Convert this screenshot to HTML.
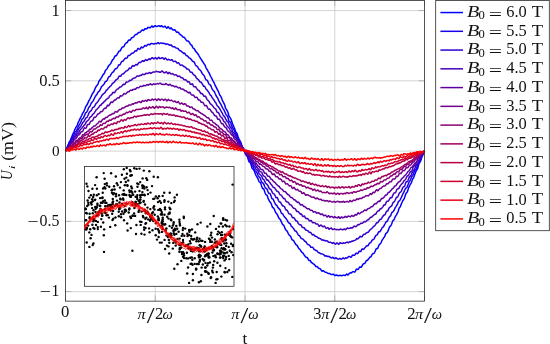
<!DOCTYPE html>
<html><head><meta charset="utf-8"><title>plot</title>
<style>html,body{margin:0;padding:0;background:#fff}svg{display:block}</style></head>
<body>
<svg width="550" height="344" viewBox="0 0 550 344">
<rect width="550" height="344" fill="#fff"/>
<g stroke="#c6c6c6" stroke-width="0.75" fill="none">
<line x1="155.26" y1="0.45" x2="155.26" y2="301.15"/>
<line x1="245.03" y1="0.45" x2="245.03" y2="301.15"/>
<line x1="334.79" y1="0.45" x2="334.79" y2="301.15"/>
<line x1="65.5" y1="10.55" x2="424.55" y2="10.55"/>
<line x1="65.5" y1="80.82" x2="424.55" y2="80.82"/>
<line x1="65.5" y1="151.10" x2="424.55" y2="151.10"/>
<line x1="65.5" y1="221.38" x2="424.55" y2="221.38"/>
<line x1="65.5" y1="291.65" x2="424.55" y2="291.65"/>
</g>
<g stroke="#a0a0a0" stroke-width="0.7" fill="none">
<line x1="65.50" y1="0.45" x2="65.50" y2="6.15"/>
<line x1="65.50" y1="301.15" x2="65.50" y2="295.45"/>
<line x1="155.26" y1="0.45" x2="155.26" y2="6.15"/>
<line x1="155.26" y1="301.15" x2="155.26" y2="295.45"/>
<line x1="245.03" y1="0.45" x2="245.03" y2="6.15"/>
<line x1="245.03" y1="301.15" x2="245.03" y2="295.45"/>
<line x1="334.79" y1="0.45" x2="334.79" y2="6.15"/>
<line x1="334.79" y1="301.15" x2="334.79" y2="295.45"/>
<line x1="424.55" y1="0.45" x2="424.55" y2="6.15"/>
<line x1="424.55" y1="301.15" x2="424.55" y2="295.45"/>
<line x1="65.5" y1="10.55" x2="71.2" y2="10.55"/>
<line x1="424.55" y1="10.55" x2="418.85" y2="10.55"/>
<line x1="65.5" y1="80.82" x2="71.2" y2="80.82"/>
<line x1="424.55" y1="80.82" x2="418.85" y2="80.82"/>
<line x1="65.5" y1="151.10" x2="71.2" y2="151.10"/>
<line x1="424.55" y1="151.10" x2="418.85" y2="151.10"/>
<line x1="65.5" y1="221.38" x2="71.2" y2="221.38"/>
<line x1="424.55" y1="221.38" x2="418.85" y2="221.38"/>
<line x1="65.5" y1="291.65" x2="71.2" y2="291.65"/>
<line x1="424.55" y1="291.65" x2="418.85" y2="291.65"/>
</g>
<g fill="none" stroke-width="1.5" stroke-linejoin="round">
<polyline stroke="#0000ff" points="65.50,150.82 66.00,149.63 66.50,148.46 67.00,147.40 67.49,146.40 67.99,145.48 68.49,144.35 68.99,142.75 69.49,141.56 69.99,140.90 70.49,140.12 70.99,138.89 71.48,137.46 71.98,136.27 72.48,135.08 72.98,133.82 73.48,132.79 73.98,131.74 74.48,130.53 74.97,129.35 75.47,128.22 75.97,127.22 76.47,126.54 76.97,125.82 77.47,124.51 77.97,122.98 78.47,121.90 78.96,121.02 79.46,119.91 79.96,118.85 80.46,118.00 80.96,117.00 81.46,115.95 81.96,114.89 82.46,113.63 82.95,112.79 83.45,112.13 83.95,111.08 84.45,109.95 84.95,108.78 85.45,107.41 85.95,106.23 86.44,105.71 86.94,105.05 87.44,103.88 87.94,102.86 88.44,101.61 88.94,100.50 89.44,99.96 89.94,99.02 90.43,97.81 90.93,96.94 91.43,95.92 91.93,94.68 92.43,93.67 92.93,92.91 93.43,92.40 93.92,91.63 94.42,90.29 94.92,88.97 95.42,87.85 95.92,86.87 96.42,86.06 96.92,85.45 97.42,84.89 97.91,84.11 98.41,82.82 98.91,81.33 99.41,80.60 99.91,80.13 100.41,79.23 100.91,78.41 101.41,77.68 101.90,76.84 102.40,75.87 102.90,74.99 103.40,74.38 103.90,73.92 104.40,73.13 104.90,71.76 105.39,70.62 105.89,70.02 106.39,69.52 106.89,68.86 107.39,68.02 107.89,67.06 108.39,66.16 108.89,65.54 109.38,64.99 109.88,64.49 110.38,63.94 110.88,63.10 111.38,62.10 111.88,61.06 112.38,60.16 112.87,59.60 113.37,59.21 113.87,58.31 114.37,57.26 114.87,56.46 115.37,55.75 115.87,55.64 116.37,55.63 116.86,54.85 117.36,53.96 117.86,53.20 118.36,52.26 118.86,51.42 119.36,51.11 119.86,51.11 120.35,50.60 120.85,49.54 121.35,48.56 121.85,47.66 122.35,47.07 122.85,46.95 123.35,46.88 123.85,46.58 124.34,45.70 124.84,44.51 125.34,43.67 125.84,43.19 126.34,42.86 126.84,42.80 127.34,42.34 127.84,41.34 128.33,40.54 128.83,40.06 129.33,40.05 129.83,40.16 130.33,39.98 130.83,39.10 131.33,38.03 131.82,37.76 132.32,37.67 132.82,37.38 133.32,37.16 133.82,36.66 134.32,35.92 134.82,35.25 135.32,34.65 135.81,34.43 136.31,34.47 136.81,34.26 137.31,33.88 137.81,33.39 138.31,32.76 138.81,32.46 139.30,32.41 139.80,32.33 140.30,32.10 140.80,31.52 141.30,30.79 141.80,30.25 142.30,30.04 142.80,30.10 143.29,30.48 143.79,30.51 144.29,29.52 144.79,28.65 145.29,28.75 145.79,28.96 146.29,28.85 146.78,28.76 147.28,28.23 147.78,27.53 148.28,27.37 148.78,27.43 149.28,27.55 149.78,27.77 150.28,27.72 150.77,27.15 151.27,26.42 151.77,25.94 152.27,26.24 152.77,26.96 153.27,27.11 153.77,26.81 154.27,26.25 154.76,25.66 155.26,25.66 155.76,26.12 156.26,26.44 156.76,26.48 157.26,26.35 157.76,26.09 158.25,25.81 158.75,25.74 159.25,25.84 159.75,26.16 160.25,26.58 160.75,26.38 161.25,25.85 161.75,25.86 162.24,26.34 162.74,26.88 163.24,27.04 163.74,26.86 164.24,26.53 164.74,26.17 165.24,26.47 165.73,27.15 166.23,27.80 166.73,28.23 167.23,27.82 167.73,26.89 168.23,26.76 168.73,27.42 169.23,27.98 169.72,28.54 170.22,28.69 170.72,28.05 171.22,27.84 171.72,28.50 172.22,29.21 172.72,29.75 173.22,30.07 173.71,29.90 174.21,29.73 174.71,29.95 175.21,30.24 175.71,30.87 176.21,31.81 176.71,32.30 177.20,32.25 177.70,32.05 178.20,32.19 178.70,32.72 179.20,33.52 179.70,34.22 180.20,34.52 180.70,34.76 181.19,35.24 181.69,35.67 182.19,36.03 182.69,36.76 183.19,37.31 183.69,37.31 184.19,37.27 184.68,37.79 185.18,38.67 185.68,39.41 186.18,40.01 186.68,40.57 187.18,40.98 187.68,40.90 188.18,40.93 188.67,41.61 189.17,42.16 189.67,42.71 190.17,43.82 190.67,44.71 191.17,44.90 191.67,45.16 192.16,46.16 192.66,47.39 193.16,48.04 193.66,48.34 194.16,48.72 194.66,49.38 195.16,50.34 195.66,51.27 196.15,51.88 196.65,52.37 197.15,52.92 197.65,53.55 198.15,54.28 198.65,55.02 199.15,56.02 199.65,56.88 200.14,57.57 200.64,58.61 201.14,59.33 201.64,59.90 202.14,60.97 202.64,61.71 203.14,62.14 203.63,63.04 204.13,63.93 204.63,64.60 205.13,65.48 205.63,66.68 206.13,67.96 206.63,68.98 207.13,69.56 207.62,70.28 208.12,71.30 208.62,72.19 209.12,73.01 209.62,74.08 210.12,75.38 210.62,76.31 211.11,77.05 211.61,78.02 212.11,79.13 212.61,80.22 213.11,81.08 213.61,81.81 214.11,82.79 214.61,84.02 215.10,85.13 215.60,86.13 216.10,87.08 216.60,88.14 217.10,89.25 217.60,90.05 218.10,90.90 218.59,92.01 219.09,93.21 219.59,94.54 220.09,95.54 220.59,96.13 221.09,96.99 221.59,98.30 222.09,99.59 222.58,100.67 223.08,101.71 223.58,102.70 224.08,103.68 224.58,104.78 225.08,106.41 225.58,108.02 226.08,108.91 226.57,109.64 227.07,110.56 227.57,111.45 228.07,112.66 228.57,114.56 229.07,116.26 229.57,117.06 230.06,117.57 230.56,118.36 231.06,119.50 231.56,120.75 232.06,122.44 232.56,124.11 233.06,125.11 233.56,126.15 234.05,127.23 234.55,128.27 235.05,129.90 235.55,131.55 236.05,132.41 236.55,132.86 237.05,133.56 237.54,134.95 238.04,136.76 238.54,138.19 239.04,139.15 239.54,140.06 240.04,140.98 240.54,141.92 241.04,143.07 241.53,144.60 242.03,146.17 242.53,147.36 243.03,148.24 243.53,148.95 244.03,149.81 244.53,151.31 245.03,153.07 245.52,154.34 246.02,154.95 246.52,155.42 247.02,156.04 247.52,156.74 248.02,158.21 248.52,160.29 249.01,161.72 249.51,162.19 250.01,162.45 250.51,163.20 251.01,164.49 251.51,166.37 252.01,168.12 252.51,168.84 253.00,169.01 253.50,169.44 254.00,170.39 254.50,171.58 255.00,172.97 255.50,174.34 256.00,175.35 256.49,176.24 256.99,177.01 257.49,177.74 257.99,178.84 258.49,180.27 258.99,181.37 259.49,181.96 259.99,182.29 260.48,182.68 260.98,183.86 261.48,185.65 261.98,187.11 262.48,188.15 262.98,188.63 263.48,188.67 263.97,189.45 264.47,191.02 264.97,192.54 265.47,193.79 265.97,194.72 266.47,195.00 266.97,195.16 267.47,196.21 267.96,197.94 268.46,199.19 268.96,200.07 269.46,201.09 269.96,201.82 270.46,202.38 270.96,203.19 271.46,204.32 271.95,205.84 272.45,207.15 272.95,207.66 273.45,207.98 273.95,208.58 274.45,209.52 274.95,210.71 275.44,212.08 275.94,212.97 276.44,213.32 276.94,214.07 277.44,214.97 277.94,215.92 278.44,217.16 278.94,218.21 279.43,218.80 279.93,219.13 280.43,219.74 280.93,220.82 281.43,221.96 281.93,223.09 282.43,224.19 282.92,224.71 283.42,224.91 283.92,225.71 284.42,226.84 284.92,228.11 285.42,229.28 285.92,229.99 286.42,230.43 286.91,230.82 287.41,231.66 287.91,232.75 288.41,233.81 288.91,234.74 289.41,235.26 289.91,235.67 290.40,236.14 290.90,236.92 291.40,238.16 291.90,239.34 292.40,239.95 292.90,240.11 293.40,240.35 293.90,241.08 294.39,242.23 294.89,243.04 295.39,243.65 295.89,244.55 296.39,245.06 296.89,245.16 297.39,245.81 297.89,246.87 298.38,247.88 298.88,248.65 299.38,248.92 299.88,249.30 300.38,250.04 300.88,250.86 301.38,251.73 301.87,252.26 302.37,252.43 302.87,252.98 303.37,253.88 303.87,254.51 304.37,255.20 304.87,256.03 305.37,256.61 305.86,257.15 306.36,257.49 306.86,257.41 307.36,257.70 307.86,258.52 308.36,259.42 308.86,260.29 309.35,260.57 309.85,260.40 310.35,260.69 310.85,261.76 311.35,262.51 311.85,262.67 312.35,263.05 312.85,263.49 313.34,263.83 313.84,264.19 314.34,264.66 314.84,265.14 315.34,265.77 315.84,266.48 316.34,266.63 316.84,266.56 317.33,266.73 317.83,267.23 318.33,267.98 318.83,268.47 319.33,268.59 319.83,268.61 320.33,268.85 320.82,269.51 321.32,270.32 321.82,271.03 322.32,271.20 322.82,270.78 323.32,270.65 323.82,271.07 324.32,271.52 324.81,271.94 325.31,272.16 325.81,272.21 326.31,272.39 326.81,272.65 327.31,273.01 327.81,273.36 328.30,273.46 328.80,273.48 329.30,273.50 329.80,273.60 330.30,273.95 330.80,274.24 331.30,274.44 331.80,274.60 332.29,274.44 332.79,274.34 333.29,274.31 333.79,274.46 334.29,275.14 334.79,275.62 335.29,275.51 335.78,275.21 336.28,274.96 336.78,274.97 337.28,275.32 337.78,275.72 338.28,275.80 338.78,275.56 339.28,275.42 339.77,275.37 340.27,275.37 340.77,275.67 341.27,275.82 341.77,275.59 342.27,275.46 342.77,275.30 343.27,275.16 343.76,275.22 344.26,275.29 344.76,275.42 345.26,275.38 345.76,274.95 346.26,274.30 346.76,274.04 347.25,274.56 347.75,275.07 348.25,274.90 348.75,274.05 349.25,273.29 349.75,273.18 350.25,272.93 350.75,272.77 351.24,272.97 351.74,272.57 352.24,271.86 352.74,271.66 353.24,271.69 353.74,271.65 354.24,271.88 354.73,272.11 355.23,271.51 355.73,270.36 356.23,269.46 356.73,269.07 357.23,269.27 357.73,269.57 358.23,269.29 358.72,268.59 359.22,267.77 359.72,267.04 360.22,266.96 360.72,267.24 361.22,267.17 361.72,266.59 362.21,265.53 362.71,264.58 363.21,264.09 363.71,263.71 364.21,263.61 364.71,263.58 365.21,262.91 365.71,261.73 366.20,260.73 366.70,260.47 367.20,260.48 367.70,260.03 368.20,259.28 368.70,258.71 369.20,258.15 369.70,257.42 370.19,256.98 370.69,256.97 371.19,256.41 371.69,255.15 372.19,254.31 372.69,253.81 373.19,253.51 373.68,253.50 374.18,253.15 374.68,252.26 375.18,251.15 375.68,249.94 376.18,248.89 376.68,248.53 377.18,248.71 377.67,248.39 378.17,247.16 378.67,245.76 379.17,244.80 379.67,244.18 380.17,243.81 380.67,243.42 381.16,242.48 381.66,241.28 382.16,240.17 382.66,239.34 383.16,238.59 383.66,237.77 384.16,237.30 384.66,236.66 385.15,235.20 385.65,233.87 386.15,233.32 386.65,232.95 387.15,232.39 387.65,231.69 388.15,230.67 388.64,229.32 389.14,227.99 389.64,226.86 390.14,226.28 390.64,225.92 391.14,225.12 391.64,223.99 392.14,222.50 392.63,221.15 393.13,220.46 393.63,220.12 394.13,219.52 394.63,218.25 395.13,216.89 395.63,216.02 396.13,215.38 396.62,214.58 397.12,213.57 397.62,212.68 398.12,211.53 398.62,209.74 399.12,208.19 399.62,207.48 400.11,206.91 400.61,205.88 401.11,204.52 401.61,203.31 402.11,202.18 402.61,200.99 403.11,200.20 403.61,199.73 404.10,198.91 404.60,197.60 405.10,196.04 405.60,194.48 406.10,193.30 406.60,192.69 407.10,192.23 407.59,191.10 408.09,189.48 408.59,188.00 409.09,186.87 409.59,185.87 410.09,184.76 410.59,183.84 411.09,183.18 411.58,182.27 412.08,180.65 412.58,179.13 413.08,178.45 413.58,177.78 414.08,176.40 414.58,174.96 415.08,173.71 415.57,172.36 416.07,171.09 416.57,170.26 417.07,169.76 417.57,168.70 418.07,167.01 418.57,165.11 419.06,163.52 419.56,162.71 420.06,162.03 420.56,161.11 421.06,159.84 421.56,158.01 422.06,156.50 422.56,155.55 423.05,154.57 423.55,153.49 424.05,152.31 424.55,151.10"/>
<polyline stroke="#1700e8" points="65.50,150.82 66.00,149.88 66.50,149.09 67.00,148.36 67.49,147.15 67.99,145.61 68.49,144.31 68.99,143.43 69.49,142.85 69.99,142.12 70.49,141.14 70.99,140.15 71.48,139.00 71.98,138.04 72.48,137.24 72.98,136.47 73.48,135.73 73.98,134.72 74.48,133.40 74.97,132.14 75.47,131.58 75.97,131.41 76.47,130.92 76.97,129.96 77.47,128.59 77.97,127.26 78.47,126.27 78.96,125.25 79.46,124.36 79.96,123.71 80.46,122.88 80.96,121.76 81.46,120.48 81.96,119.30 82.46,118.85 82.95,118.65 83.45,117.74 83.95,116.61 84.45,115.63 84.95,114.38 85.45,113.14 85.95,112.59 86.44,112.31 86.94,111.56 87.44,110.61 87.94,109.47 88.44,108.11 88.94,107.14 89.44,106.76 89.94,106.20 90.43,105.00 90.93,103.83 91.43,102.96 91.93,102.25 92.43,101.80 92.93,101.16 93.43,100.27 93.92,99.46 94.42,98.30 94.92,97.12 95.42,96.35 95.92,95.52 96.42,94.87 96.92,94.36 97.42,93.41 97.91,92.44 98.41,91.75 98.91,91.34 99.41,91.04 99.91,90.21 100.41,89.06 100.91,88.01 101.41,86.90 101.90,86.15 102.40,85.89 102.90,85.39 103.40,84.80 103.90,84.31 104.40,83.37 104.90,82.32 105.39,81.71 105.89,81.42 106.39,81.21 106.89,80.76 107.39,79.75 107.89,78.54 108.39,77.45 108.89,76.71 109.38,76.58 109.88,76.45 110.38,75.68 110.88,74.68 111.38,73.96 111.88,73.10 112.38,72.30 112.87,72.06 113.37,71.95 113.87,71.27 114.37,70.17 114.87,69.28 115.37,68.86 115.87,68.77 116.37,68.54 116.86,68.15 117.36,67.71 117.86,66.75 118.36,65.45 118.86,64.85 119.36,64.96 119.86,64.85 120.35,64.02 120.85,63.01 121.35,62.16 121.85,61.48 122.35,61.32 122.85,61.23 123.35,60.66 123.85,59.96 124.34,59.35 124.84,58.79 125.34,58.30 125.84,58.07 126.34,58.28 126.84,58.21 127.34,57.37 127.84,56.21 128.33,55.58 128.83,55.60 129.33,55.52 129.83,55.14 130.33,54.82 130.83,54.35 131.33,53.68 131.82,53.25 132.32,53.21 132.82,53.26 133.32,52.85 133.82,52.38 134.32,52.00 134.82,51.21 135.32,50.68 135.81,50.84 136.31,51.09 136.81,50.75 137.31,49.58 137.81,48.56 138.31,48.44 138.81,48.76 139.30,49.13 139.80,49.21 140.30,48.67 140.80,47.73 141.30,47.03 141.80,47.27 142.30,47.81 142.80,47.74 143.29,47.25 143.79,46.78 144.29,46.19 144.79,45.51 145.29,45.51 145.79,46.01 146.29,46.08 146.78,45.60 147.28,44.99 147.78,44.48 148.28,44.33 148.78,44.41 149.28,44.53 149.78,44.73 150.28,44.46 150.77,43.69 151.27,43.42 151.77,43.56 152.27,43.70 152.77,43.85 153.27,43.82 153.77,43.89 154.27,43.94 154.76,43.62 155.26,43.40 155.76,43.61 156.26,43.71 156.76,43.59 157.26,43.20 157.76,42.70 158.25,42.84 158.75,43.35 159.25,43.72 159.75,43.57 160.25,43.10 160.75,42.96 161.25,42.99 161.75,43.15 162.24,43.45 162.74,43.36 163.24,43.21 163.74,43.46 164.24,43.50 164.74,43.42 165.24,43.80 165.73,44.25 166.23,44.21 166.73,43.99 167.23,44.06 167.73,44.10 168.23,44.20 168.73,44.73 169.23,44.95 169.72,45.07 170.22,45.33 170.72,45.07 171.22,44.87 171.72,45.47 172.22,46.39 172.72,46.78 173.22,46.66 173.71,46.66 174.21,46.71 174.71,46.82 175.21,47.34 175.71,47.82 176.21,47.99 176.71,48.11 177.20,48.26 177.70,48.42 178.20,48.72 178.70,49.42 179.20,50.18 179.70,50.52 180.20,50.70 180.70,50.90 181.19,51.30 181.69,51.81 182.19,52.10 182.69,52.47 183.19,52.89 183.69,53.38 184.19,53.40 184.68,53.13 185.18,53.77 185.68,54.89 186.18,55.54 186.68,55.69 187.18,55.76 187.68,56.17 188.18,56.78 188.67,57.48 189.17,57.90 189.67,58.01 190.17,58.35 190.67,58.82 191.17,59.45 191.67,60.06 192.16,60.69 192.66,61.36 193.16,61.60 193.66,61.67 194.16,62.12 194.66,63.11 195.16,64.30 195.66,65.14 196.15,65.66 196.65,66.05 197.15,66.31 197.65,66.81 198.15,67.82 198.65,68.77 199.15,69.31 199.65,69.73 200.14,70.18 200.64,70.60 201.14,71.35 201.64,72.47 202.14,73.43 202.64,74.08 203.14,74.53 203.63,75.08 204.13,75.74 204.63,76.73 205.13,78.06 205.63,79.09 206.13,79.83 206.63,80.11 207.13,80.19 207.62,80.92 208.12,82.14 208.62,83.27 209.12,84.12 209.62,84.51 210.12,84.79 210.62,85.36 211.11,86.31 211.61,87.72 212.11,88.90 212.61,89.69 213.11,90.43 213.61,90.92 214.11,91.31 214.61,92.22 215.10,93.48 215.60,94.55 216.10,95.72 216.60,96.64 217.10,97.12 217.60,97.90 218.10,99.06 218.59,100.41 219.09,101.48 219.59,102.19 220.09,103.01 220.59,103.88 221.09,104.74 221.59,105.75 222.09,106.91 222.58,107.93 223.08,108.61 223.58,109.23 224.08,110.24 224.58,111.39 225.08,112.34 225.58,113.61 226.08,114.69 226.57,115.04 227.07,115.55 227.57,116.57 228.07,117.96 228.57,119.82 229.07,121.41 229.57,121.79 230.06,121.72 230.56,122.41 231.06,123.96 231.56,125.61 232.06,126.68 232.56,127.57 233.06,128.51 233.56,129.17 234.05,129.81 234.55,130.86 235.05,132.25 235.55,133.39 236.05,134.21 236.55,135.08 237.05,135.96 237.54,137.39 238.04,139.23 238.54,140.36 239.04,140.97 239.54,141.77 240.04,142.39 240.54,142.84 241.04,143.98 241.53,145.46 242.03,146.80 242.53,147.66 243.03,147.76 243.53,148.30 244.03,149.66 244.53,151.20 245.03,152.70 245.52,153.74 246.02,154.37 246.52,154.68 247.02,155.03 247.52,156.21 248.02,157.80 248.52,159.16 249.01,159.96 249.51,160.18 250.01,160.73 250.51,161.87 251.01,163.07 251.51,164.46 252.01,166.05 252.51,166.60 253.00,166.35 253.50,167.12 254.00,168.61 254.50,169.72 255.00,170.60 255.50,171.27 256.00,171.64 256.49,172.02 256.99,172.81 257.49,174.05 257.99,175.25 258.49,176.13 258.99,176.76 259.49,177.21 259.99,177.69 260.48,178.74 260.98,180.23 261.48,181.48 261.98,182.35 262.48,182.82 262.98,183.08 263.48,183.57 263.97,184.62 264.47,185.88 264.97,187.01 265.47,187.96 265.97,188.28 266.47,188.40 266.97,189.09 267.47,190.28 267.96,191.59 268.46,192.70 268.96,193.42 269.46,193.42 269.96,193.57 270.46,194.49 270.96,195.77 271.46,197.34 271.95,198.61 272.45,198.91 272.95,198.89 273.45,199.72 273.95,201.18 274.45,202.27 274.95,203.17 275.44,204.21 275.94,204.94 276.44,205.16 276.94,205.55 277.44,206.55 277.94,207.60 278.44,208.17 278.94,208.61 279.43,209.09 279.93,209.63 280.43,210.58 280.93,212.04 281.43,213.20 281.93,213.53 282.43,213.78 282.92,214.33 283.42,215.16 283.92,216.11 284.42,216.83 284.92,217.36 285.42,217.79 285.92,218.41 286.42,219.22 286.91,219.88 287.41,220.60 287.91,221.62 288.41,222.56 288.91,223.05 289.41,223.27 289.91,223.56 290.40,224.11 290.90,225.32 291.40,226.43 291.90,226.68 292.40,227.11 292.90,227.76 293.40,228.22 293.90,228.96 294.39,229.96 294.89,230.76 295.39,231.01 295.89,231.12 296.39,231.64 296.89,232.36 297.39,233.25 297.89,234.30 298.38,235.09 298.88,235.39 299.38,235.57 299.88,236.22 300.38,237.12 300.88,237.96 301.38,238.52 301.87,238.65 302.37,238.86 302.87,239.14 303.37,239.44 303.87,240.18 304.37,240.93 304.87,241.29 305.37,241.42 305.86,241.78 306.36,242.50 306.86,243.37 307.36,244.07 307.86,244.47 308.36,244.67 308.86,244.86 309.35,245.19 309.85,245.64 310.35,246.47 310.85,247.29 311.35,247.37 311.85,247.20 312.35,247.24 312.85,247.40 313.34,248.08 313.84,249.15 314.34,249.59 314.84,249.71 315.34,250.22 315.84,250.50 316.34,250.38 316.84,250.62 317.33,251.33 317.83,252.04 318.33,252.50 318.83,252.71 319.33,252.82 319.83,253.10 320.33,253.56 320.82,253.73 321.32,253.68 321.82,253.90 322.32,254.04 322.82,254.14 323.32,254.53 323.82,254.85 324.32,255.32 324.81,255.92 325.31,255.92 325.81,255.72 326.31,255.95 326.81,256.36 327.31,256.41 327.81,256.26 328.30,256.43 328.80,256.46 329.30,256.40 329.80,256.88 330.30,257.49 330.80,257.60 331.30,257.83 331.80,258.08 332.29,257.55 332.79,257.19 333.29,257.70 333.79,258.23 334.29,258.52 334.79,258.61 335.29,258.18 335.78,257.78 336.28,258.04 336.78,258.46 337.28,258.74 337.78,258.95 338.28,259.13 338.78,258.96 339.28,258.46 339.77,258.45 340.27,258.71 340.77,258.97 341.27,259.18 341.77,259.00 342.27,258.55 342.77,258.06 343.27,257.92 343.76,258.31 344.26,258.75 344.76,258.78 345.26,258.35 345.76,257.83 346.26,257.79 346.76,258.06 347.25,257.92 347.75,257.43 348.25,256.87 348.75,256.58 349.25,256.53 349.75,256.54 350.25,256.93 350.75,257.32 351.24,257.21 351.74,256.45 352.24,255.45 352.74,255.01 353.24,255.15 353.74,255.36 354.24,255.27 354.73,255.04 355.23,254.35 355.73,253.38 356.23,253.10 356.73,253.32 357.23,253.66 357.73,253.60 358.23,252.91 358.72,251.92 359.22,251.23 359.72,251.28 360.22,251.48 360.72,251.50 361.22,250.77 361.72,249.48 362.21,248.88 362.71,249.02 363.21,249.27 363.71,249.22 364.21,248.66 364.71,247.92 365.21,247.48 365.71,246.93 366.20,246.24 366.70,245.85 367.20,245.75 367.70,245.90 368.20,245.50 368.70,244.36 369.20,243.53 369.70,243.06 370.19,242.89 370.69,242.72 371.19,241.84 371.69,240.83 372.19,240.19 372.69,239.81 373.19,239.63 373.68,239.34 374.18,238.56 374.68,237.57 375.18,236.66 375.68,235.73 376.18,235.11 376.68,235.00 377.18,234.76 377.67,233.92 378.17,232.80 378.67,231.93 379.17,231.60 379.67,231.71 380.17,231.50 380.67,230.52 381.16,229.60 381.66,228.79 382.16,227.69 382.66,227.16 383.16,227.08 383.66,226.43 384.16,225.33 384.66,224.33 385.15,223.51 385.65,222.60 386.15,221.74 386.65,221.49 387.15,221.40 387.65,220.56 388.15,219.27 388.64,218.28 389.14,217.35 389.64,216.52 390.14,216.27 390.64,215.82 391.14,214.45 391.64,212.99 392.14,212.29 392.63,212.13 393.13,211.56 393.63,210.82 394.13,210.20 394.63,208.97 395.13,207.84 395.63,207.16 396.13,206.42 396.62,205.56 397.12,204.69 397.62,203.78 398.12,202.25 398.62,201.15 399.12,201.06 399.62,200.72 400.11,199.85 400.61,198.79 401.11,197.89 401.61,196.94 402.11,195.70 402.61,194.45 403.11,193.52 403.61,192.69 404.10,191.42 404.60,190.28 405.10,189.41 405.60,188.48 406.10,187.84 406.60,187.52 407.10,187.08 407.59,185.90 408.09,184.41 408.59,183.16 409.09,182.01 409.59,181.33 410.09,180.68 410.59,179.48 411.09,178.14 411.58,176.92 412.08,176.21 412.58,175.62 413.08,174.65 413.58,173.64 414.08,172.38 414.58,170.93 415.08,169.97 415.57,169.67 416.07,169.18 416.57,167.96 417.07,166.70 417.57,165.59 418.07,164.37 418.57,163.29 419.06,162.38 419.56,161.59 420.06,160.70 420.56,159.45 421.06,157.96 421.56,156.57 422.06,155.64 422.56,154.90 423.05,154.12 423.55,153.18 424.05,152.15 424.55,151.10"/>
<polyline stroke="#2e00d1" points="65.50,150.82 66.00,149.90 66.50,149.12 67.00,148.55 67.49,147.90 67.99,147.19 68.49,146.24 68.99,144.93 69.49,143.96 69.99,142.81 70.49,142.20 70.99,142.56 71.48,141.87 71.98,140.23 72.48,139.01 72.98,138.15 73.48,137.35 73.98,136.65 74.48,136.19 74.97,135.63 75.47,134.72 75.97,133.71 76.47,133.00 76.97,132.48 77.47,131.67 77.97,130.61 78.47,129.34 78.96,128.44 79.46,127.87 79.96,127.12 80.46,126.62 80.96,126.00 81.46,125.01 81.96,124.03 82.46,123.02 82.95,122.30 83.45,121.97 83.95,121.46 84.45,120.52 84.95,119.58 85.45,118.74 85.95,117.95 86.44,117.60 86.94,117.37 87.44,116.54 87.94,115.44 88.44,114.31 88.94,113.13 89.44,112.16 89.94,111.58 90.43,111.22 90.93,110.87 91.43,110.25 91.93,109.20 92.43,108.06 92.93,107.43 93.43,107.31 93.92,107.07 94.42,106.53 94.92,105.72 95.42,104.64 95.92,103.58 96.42,103.20 96.92,102.87 97.42,102.03 97.91,101.55 98.41,100.95 98.91,99.86 99.41,99.11 99.91,98.53 100.41,97.89 100.91,97.29 101.41,96.45 101.90,95.49 102.40,94.74 102.90,94.27 103.40,94.02 103.90,93.55 104.40,93.03 104.90,92.75 105.39,92.04 105.89,90.99 106.39,90.22 106.89,89.91 107.39,89.71 107.89,88.93 108.39,87.92 108.89,87.67 109.38,87.28 109.88,86.39 110.38,86.15 110.88,85.89 111.38,85.22 111.88,84.40 112.38,83.40 112.87,83.07 113.37,83.08 113.87,82.57 114.37,81.94 114.87,81.25 115.37,80.62 115.87,80.09 116.37,79.61 116.86,79.32 117.36,79.00 117.86,78.57 118.36,77.56 118.86,76.45 119.36,76.14 119.86,76.05 120.35,76.18 120.85,76.09 121.35,75.09 121.85,74.31 122.35,74.08 122.85,73.89 123.35,73.83 123.85,73.46 124.34,72.73 124.84,72.24 125.34,71.85 125.84,71.30 126.34,70.88 126.84,70.76 127.34,70.52 127.84,70.19 128.33,69.76 128.83,68.81 129.33,68.05 129.83,68.19 130.33,68.57 130.83,68.37 131.33,67.53 131.82,66.67 132.32,66.03 132.82,65.61 133.32,65.84 133.82,66.24 134.32,65.95 134.82,65.44 135.32,64.99 135.81,64.52 136.31,64.58 136.81,65.00 137.31,64.73 137.81,64.00 138.31,63.40 138.81,62.75 139.30,62.36 139.80,62.58 140.30,62.60 140.80,62.20 141.30,61.83 141.80,61.33 142.30,60.75 142.80,60.64 143.29,61.12 143.79,61.47 144.29,61.10 144.79,60.42 145.29,59.89 145.79,59.60 146.29,60.01 146.78,60.56 147.28,60.31 147.78,59.88 148.28,59.48 148.78,58.91 149.28,58.85 149.78,59.43 150.28,59.59 150.77,58.97 151.27,58.38 151.77,57.93 152.27,57.69 152.77,57.97 153.27,58.56 153.77,58.88 154.27,58.60 154.76,58.19 155.26,57.81 155.76,57.68 156.26,58.32 156.76,59.04 157.26,58.87 157.76,58.20 158.25,57.62 158.75,57.38 159.25,57.85 159.75,58.43 160.25,58.55 160.75,58.59 161.25,58.36 161.75,57.82 162.24,57.63 162.74,57.87 163.24,58.36 163.74,59.02 164.24,59.19 164.74,58.49 165.24,57.93 165.73,58.16 166.23,58.89 166.73,59.58 167.23,59.92 167.73,59.82 168.23,59.42 168.73,59.33 169.23,59.65 169.72,59.98 170.22,60.14 170.72,60.23 171.22,60.09 171.72,59.64 172.22,59.72 172.72,60.61 173.22,61.29 173.71,61.48 174.21,61.45 174.71,61.31 175.21,61.24 175.71,61.37 176.21,62.06 176.71,62.93 177.20,63.19 177.70,62.91 178.20,62.64 178.70,62.83 179.20,63.68 179.70,64.49 180.20,64.91 180.70,65.27 181.19,65.16 181.69,64.94 182.19,65.20 182.69,65.48 183.19,65.90 183.69,66.46 184.19,66.77 184.68,66.83 185.18,67.06 185.68,67.47 186.18,68.08 186.68,68.82 187.18,69.07 187.68,69.09 188.18,69.23 188.67,69.44 189.17,70.03 189.67,70.96 190.17,71.83 190.67,72.31 191.17,72.28 191.67,72.19 192.16,72.60 192.66,73.53 193.16,74.28 193.66,74.72 194.16,75.19 194.66,75.32 195.16,75.60 195.66,76.60 196.15,77.64 196.65,78.34 197.15,78.73 197.65,78.97 198.15,79.43 198.65,79.98 199.15,80.67 199.65,81.57 200.14,82.09 200.64,82.20 201.14,82.34 201.64,82.95 202.14,83.75 202.64,84.51 203.14,85.51 203.63,86.24 204.13,86.30 204.63,86.36 205.13,87.25 205.63,88.34 206.13,89.13 206.63,89.67 207.13,90.10 207.62,90.77 208.12,91.49 208.62,92.13 209.12,92.91 209.62,94.00 210.12,94.92 210.62,95.37 211.11,95.60 211.61,96.43 212.11,97.63 212.61,98.26 213.11,98.89 213.61,99.58 214.11,100.22 214.61,101.24 215.10,102.09 215.60,102.44 216.10,103.27 216.60,104.64 217.10,105.54 217.60,106.02 218.10,106.47 218.59,107.00 219.09,107.81 219.59,108.60 220.09,109.49 220.59,110.42 221.09,111.20 221.59,112.16 222.09,112.89 222.58,113.70 223.08,115.01 223.58,115.96 224.08,116.15 224.58,116.44 225.08,117.58 225.58,118.84 226.08,119.59 226.57,120.41 227.07,121.34 227.57,121.79 228.07,122.23 228.57,123.20 229.07,124.45 229.57,125.68 230.06,126.69 230.56,127.46 231.06,127.85 231.56,128.35 232.06,129.69 232.56,131.13 233.06,132.14 233.56,132.76 234.05,133.00 234.55,133.63 235.05,134.74 235.55,135.54 236.05,136.56 236.55,137.84 237.05,138.47 237.54,138.81 238.04,139.39 238.54,140.35 239.04,141.68 239.54,143.01 240.04,143.72 240.54,144.07 241.04,144.82 241.53,145.60 242.03,146.74 242.53,148.22 243.03,149.01 243.53,149.58 244.03,150.33 244.53,150.86 245.03,151.75 245.52,153.17 246.02,154.30 246.52,154.94 247.02,155.33 247.52,155.75 248.02,156.47 248.52,157.34 249.01,158.64 249.51,159.97 250.01,160.43 250.51,160.81 251.01,161.53 251.51,162.04 252.01,162.86 252.51,163.97 253.00,164.77 253.50,165.51 254.00,165.91 254.50,166.08 255.00,166.91 255.50,168.23 256.00,169.18 256.49,169.73 256.99,169.98 257.49,170.09 257.99,170.86 258.49,172.13 258.99,173.38 259.49,174.22 259.99,174.59 260.48,174.99 260.98,175.40 261.48,175.98 261.98,176.93 262.48,178.15 262.98,179.06 263.48,179.36 263.97,179.81 264.47,180.72 264.97,181.89 265.47,182.97 265.97,183.48 266.47,183.85 266.97,184.38 267.47,184.88 267.96,185.60 268.46,186.70 268.96,187.95 269.46,188.78 269.96,189.05 270.46,189.18 270.96,189.57 271.46,190.43 271.95,191.67 272.45,192.71 272.95,193.31 273.45,193.67 273.95,193.86 274.45,194.39 274.95,195.29 275.44,196.55 275.94,197.65 276.44,197.68 276.94,197.42 277.44,197.81 277.94,199.02 278.44,200.51 278.94,201.51 279.43,201.90 279.93,201.95 280.43,202.23 280.93,203.04 281.43,203.97 281.93,204.80 282.43,205.70 282.92,206.09 283.42,206.02 283.92,206.29 284.42,206.73 284.92,207.58 285.42,209.06 285.92,209.99 286.42,209.95 286.91,210.06 287.41,210.78 287.91,211.67 288.41,212.79 288.91,213.68 289.41,213.97 289.91,214.09 290.40,214.15 290.90,214.53 291.40,215.42 291.90,216.57 292.40,217.48 292.90,217.69 293.40,217.59 293.90,217.80 294.39,218.39 294.89,219.14 295.39,220.05 295.89,220.71 296.39,220.88 296.89,220.93 297.39,221.49 297.89,222.65 298.38,223.61 298.88,224.04 299.38,224.45 299.88,224.77 300.38,224.67 300.88,224.85 301.38,225.67 301.87,226.68 302.37,227.35 302.87,227.61 303.37,227.63 303.87,227.56 304.37,227.93 304.87,228.83 305.37,229.76 305.86,230.02 306.36,230.05 306.86,230.38 307.36,230.58 307.86,230.79 308.36,231.32 308.86,231.91 309.35,232.34 309.85,232.45 310.35,232.42 310.85,232.72 311.35,233.35 311.85,234.10 312.35,234.86 312.85,234.94 313.34,234.47 313.84,234.61 314.34,235.30 314.84,235.93 315.34,236.32 315.84,236.48 316.34,236.57 316.84,236.80 317.33,237.06 317.83,237.49 318.33,238.07 318.83,238.23 319.33,238.21 319.83,238.46 320.33,238.63 320.82,238.92 321.32,239.65 321.82,240.04 322.32,239.82 322.82,239.88 323.32,240.36 323.82,240.45 324.32,240.25 324.81,240.43 325.31,240.87 325.81,240.94 326.31,240.81 326.81,240.85 327.31,240.90 327.81,241.38 328.30,242.08 328.80,242.24 329.30,242.26 329.80,242.38 330.30,242.35 330.80,242.36 331.30,242.57 331.80,243.01 332.29,243.45 332.79,243.17 333.29,242.63 333.79,242.78 334.29,243.28 334.79,243.77 335.29,244.18 335.78,243.97 336.28,243.33 336.78,242.94 337.28,242.96 337.78,243.41 338.28,244.09 338.78,244.41 339.28,243.69 339.77,242.81 340.27,242.85 340.77,243.14 341.27,243.19 341.77,243.33 342.27,243.48 342.77,243.35 343.27,242.96 343.76,242.85 344.26,243.12 344.76,243.20 345.26,242.98 345.76,242.62 346.26,242.46 346.76,242.32 347.25,242.10 347.75,242.42 348.25,242.76 348.75,242.54 349.25,242.05 349.75,241.67 350.25,241.79 350.75,241.93 351.24,241.61 351.74,241.13 352.24,241.02 352.74,241.16 353.24,240.96 353.74,240.64 354.24,240.53 354.73,240.33 355.23,240.09 355.73,239.79 356.23,239.14 356.73,238.61 357.23,238.86 357.73,239.00 358.23,238.43 358.72,237.99 359.22,237.66 359.72,236.84 360.22,236.34 360.72,236.72 361.22,236.89 361.72,236.81 362.21,236.61 362.71,235.68 363.21,234.76 363.71,234.44 364.21,234.29 364.71,234.31 365.21,234.17 365.71,233.45 366.20,232.86 366.70,232.72 367.20,232.58 367.70,232.43 368.20,232.20 368.70,231.76 369.20,231.01 369.70,230.24 370.19,229.73 370.69,229.27 371.19,228.92 371.69,228.55 372.19,228.05 372.69,227.58 373.19,226.92 373.68,226.28 374.18,226.07 374.68,225.86 375.18,225.17 375.68,224.29 376.18,223.39 376.68,222.70 377.18,222.65 377.67,222.67 378.17,222.17 378.67,221.24 379.17,220.49 379.67,219.91 380.17,219.36 380.67,219.36 381.16,219.21 381.66,218.30 382.16,217.34 382.66,216.75 383.16,216.03 383.66,215.18 384.16,215.03 384.66,215.04 385.15,214.50 385.65,213.44 386.15,212.10 386.65,211.16 387.15,210.96 387.65,211.02 388.15,210.13 388.64,208.79 389.14,207.92 389.64,207.39 390.14,207.03 390.64,206.56 391.14,206.18 391.64,205.79 392.14,204.80 392.63,203.47 393.13,202.60 393.63,202.08 394.13,201.66 394.63,201.22 395.13,200.26 395.63,199.06 396.13,198.00 396.62,197.21 397.12,197.14 397.62,196.98 398.12,196.02 398.62,194.74 399.12,193.60 399.62,192.82 400.11,192.33 400.61,192.05 401.11,191.58 401.61,190.57 402.11,189.16 402.61,187.86 403.11,187.23 403.61,186.83 404.10,186.50 404.60,186.16 405.10,184.82 405.60,183.01 406.10,181.93 406.60,181.46 407.10,181.63 407.59,181.50 408.09,180.28 408.59,178.86 409.09,177.63 409.59,176.73 410.09,176.34 410.59,175.88 411.09,175.19 411.58,174.28 412.08,172.86 412.58,171.71 413.08,171.12 413.58,170.43 414.08,169.61 414.58,168.80 415.08,167.81 415.57,166.76 416.07,165.67 416.57,164.72 417.07,164.40 417.57,164.10 418.07,163.22 418.57,162.08 419.06,160.92 419.56,159.86 420.06,159.17 420.56,158.82 421.06,157.99 421.56,156.62 422.06,155.48 422.56,154.41 423.05,153.47 423.55,152.71 424.05,151.95 424.55,151.10"/>
<polyline stroke="#4600b9" points="65.50,150.70 66.00,150.01 66.50,149.25 67.00,148.42 67.49,147.61 67.99,147.10 68.49,146.62 68.99,145.82 69.49,144.84 69.99,143.88 70.49,143.01 70.99,142.50 71.48,142.33 71.98,141.94 72.48,141.36 72.98,140.56 73.48,139.37 73.98,138.29 74.48,137.67 74.97,137.25 75.47,136.82 75.97,136.12 76.47,135.03 76.97,134.13 77.47,133.73 77.97,133.74 78.47,133.48 78.96,132.38 79.46,131.08 79.96,130.18 80.46,129.63 80.96,129.07 81.46,128.55 81.96,127.93 82.46,127.18 82.95,126.76 83.45,126.16 83.95,125.31 84.45,125.02 84.95,124.60 85.45,123.62 85.95,122.66 86.44,121.70 86.94,121.18 87.44,120.92 87.94,120.36 88.44,119.99 88.94,119.33 89.44,118.19 89.94,117.44 90.43,117.04 90.93,116.71 91.43,116.43 91.93,115.65 92.43,114.59 92.93,114.21 93.43,113.89 93.92,113.28 94.42,112.62 94.92,111.87 95.42,111.15 95.92,110.27 96.42,109.55 96.92,109.14 97.42,108.68 97.91,108.18 98.41,107.61 98.91,107.10 99.41,106.39 99.91,105.50 100.41,105.25 100.91,105.24 101.41,104.57 101.90,103.75 102.40,103.27 102.90,103.04 103.40,102.67 103.90,101.92 104.40,101.30 104.90,101.06 105.39,100.60 105.89,99.81 106.39,99.40 106.89,99.04 107.39,98.54 107.89,98.30 108.39,98.06 108.89,97.30 109.38,96.31 109.88,95.75 110.38,95.25 110.88,94.89 111.38,94.74 111.88,94.19 112.38,93.23 112.87,92.40 113.37,92.27 113.87,92.69 114.37,92.74 114.87,92.25 115.37,91.48 115.87,90.53 116.37,89.89 116.86,89.51 117.36,89.07 117.86,88.87 118.36,88.70 118.86,88.06 119.36,87.37 119.86,87.06 120.35,86.97 120.85,86.94 121.35,86.60 121.85,86.03 122.35,85.45 122.85,84.81 123.35,84.33 123.85,84.31 124.34,84.48 124.84,84.39 125.34,83.69 125.84,82.64 126.34,82.12 126.84,82.09 127.34,82.08 127.84,81.88 128.33,81.62 128.83,81.31 129.33,80.62 129.83,80.17 130.33,80.43 130.83,80.44 131.33,80.07 131.82,79.64 132.32,79.12 132.82,78.74 133.32,78.35 133.82,78.11 134.32,78.10 134.82,77.97 135.32,77.70 135.81,77.26 136.31,76.80 136.81,76.21 137.31,75.94 137.81,76.20 138.31,76.15 138.81,76.02 139.30,75.90 139.80,75.50 140.30,75.32 140.80,75.42 141.30,75.34 141.80,74.90 142.30,74.31 142.80,74.09 143.29,74.31 143.79,74.54 144.29,74.61 144.79,74.35 145.29,73.84 145.79,73.42 146.29,73.33 146.78,73.49 147.28,73.53 147.78,73.33 148.28,73.25 148.78,73.10 149.28,72.54 149.78,72.43 150.28,73.00 150.77,73.31 151.27,73.06 151.77,72.77 152.27,72.59 152.77,72.20 153.27,72.03 153.77,72.07 154.27,71.97 154.76,71.95 155.26,71.95 155.76,71.66 156.26,71.30 156.76,71.25 157.26,71.61 157.76,71.88 158.25,71.81 158.75,71.81 159.25,72.02 159.75,72.29 160.25,72.29 160.75,72.11 161.25,71.67 161.75,71.08 162.24,71.08 162.74,71.48 163.24,72.03 163.74,72.59 164.24,72.86 164.74,72.77 165.24,72.56 165.73,72.19 166.23,71.84 166.73,72.05 167.23,72.80 167.73,73.60 168.23,73.63 168.73,72.89 169.23,72.38 169.72,72.70 170.22,73.39 170.72,73.91 171.22,74.09 171.72,73.86 172.22,73.56 172.72,73.70 173.22,74.12 173.71,74.62 174.21,75.00 174.71,75.08 175.21,74.91 175.71,74.69 176.21,74.86 176.71,75.29 177.20,75.90 177.70,76.41 178.20,76.31 178.70,76.18 179.20,76.08 179.70,76.13 180.20,76.85 180.70,77.59 181.19,77.70 181.69,77.61 182.19,77.72 182.69,78.00 183.19,78.58 183.69,79.33 184.19,79.77 184.68,79.74 185.18,79.65 185.68,79.80 186.18,80.12 186.68,80.65 187.18,81.33 187.68,81.91 188.18,81.97 188.67,81.67 189.17,81.81 189.67,82.90 190.17,84.01 190.67,84.32 191.17,84.38 191.67,84.05 192.16,83.70 192.66,84.28 193.16,85.42 193.66,86.46 194.16,86.81 194.66,86.69 195.16,86.76 195.66,87.02 196.15,87.56 196.65,88.34 197.15,89.03 197.65,89.67 198.15,90.23 198.65,90.53 199.15,90.72 199.65,91.37 200.14,92.44 200.64,93.28 201.14,93.65 201.64,93.54 202.14,93.46 202.64,94.00 203.14,94.94 203.63,95.85 204.13,96.33 204.63,96.19 205.13,96.09 205.63,96.50 206.13,97.36 206.63,98.64 207.13,99.50 207.62,99.87 208.12,100.45 208.62,100.93 209.12,101.53 209.62,102.71 210.12,103.55 210.62,103.87 211.11,104.36 211.61,104.73 212.11,105.12 212.61,105.78 213.11,106.44 213.61,107.18 214.11,107.78 214.61,108.19 215.10,108.51 215.60,108.88 216.10,109.86 216.60,111.18 217.10,112.11 217.60,112.41 218.10,112.42 218.59,112.86 219.09,113.79 219.59,114.82 220.09,115.87 220.59,116.77 221.09,117.19 221.59,117.47 222.09,118.09 222.58,118.93 223.08,119.91 223.58,120.97 224.08,121.62 224.58,121.91 225.08,122.36 225.58,123.18 226.08,124.26 226.57,125.23 227.07,125.99 227.57,126.55 228.07,127.01 228.57,127.59 229.07,127.99 229.57,128.76 230.06,130.12 230.56,130.85 231.06,131.07 231.56,131.55 232.06,132.49 232.56,133.80 233.06,134.55 233.56,135.04 234.05,135.85 234.55,136.64 235.05,137.26 235.55,137.46 236.05,138.07 236.55,139.39 237.05,140.37 237.54,140.70 238.04,141.08 238.54,142.20 239.04,143.19 239.54,143.84 240.04,144.86 240.54,145.86 241.04,146.61 241.53,146.93 242.03,147.37 242.53,148.41 243.03,149.26 243.53,149.92 244.03,150.55 244.53,150.72 245.03,151.23 245.52,152.40 246.02,153.17 246.52,153.86 247.02,154.55 247.52,154.74 248.02,155.07 248.52,155.83 249.01,156.77 249.51,157.94 250.01,158.90 250.51,159.37 251.01,159.81 251.51,160.16 252.01,160.55 252.51,161.37 253.00,162.39 253.50,163.38 254.00,163.90 254.50,163.92 255.00,164.17 255.50,164.94 256.00,165.96 256.49,166.96 256.99,167.49 257.49,167.81 257.99,168.42 258.49,168.93 258.99,169.60 259.49,170.60 259.99,171.25 260.48,171.63 260.98,171.93 261.48,172.16 261.98,172.78 262.48,173.94 262.98,175.26 263.48,175.92 263.97,176.11 264.47,176.41 264.97,176.71 265.47,177.41 265.97,178.44 266.47,179.46 266.97,180.18 267.47,180.05 267.96,180.03 268.46,180.76 268.96,181.52 269.46,182.02 269.96,182.64 270.46,183.63 270.96,184.24 271.46,184.56 271.95,185.33 272.45,186.25 272.95,186.98 273.45,187.44 273.95,187.49 274.45,187.72 274.95,188.42 275.44,189.02 275.94,189.73 276.44,190.68 276.94,191.14 277.44,191.23 277.94,191.55 278.44,191.90 278.94,192.49 279.43,193.76 279.93,194.78 280.43,194.84 280.93,195.00 281.43,195.56 281.93,196.08 282.43,196.73 282.92,197.66 283.42,198.45 283.92,198.63 284.42,198.40 284.92,198.76 285.42,200.01 285.92,201.17 286.42,201.66 286.91,201.79 287.41,201.91 287.91,202.17 288.41,202.61 288.91,203.28 289.41,204.25 289.91,204.80 290.40,204.85 290.90,205.01 291.40,205.31 291.90,205.96 292.40,206.84 292.90,207.48 293.40,208.01 293.90,208.25 294.39,208.38 294.89,208.66 295.39,209.01 295.89,209.81 296.39,210.82 296.89,211.42 297.39,211.57 297.89,211.35 298.38,211.57 298.88,212.47 299.38,213.04 299.88,213.60 300.38,214.19 300.88,214.09 301.38,214.12 301.87,214.95 302.37,215.92 302.87,216.49 303.37,216.49 303.87,215.94 304.37,215.88 304.87,216.85 305.37,217.83 305.86,218.40 306.36,218.69 306.86,218.58 307.36,218.47 307.86,218.84 308.36,219.38 308.86,220.03 309.35,220.74 309.85,221.07 310.35,220.94 310.85,220.57 311.35,220.55 311.85,221.52 312.35,222.54 312.85,222.66 313.34,222.62 313.84,222.70 314.34,222.73 314.84,222.75 315.34,223.11 315.84,223.80 316.34,224.00 316.84,223.95 317.33,223.99 317.83,224.13 318.33,225.00 318.83,226.04 319.33,226.27 319.83,225.91 320.33,225.37 320.82,225.03 321.32,225.20 321.82,225.73 322.32,226.31 322.82,226.72 323.32,226.71 323.82,226.29 324.32,226.04 324.81,226.49 325.31,227.41 325.81,228.10 326.31,228.42 326.81,228.19 327.31,227.76 327.81,227.61 328.30,228.04 328.80,229.02 329.30,229.35 329.80,228.78 330.30,228.32 330.80,228.13 331.30,228.04 331.80,228.61 332.29,229.41 332.79,229.52 333.29,229.31 333.79,229.07 334.29,228.82 334.79,229.02 335.29,229.34 335.78,229.60 336.28,229.68 336.78,229.56 337.28,229.51 337.78,229.54 338.28,229.74 338.78,229.86 339.28,229.82 339.77,229.43 340.27,229.05 340.77,229.21 341.27,229.33 341.77,229.48 342.27,229.81 342.77,229.73 343.27,229.47 343.76,229.32 344.26,228.97 344.76,228.93 345.26,229.53 345.76,229.66 346.26,229.09 346.76,228.42 347.25,227.92 347.75,228.03 348.25,228.52 348.75,228.59 349.25,228.34 349.75,228.33 350.25,228.26 350.75,227.76 351.24,227.65 351.74,228.07 352.24,228.08 352.74,227.63 353.24,226.94 353.74,226.29 354.24,226.11 354.73,226.32 355.23,226.58 355.73,226.69 356.23,226.45 356.73,225.94 357.23,225.36 357.73,224.77 358.23,224.55 358.72,224.73 359.22,224.65 359.72,224.28 360.22,223.79 360.72,223.26 361.22,223.15 361.72,223.40 362.21,223.37 362.71,223.01 363.21,222.59 363.71,221.95 364.21,221.49 364.71,221.73 365.21,221.91 365.71,221.53 366.20,221.22 366.70,220.90 367.20,220.19 367.70,219.73 368.20,219.80 368.70,219.51 369.20,218.87 369.70,218.35 370.19,217.85 370.69,217.33 371.19,217.17 371.69,217.13 372.19,216.57 372.69,215.99 373.19,215.68 373.68,215.28 374.18,214.71 374.68,214.33 375.18,214.34 375.68,214.23 376.18,213.48 376.68,212.37 377.18,211.70 377.67,211.27 378.17,210.86 378.67,210.87 379.17,210.70 379.67,209.76 380.17,208.94 380.67,208.73 381.16,208.67 381.66,208.31 382.16,207.63 382.66,207.06 383.16,206.35 383.66,205.33 384.16,204.83 384.66,205.04 385.15,204.85 385.65,203.65 386.15,202.34 386.65,201.59 387.15,201.22 387.65,201.18 388.15,201.17 388.64,200.69 389.14,199.91 389.64,198.98 390.14,198.03 390.64,197.45 391.14,197.51 391.64,197.76 392.14,197.06 392.63,195.63 393.13,194.46 393.63,193.59 394.13,193.00 394.63,192.85 395.13,192.84 395.63,192.42 396.13,191.29 396.62,189.97 397.12,189.08 397.62,188.82 398.12,188.86 398.62,188.69 399.12,187.96 399.62,186.83 400.11,185.93 400.61,185.31 401.11,184.66 401.61,184.01 402.11,183.59 402.61,183.22 403.11,182.34 403.61,181.32 404.10,180.71 404.60,180.29 405.10,179.78 405.60,179.13 406.10,178.28 406.60,177.15 407.10,176.19 407.59,175.86 408.09,175.79 408.59,175.19 409.09,174.24 409.59,173.32 410.09,172.23 410.59,171.58 411.09,171.58 411.58,171.21 412.08,170.28 412.58,169.00 413.08,167.56 413.58,166.40 414.08,166.04 414.58,166.05 415.08,165.60 415.57,164.76 416.07,163.48 416.57,162.23 417.07,161.72 417.57,161.63 418.07,161.62 418.57,161.14 419.06,159.95 419.56,158.50 420.06,157.36 420.56,156.87 421.06,156.56 421.56,156.03 422.06,155.18 422.56,154.13 423.05,153.19 423.55,152.45 424.05,151.80 424.55,151.10"/>
<polyline stroke="#5d00a2" points="65.50,150.60 66.00,150.05 66.50,149.53 67.00,148.56 67.49,147.72 67.99,147.16 68.49,146.89 68.99,146.83 69.49,146.20 69.99,145.74 70.49,145.12 70.99,143.97 71.48,143.20 71.98,142.88 72.48,142.66 72.98,142.15 73.48,141.08 73.98,140.16 74.48,139.55 74.97,138.97 75.47,138.84 75.97,138.59 76.47,137.90 76.97,137.18 77.47,136.10 77.97,135.17 78.47,135.02 78.96,134.92 79.46,134.53 79.96,133.77 80.46,132.81 80.96,132.07 81.46,131.67 81.96,131.65 82.46,131.54 82.95,130.89 83.45,129.71 83.95,128.47 84.45,127.85 84.95,127.98 85.45,128.33 85.95,128.26 86.44,127.34 86.94,125.93 87.44,124.86 87.94,124.42 88.44,124.46 88.94,124.61 89.44,124.01 89.94,122.69 90.43,121.73 90.93,121.34 91.43,120.98 91.93,120.88 92.43,120.79 92.93,120.01 93.43,118.87 93.92,117.73 94.42,117.14 94.92,117.25 95.42,117.16 95.92,116.76 96.42,116.21 96.92,115.45 97.42,114.65 97.91,114.04 98.41,113.83 98.91,113.78 99.41,113.39 99.91,112.79 100.41,112.04 100.91,111.58 101.41,111.66 101.90,111.58 102.40,111.21 102.90,110.48 103.40,109.58 103.90,109.01 104.40,108.48 104.90,108.18 105.39,108.39 105.89,108.28 106.39,107.54 106.89,106.42 107.39,105.33 107.89,105.26 108.39,105.80 108.89,105.52 109.38,104.72 109.88,104.06 110.38,103.14 110.88,102.21 111.38,101.93 111.88,102.29 112.38,102.57 112.87,102.11 113.37,101.30 113.87,100.77 114.37,100.31 114.87,99.95 115.37,99.99 115.87,99.71 116.37,98.99 116.86,98.40 117.36,98.05 117.86,97.80 118.36,97.67 118.86,97.95 119.36,97.85 119.86,96.68 120.35,95.77 120.85,95.84 121.35,96.09 121.85,95.96 122.35,95.63 122.85,95.21 123.35,94.35 123.85,93.62 124.34,93.57 124.84,93.87 125.34,94.09 125.84,93.79 126.34,93.18 126.84,92.64 127.34,92.28 127.84,92.05 128.33,91.67 128.83,91.55 129.33,91.44 129.83,90.78 130.33,90.32 130.83,90.23 131.33,90.20 131.82,90.42 132.32,90.22 132.82,89.50 133.32,89.47 133.82,89.56 134.32,89.12 134.82,89.02 135.32,89.31 135.81,89.05 136.31,88.19 136.81,87.66 137.31,87.61 137.81,87.72 138.31,87.86 138.81,87.74 139.30,87.30 139.80,86.76 140.30,86.31 140.80,86.20 141.30,86.40 141.80,86.42 142.30,86.36 142.80,86.32 143.29,85.72 143.79,85.30 144.29,85.52 144.79,85.66 145.29,85.70 145.79,85.56 146.29,85.20 146.78,84.81 147.28,84.60 147.78,84.98 148.28,85.16 148.78,84.66 149.28,84.49 149.78,84.33 150.28,83.78 150.77,83.95 151.27,84.60 151.77,84.83 152.27,84.84 152.77,84.44 153.27,83.92 153.77,83.87 154.27,84.14 154.76,84.40 155.26,84.35 155.76,84.07 156.26,83.89 156.76,83.89 157.26,83.72 157.76,83.51 158.25,83.72 158.75,83.91 159.25,83.64 159.75,83.27 160.25,83.14 160.75,83.45 161.25,84.04 161.75,84.35 162.24,84.39 162.74,84.29 163.24,84.21 163.74,84.48 164.24,84.56 164.74,84.42 165.24,84.05 165.73,83.62 166.23,83.77 166.73,84.24 167.23,84.46 167.73,84.65 168.23,85.12 168.73,85.21 169.23,84.67 169.72,84.16 170.22,84.35 170.72,84.97 171.22,85.52 171.72,85.67 172.22,85.58 172.72,85.70 173.22,85.75 173.71,85.91 174.21,86.43 174.71,86.85 175.21,86.69 175.71,86.20 176.21,86.17 176.71,86.71 177.20,87.13 177.70,87.39 178.20,87.71 178.70,87.90 179.20,87.79 179.70,87.53 180.20,87.88 180.70,88.74 181.19,89.13 181.69,89.04 182.19,88.90 182.69,88.95 183.19,89.31 183.69,89.69 184.19,90.12 184.68,90.63 185.18,90.78 185.68,90.78 186.18,90.99 186.68,91.40 187.18,91.90 187.68,92.18 188.18,92.62 188.67,92.97 189.17,92.58 189.67,92.19 190.17,92.57 190.67,93.54 191.17,94.40 191.67,94.92 192.16,95.17 192.66,95.10 193.16,94.99 193.66,95.31 194.16,96.10 194.66,97.01 195.16,97.42 195.66,97.29 196.15,97.13 196.65,97.14 197.15,97.54 197.65,98.57 198.15,99.62 198.65,100.09 199.15,100.07 199.65,100.00 200.14,100.53 200.64,101.54 201.14,102.20 201.64,102.37 202.14,102.41 202.64,102.36 203.14,102.53 203.63,103.48 204.13,104.55 204.63,105.36 205.13,105.86 205.63,105.65 206.13,105.45 206.63,105.83 207.13,106.71 207.62,107.85 208.12,108.76 208.62,109.20 209.12,109.14 209.62,109.10 210.12,109.43 210.62,110.21 211.11,111.23 211.61,111.94 212.11,112.28 212.61,112.50 213.11,113.04 213.61,113.86 214.11,114.75 214.61,115.45 215.10,115.81 215.60,116.01 216.10,116.09 216.60,116.47 217.10,117.76 217.60,119.09 218.10,119.38 218.59,119.23 219.09,119.11 219.59,119.50 220.09,120.64 220.59,121.75 221.09,122.78 221.59,123.75 222.09,123.85 222.58,123.53 223.08,124.04 223.58,125.05 224.08,126.02 224.58,126.77 225.08,127.24 225.58,127.58 226.08,127.80 226.57,128.42 227.07,129.58 227.57,130.57 228.07,131.08 228.57,131.45 229.07,131.81 229.57,132.07 230.06,132.56 230.56,133.45 231.06,134.30 231.56,134.85 232.06,135.28 232.56,135.46 233.06,135.81 233.56,137.05 234.05,138.40 234.55,139.00 235.05,139.34 235.55,139.72 236.05,139.86 236.55,140.30 237.05,141.40 237.54,142.71 238.04,143.69 238.54,144.03 239.04,143.95 239.54,144.11 240.04,144.90 240.54,145.98 241.04,146.74 241.53,147.14 242.03,147.70 242.53,148.28 243.03,148.87 243.53,149.66 244.03,150.27 244.53,150.74 245.03,151.42 245.52,152.14 246.02,152.57 246.52,153.14 247.02,154.07 247.52,154.92 248.02,155.55 248.52,155.69 249.01,155.78 249.51,156.30 250.01,156.86 250.51,157.44 251.01,158.17 251.51,158.85 252.01,159.21 252.51,159.47 253.00,160.21 253.50,161.19 254.00,161.72 254.50,162.21 255.00,162.95 255.50,163.34 256.00,163.31 256.49,163.53 256.99,164.49 257.49,165.51 257.99,166.12 258.49,166.32 258.99,166.36 259.49,166.87 259.99,167.76 260.48,168.65 260.98,169.27 261.48,169.51 261.98,169.42 262.48,169.46 262.98,170.10 263.48,170.96 263.97,171.88 264.47,172.83 264.97,173.28 265.47,173.18 265.97,173.32 266.47,173.99 266.97,174.96 267.47,175.88 267.96,176.28 268.46,176.34 268.96,176.31 269.46,176.52 269.96,177.31 270.46,178.26 270.96,179.06 271.46,179.38 271.95,179.44 272.45,180.04 272.95,180.86 273.45,181.26 273.95,181.72 274.45,182.25 274.95,182.51 275.44,182.88 275.94,183.73 276.44,184.39 276.94,184.66 277.44,185.23 277.94,185.76 278.44,185.93 278.94,186.18 279.43,186.82 279.93,187.66 280.43,188.20 280.93,188.58 281.43,188.89 281.93,189.09 282.43,189.54 282.92,190.27 283.42,190.93 283.92,191.43 284.42,191.63 284.92,191.57 285.42,191.68 285.92,192.24 286.42,193.07 286.91,193.67 287.41,194.13 287.91,194.63 288.41,194.70 288.91,194.86 289.41,195.73 289.91,196.45 290.40,197.00 290.90,197.50 291.40,197.44 291.90,197.59 292.40,198.12 292.90,198.43 293.40,199.10 293.90,199.74 294.39,199.74 294.89,199.83 295.39,200.41 295.89,200.99 296.39,201.26 296.89,201.83 297.39,202.41 297.89,202.29 298.38,202.11 298.88,202.50 299.38,203.20 299.88,204.03 300.38,204.79 300.88,205.00 301.38,204.80 301.87,204.56 302.37,204.65 302.87,205.38 303.37,206.20 303.87,206.59 304.37,206.59 304.87,206.60 305.37,207.16 305.86,207.71 306.36,207.99 306.86,208.43 307.36,208.80 307.86,208.89 308.36,208.70 308.86,208.66 309.35,209.14 309.85,209.76 310.35,210.21 310.85,210.38 311.35,210.20 311.85,210.19 312.35,210.65 312.85,211.33 313.34,211.95 313.84,212.14 314.34,211.89 314.84,211.68 315.34,211.72 315.84,212.14 316.34,212.93 316.84,213.30 317.33,213.11 317.83,212.85 318.33,212.79 318.83,212.97 319.33,213.21 319.83,213.65 320.33,214.34 320.82,214.59 321.32,214.14 321.82,213.90 322.32,214.06 322.82,214.48 323.32,215.34 323.82,215.79 324.32,215.58 324.81,215.25 325.31,215.10 325.81,215.42 326.31,216.08 326.81,216.78 327.31,216.99 327.81,216.43 328.30,215.83 328.80,215.74 329.30,216.39 329.80,217.14 330.30,217.05 330.80,216.65 331.30,216.40 331.80,216.50 332.29,216.79 332.79,216.94 333.29,217.54 333.79,217.72 334.29,217.02 334.79,216.64 335.29,217.02 335.78,217.51 336.28,217.52 336.78,217.62 337.28,217.98 337.78,217.71 338.28,216.82 338.78,216.70 339.28,217.58 339.77,218.19 340.27,218.21 340.77,217.69 341.27,216.99 341.77,216.94 342.27,217.58 342.77,217.83 343.27,217.42 343.76,217.43 344.26,217.45 344.76,216.72 345.26,216.33 345.76,216.82 346.26,217.32 346.76,217.34 347.25,216.93 347.75,216.37 348.25,216.09 348.75,216.18 349.25,216.39 349.75,216.64 350.25,216.76 350.75,216.52 351.24,215.90 351.74,215.52 352.24,215.74 352.74,216.14 353.24,216.29 353.74,216.07 354.24,215.69 354.73,215.11 355.23,214.59 355.73,214.68 356.23,215.08 356.73,214.97 357.23,214.17 357.73,213.18 358.23,212.82 358.72,213.29 359.22,213.81 359.72,213.68 360.22,213.19 360.72,212.75 361.22,212.21 361.72,211.98 362.21,211.98 362.71,211.85 363.21,211.48 363.71,210.87 364.21,210.27 364.71,209.97 365.21,210.15 365.71,210.46 366.20,210.55 366.70,210.15 367.20,209.43 367.70,208.85 368.20,208.51 368.70,208.51 369.20,208.42 369.70,208.08 370.19,207.75 370.69,207.22 371.19,206.72 371.69,206.72 372.19,206.72 372.69,206.29 373.19,205.58 373.68,204.86 374.18,204.44 374.68,203.91 375.18,203.51 375.68,203.81 376.18,203.84 376.68,203.21 377.18,202.46 377.67,201.92 378.17,201.54 378.67,201.15 379.17,201.28 379.67,201.44 380.17,200.78 380.67,199.92 381.16,199.11 381.66,198.56 382.16,198.55 382.66,198.42 383.16,197.90 383.66,197.52 384.16,197.16 384.66,196.37 385.15,195.49 385.65,195.06 386.15,194.99 386.65,194.95 387.15,194.46 387.65,193.56 388.15,192.69 388.64,192.30 389.14,192.31 389.64,191.95 390.14,191.22 390.64,190.65 391.14,190.18 391.64,189.57 392.14,188.85 392.63,188.37 393.13,188.20 393.63,187.74 394.13,186.91 394.63,186.21 395.13,185.92 395.63,185.85 396.13,185.47 396.62,184.67 397.12,183.70 397.62,183.00 398.12,182.57 398.62,182.05 399.12,181.66 399.62,181.52 400.11,181.13 400.61,180.39 401.11,179.70 401.61,179.02 402.11,178.39 402.61,177.85 403.11,177.54 403.61,177.13 404.10,176.33 404.60,175.67 405.10,175.26 405.60,174.78 406.10,174.24 406.60,173.63 407.10,172.88 407.59,172.10 408.09,171.52 408.59,171.03 409.09,170.51 409.59,169.88 410.09,169.16 410.59,168.26 411.09,167.26 411.58,167.20 412.08,167.41 412.58,166.60 413.08,165.53 413.58,164.91 414.08,164.27 414.58,163.56 415.08,163.17 415.57,162.80 416.07,162.52 416.57,162.08 417.07,160.72 417.57,159.41 418.07,158.95 418.57,158.88 419.06,158.69 419.56,158.05 420.06,156.82 420.56,155.63 421.06,155.07 421.56,154.73 422.06,154.26 422.56,153.66 423.05,152.96 423.55,152.26 424.05,151.63 424.55,151.10"/>
<polyline stroke="#74008b" points="65.50,150.75 66.00,150.19 66.50,149.59 67.00,149.25 67.49,148.97 67.99,148.38 68.49,147.68 68.99,146.96 69.49,146.55 69.99,146.44 70.49,146.21 70.99,145.94 71.48,145.68 71.98,145.37 72.48,144.71 72.98,143.81 73.48,143.05 73.98,142.94 74.48,143.06 74.97,142.47 75.47,141.63 75.97,140.89 76.47,140.39 76.97,140.39 77.47,140.35 77.97,139.88 78.47,139.18 78.96,138.45 79.46,137.90 79.96,137.83 80.46,137.88 80.96,137.59 81.46,137.03 81.96,135.97 82.46,134.94 82.95,134.76 83.45,134.71 83.95,134.47 84.45,134.01 84.95,133.27 85.45,132.79 85.95,132.63 86.44,132.33 86.94,131.74 87.44,131.53 87.94,131.39 88.44,130.86 88.94,130.37 89.44,129.63 89.94,129.12 90.43,129.37 90.93,129.15 91.43,128.41 91.93,127.89 92.43,127.40 92.93,126.98 93.43,126.43 93.92,126.04 94.42,126.12 94.92,126.06 95.42,125.70 95.92,125.11 96.42,124.43 96.92,123.94 97.42,123.63 97.91,123.22 98.41,122.62 98.91,121.83 99.41,121.26 99.91,121.39 100.41,121.84 100.91,121.99 101.41,121.30 101.90,120.34 102.40,119.69 102.90,119.15 103.40,118.83 103.90,118.90 104.40,119.13 104.90,118.61 105.39,117.65 105.89,117.35 106.39,117.44 106.89,117.39 107.39,117.06 107.89,116.44 108.39,115.87 108.89,115.59 109.38,115.31 109.88,114.88 110.38,114.85 110.88,114.92 111.38,114.50 111.88,114.04 112.38,113.65 112.87,113.57 113.37,113.71 113.87,113.56 114.37,113.02 114.87,112.15 115.37,111.58 115.87,111.62 116.37,111.85 116.86,112.08 117.36,111.98 117.86,111.27 118.36,110.54 118.86,110.06 119.36,109.66 119.86,109.44 120.35,109.52 120.85,109.49 121.35,108.99 121.85,108.30 122.35,107.88 122.85,107.87 123.35,108.01 123.85,107.97 124.34,107.52 124.84,107.14 125.34,106.84 125.84,106.36 126.34,106.31 126.84,106.25 127.34,106.07 127.84,106.10 128.33,105.66 128.83,105.02 129.33,104.92 129.83,104.95 130.33,105.04 130.83,105.05 131.33,104.87 131.82,104.44 132.32,103.80 132.82,103.94 133.32,104.17 133.82,103.69 134.32,103.42 134.82,103.29 135.32,102.87 135.81,102.84 136.31,103.12 136.81,103.08 137.31,102.59 137.81,102.09 138.31,101.84 138.81,101.63 139.30,101.76 139.80,102.01 140.30,102.25 140.80,102.58 141.30,102.27 141.80,101.35 142.30,100.69 142.80,100.79 143.29,101.23 143.79,101.34 144.29,101.11 144.79,100.79 145.29,100.46 145.79,100.30 146.29,100.64 146.78,101.20 147.28,100.86 147.78,99.92 148.28,99.56 148.78,99.71 149.28,99.99 149.78,100.25 150.28,100.38 150.77,100.33 151.27,99.96 151.77,99.34 152.27,99.02 152.77,99.43 153.27,100.03 153.77,100.00 154.27,99.61 154.76,99.32 155.26,99.02 155.76,99.18 156.26,99.83 156.76,100.42 157.26,100.34 157.76,99.62 158.25,98.90 158.75,98.83 159.25,99.50 159.75,100.16 160.25,100.37 160.75,99.79 161.25,99.16 161.75,99.22 162.24,99.31 162.74,99.56 163.24,100.12 163.74,100.42 164.24,99.98 164.74,99.35 165.24,99.29 165.73,99.44 166.23,100.04 166.73,100.89 167.23,100.86 167.73,99.98 168.23,99.35 168.73,99.63 169.23,100.25 169.72,100.57 170.22,100.61 170.72,100.44 171.22,100.20 171.72,100.30 172.22,100.77 172.72,101.18 173.22,101.44 173.71,101.69 174.21,101.55 174.71,101.07 175.21,101.21 175.71,101.87 176.21,102.33 176.71,102.55 177.20,102.44 177.70,101.96 178.20,101.59 178.70,102.01 179.20,103.03 179.70,103.83 180.20,103.99 180.70,103.66 181.19,103.15 181.69,102.89 182.19,103.28 182.69,103.89 183.19,104.36 183.69,104.57 184.19,104.13 184.68,103.65 185.18,103.73 185.68,104.12 186.18,104.96 186.68,105.83 187.18,105.95 187.68,105.87 188.18,106.07 188.67,106.23 189.17,106.57 189.67,107.23 190.17,107.50 190.67,107.38 191.17,107.13 191.67,106.90 192.16,107.28 192.66,108.16 193.16,108.79 193.66,108.91 194.16,108.97 194.66,109.28 195.16,109.65 195.66,110.10 196.15,110.54 196.65,110.67 197.15,110.73 197.65,110.81 198.15,110.81 198.65,111.30 199.15,112.12 199.65,112.43 200.14,112.57 200.64,113.08 201.14,113.40 201.64,113.50 202.14,113.85 202.64,114.21 203.14,114.51 203.63,114.81 204.13,115.23 204.63,115.53 205.13,115.73 205.63,116.30 206.13,116.72 206.63,117.18 207.13,117.71 207.62,117.86 208.12,117.76 208.62,117.97 209.12,118.68 209.62,119.60 210.12,120.32 210.62,120.33 211.11,120.12 211.61,120.27 212.11,120.73 212.61,121.54 213.11,122.36 213.61,122.75 214.11,122.83 214.61,122.88 215.10,123.42 215.60,124.22 216.10,124.47 216.60,124.76 217.10,125.25 217.60,125.40 218.10,125.84 218.59,126.57 219.09,127.20 219.59,127.83 220.09,128.31 220.59,128.81 221.09,129.03 221.59,129.03 222.09,129.45 222.58,130.16 223.08,130.99 223.58,131.35 224.08,131.33 224.58,131.60 225.08,131.93 225.58,132.39 226.08,133.37 226.57,134.40 227.07,134.66 227.57,134.57 228.07,134.95 228.57,135.51 229.07,135.99 229.57,137.02 230.06,137.86 230.56,137.77 231.06,137.88 231.56,138.39 232.06,138.95 232.56,139.84 233.06,140.64 233.56,140.89 234.05,140.94 234.55,141.18 235.05,141.81 235.55,142.77 236.05,143.71 236.55,144.06 237.05,143.72 237.54,143.64 238.04,144.51 238.54,145.39 239.04,145.71 239.54,146.02 240.04,146.66 240.54,147.13 241.04,147.19 241.53,147.69 242.03,148.81 242.53,149.76 243.03,150.11 243.53,150.10 244.03,150.32 244.53,150.98 245.03,151.59 245.52,151.95 246.02,152.30 246.52,152.81 247.02,153.12 247.52,153.26 248.02,153.81 248.52,154.59 249.01,155.38 249.51,156.02 250.01,156.08 250.51,155.82 251.01,156.24 251.51,157.03 252.01,157.43 252.51,158.13 253.00,158.85 253.50,158.74 254.00,158.39 254.50,158.68 255.00,159.76 255.50,160.96 256.00,161.61 256.49,161.71 256.99,161.52 257.49,161.34 257.99,161.69 258.49,162.52 258.99,163.50 259.49,164.27 259.99,164.27 260.48,164.02 260.98,164.25 261.48,164.63 261.98,165.26 262.48,165.98 262.98,166.29 263.48,166.47 263.97,166.60 264.47,166.90 264.97,167.65 265.47,168.44 265.97,168.86 266.47,168.90 266.97,168.87 267.47,168.93 267.96,169.44 268.46,170.43 268.96,171.15 269.46,171.21 269.96,171.18 270.46,171.45 270.96,171.95 271.46,172.71 271.95,173.74 272.45,174.50 272.95,174.56 273.45,174.14 273.95,173.82 274.45,174.14 274.95,175.11 275.44,176.17 275.94,176.75 276.44,176.75 276.94,176.64 277.44,176.82 277.94,177.35 278.44,178.16 278.94,178.83 279.43,178.92 279.93,178.82 280.43,178.99 280.93,179.30 281.43,179.79 281.93,180.82 282.43,181.66 282.92,181.49 283.42,181.19 283.92,181.17 284.42,181.44 284.92,182.51 285.42,183.71 285.92,184.09 286.42,183.91 286.91,183.67 287.41,183.75 287.91,184.30 288.41,184.90 288.91,185.42 289.41,185.83 289.91,185.89 290.40,185.80 290.90,185.77 291.40,186.20 291.90,187.50 292.40,188.49 292.90,188.26 293.40,187.57 293.90,187.40 294.39,187.85 294.89,188.58 295.39,189.33 295.89,189.71 296.39,189.89 296.89,189.63 297.39,189.31 297.89,189.86 298.38,190.50 298.88,190.83 299.38,191.10 299.88,191.29 300.38,191.26 300.88,191.39 301.38,192.37 301.87,193.34 302.37,193.47 302.87,193.23 303.37,192.82 303.87,192.73 304.37,193.35 304.87,194.14 305.37,194.92 305.86,195.35 306.36,195.01 306.86,194.75 307.36,194.80 307.86,194.75 308.36,195.11 308.86,195.65 309.35,195.87 309.85,195.88 310.35,196.00 310.85,196.57 311.35,197.16 311.85,197.32 312.35,197.31 312.85,197.36 313.34,197.17 313.84,196.98 314.34,197.46 314.84,198.12 315.34,198.57 315.84,198.86 316.34,198.58 316.84,198.09 317.33,198.10 317.83,198.53 318.33,199.01 318.83,199.29 319.33,199.44 319.83,199.44 320.33,199.34 320.82,199.23 321.32,199.56 321.82,200.27 322.32,200.49 322.82,200.40 323.32,200.25 323.82,200.36 324.32,200.76 324.81,201.04 325.31,201.03 325.81,200.77 326.31,200.69 326.81,200.61 327.31,200.63 327.81,201.02 328.30,201.58 328.80,201.65 329.30,201.12 329.80,200.88 330.30,201.08 330.80,201.42 331.30,201.68 331.80,201.84 332.29,201.88 332.79,201.89 333.29,201.75 333.79,201.53 334.29,201.53 334.79,201.73 335.29,202.15 335.78,202.22 336.28,201.92 336.78,201.64 337.28,201.21 337.78,201.20 338.28,201.65 338.78,201.99 339.28,202.00 339.77,201.79 340.27,201.77 340.77,201.95 341.27,201.92 341.77,201.76 342.27,201.96 342.77,201.94 343.27,201.31 343.76,201.45 344.26,202.13 344.76,202.16 345.26,201.88 345.76,201.81 346.26,201.81 346.76,201.53 347.25,201.32 347.75,201.60 348.25,201.92 348.75,202.00 349.25,201.64 349.75,200.81 350.25,200.42 350.75,200.97 351.24,201.57 351.74,201.48 352.24,201.28 352.74,200.92 353.24,200.28 353.74,200.09 354.24,200.21 354.73,200.35 355.23,200.51 355.73,200.20 356.23,199.41 356.73,198.82 357.23,198.88 357.73,199.30 358.23,199.50 358.72,199.21 359.22,198.58 359.72,198.27 360.22,198.33 360.72,198.41 361.22,198.61 361.72,198.54 362.21,197.82 362.71,197.19 363.21,197.11 363.71,197.22 364.21,197.13 364.71,196.70 365.21,196.19 365.71,195.75 366.20,195.62 366.70,195.80 367.20,195.86 367.70,195.87 368.20,195.91 368.70,195.59 369.20,194.88 369.70,194.33 370.19,193.87 370.69,193.63 371.19,194.11 371.69,194.36 372.19,193.65 372.69,192.77 373.19,192.23 373.68,192.29 374.18,192.67 374.68,192.50 375.18,191.61 375.68,190.67 376.18,190.16 376.68,189.78 377.18,189.98 377.67,190.73 378.17,190.61 378.67,189.80 379.17,189.32 379.67,188.77 380.17,188.40 380.67,188.44 381.16,188.22 381.66,187.75 382.16,187.09 382.66,186.57 383.16,186.28 383.66,185.95 384.16,185.91 384.66,186.07 385.15,185.81 385.65,185.15 386.15,184.42 386.65,183.77 387.15,183.58 387.65,183.86 388.15,183.76 388.64,183.07 389.14,182.54 389.64,182.09 390.14,181.58 390.64,181.70 391.14,181.86 391.64,181.12 392.14,180.02 392.63,179.25 393.13,179.06 393.63,179.10 394.13,179.09 394.63,179.06 395.13,178.71 395.63,177.61 396.13,176.43 396.62,176.15 397.12,176.43 397.62,176.51 398.12,176.00 398.62,175.05 399.12,173.98 399.62,173.26 400.11,173.25 400.61,173.50 401.11,173.42 401.61,172.75 402.11,171.78 402.61,170.85 403.11,170.48 403.61,170.67 404.10,170.74 404.60,170.39 405.10,169.58 405.60,168.55 406.10,167.67 406.60,167.41 407.10,167.66 407.59,167.79 408.09,167.35 408.59,166.51 409.09,165.72 409.59,165.12 410.09,164.96 410.59,164.95 411.09,164.57 411.58,163.88 412.08,163.01 412.58,162.18 413.08,161.90 413.58,162.03 414.08,161.85 414.58,161.08 415.08,160.12 415.57,159.38 416.07,158.94 416.57,158.73 417.07,158.49 417.57,158.30 418.07,157.87 418.57,156.90 419.06,156.19 419.56,156.06 420.06,155.92 420.56,155.57 421.06,154.95 421.56,154.14 422.06,153.43 422.56,152.84 423.05,152.39 423.55,152.04 424.05,151.63 424.55,151.10"/>
<polyline stroke="#8b0074" points="65.50,150.35 66.00,150.01 66.50,149.35 67.00,148.62 67.49,148.17 67.99,148.24 68.49,148.59 68.99,148.21 69.49,147.27 69.99,146.39 70.49,145.66 70.99,145.33 71.48,145.43 71.98,145.70 72.48,145.40 72.98,144.48 73.48,144.01 73.98,143.81 74.48,143.53 74.97,143.39 75.47,143.07 75.97,142.52 76.47,141.83 76.97,141.27 77.47,141.27 77.97,141.42 78.47,141.21 78.96,140.63 79.46,139.81 79.96,138.92 80.46,138.38 80.96,138.50 81.46,138.58 81.96,138.48 82.46,138.11 82.95,136.95 83.45,136.10 83.95,135.86 84.45,135.67 84.95,135.60 85.45,135.30 85.95,134.76 86.44,134.30 86.94,134.08 87.44,134.16 87.94,134.28 88.44,134.17 88.94,133.49 89.44,132.64 89.94,132.03 90.43,131.49 90.93,131.51 91.43,131.92 91.93,131.71 92.43,130.99 92.93,130.35 93.43,129.65 93.92,129.11 94.42,129.06 94.92,129.06 95.42,128.80 95.92,128.37 96.42,128.00 96.92,127.50 97.42,127.11 97.91,127.05 98.41,126.87 98.91,126.62 99.41,126.21 99.91,125.42 100.41,124.82 100.91,125.02 101.41,125.37 101.90,125.27 102.40,124.64 102.90,123.79 103.40,123.37 103.90,123.28 104.40,123.38 104.90,123.48 105.39,123.09 105.89,122.37 106.39,121.72 106.89,121.18 107.39,121.15 107.89,121.51 108.39,121.26 108.89,120.51 109.38,120.06 109.88,120.09 110.38,120.30 110.88,120.34 111.38,119.91 111.88,119.24 112.38,118.93 112.87,118.74 113.37,118.47 113.87,118.31 114.37,118.42 114.87,118.67 115.37,118.33 115.87,117.37 116.37,116.90 116.86,116.98 117.36,116.93 117.86,117.12 118.36,117.00 118.86,116.19 119.36,115.61 119.86,115.36 120.35,115.35 120.85,115.63 121.35,115.80 121.85,115.37 122.35,114.79 122.85,114.39 123.35,113.96 123.85,114.05 124.34,114.34 124.84,113.90 125.34,113.39 125.84,112.99 126.34,112.33 126.84,112.19 127.34,112.63 127.84,112.65 128.33,112.37 128.83,112.01 129.33,111.47 129.83,111.25 130.33,111.75 130.83,112.31 131.33,112.20 131.82,111.54 132.32,110.81 132.82,110.39 133.32,110.36 133.82,110.63 134.32,110.78 134.82,110.67 135.32,110.32 135.81,109.68 136.31,109.36 136.81,109.48 137.31,109.44 137.81,109.48 138.31,109.53 138.81,109.29 139.30,109.16 139.80,109.16 140.30,109.15 140.80,109.23 141.30,109.34 141.80,108.99 142.30,108.33 142.80,108.05 143.29,107.91 143.79,108.03 144.29,108.43 144.79,108.57 145.29,108.50 145.79,107.94 146.29,107.25 146.78,107.68 147.28,108.53 147.78,108.75 148.28,108.49 148.78,107.70 149.28,106.87 149.78,106.88 150.28,107.57 150.77,107.94 151.27,107.74 151.77,107.48 152.27,107.02 152.77,106.50 153.27,106.86 153.77,107.85 154.27,108.23 154.76,107.99 155.26,107.58 155.76,106.83 156.26,106.19 156.76,106.41 157.26,107.21 157.76,107.81 158.25,107.91 158.75,107.35 159.25,106.54 159.75,106.46 160.25,107.12 160.75,107.51 161.25,107.25 161.75,106.91 162.24,106.97 162.74,106.95 163.24,106.87 163.74,107.34 164.24,107.92 164.74,107.98 165.24,107.69 165.73,107.36 166.23,107.01 166.73,107.09 167.23,107.36 167.73,107.38 168.23,107.59 168.73,107.71 169.23,107.36 169.72,107.31 170.22,107.68 170.72,107.97 171.22,108.32 171.72,108.45 172.22,108.02 172.72,107.79 173.22,108.45 173.71,109.17 174.21,109.31 174.71,109.04 175.21,108.26 175.71,107.89 176.21,108.44 176.71,109.12 177.20,109.59 177.70,109.76 178.20,109.70 178.70,109.71 179.20,109.65 179.70,109.44 180.20,109.84 180.70,110.80 181.19,111.12 181.69,110.73 182.19,110.54 182.69,110.73 183.19,110.98 183.69,111.22 184.19,111.31 184.68,111.29 185.18,111.16 185.68,111.12 186.18,111.37 186.68,112.05 187.18,112.81 187.68,112.81 188.18,112.55 188.67,112.30 189.17,112.20 189.67,112.86 190.17,113.65 190.67,114.25 191.17,114.56 191.67,114.19 192.16,113.67 192.66,113.48 193.16,113.87 193.66,114.76 194.16,115.35 194.66,115.48 195.16,115.15 195.66,114.64 196.15,114.84 196.65,115.86 197.15,116.93 197.65,117.14 198.15,116.76 198.65,116.68 199.15,117.01 199.65,117.54 200.14,118.00 200.64,118.47 201.14,119.00 201.64,119.06 202.14,119.00 202.64,119.30 203.14,119.71 203.63,120.36 204.13,120.95 204.63,120.94 205.13,120.66 205.63,120.66 206.13,121.17 206.63,122.13 207.13,122.84 207.62,123.15 208.12,123.05 208.62,122.59 209.12,122.96 209.62,123.90 210.12,124.23 210.62,124.58 211.11,125.20 211.61,125.10 212.11,124.90 212.61,125.35 213.11,125.81 213.61,126.34 214.11,126.94 214.61,127.02 215.10,126.92 215.60,127.14 216.10,127.73 216.60,128.60 217.10,129.38 217.60,129.69 218.10,129.45 218.59,129.19 219.09,129.56 219.59,130.63 220.09,131.76 220.59,132.12 221.09,132.08 221.59,132.08 222.09,132.20 222.58,132.77 223.08,133.50 223.58,134.22 224.08,134.61 224.58,134.59 225.08,134.57 225.58,134.74 226.08,135.51 226.57,136.92 227.07,137.90 227.57,137.70 228.07,137.18 228.57,137.28 229.07,137.73 229.57,138.09 230.06,138.77 230.56,139.42 231.06,139.74 231.56,140.26 232.06,140.56 232.56,140.65 233.06,141.06 233.56,141.48 234.05,141.96 234.55,142.56 235.05,142.95 235.55,143.27 236.05,143.72 236.55,144.29 237.05,144.71 237.54,144.85 238.04,145.30 238.54,146.01 239.04,146.39 239.54,146.62 240.04,147.26 240.54,148.13 241.04,148.25 241.53,147.83 242.03,148.07 242.53,148.98 243.03,149.68 243.53,150.04 244.03,150.35 244.53,150.75 245.03,151.20 245.52,151.37 246.02,151.58 246.52,152.24 247.02,152.94 247.52,153.03 248.02,152.84 248.52,152.98 249.01,153.28 249.51,153.79 250.01,154.29 250.51,154.64 251.01,154.88 251.51,155.16 252.01,155.78 252.51,156.42 253.00,156.73 253.50,157.12 254.00,157.37 254.50,157.03 255.00,157.17 255.50,158.15 256.00,159.05 256.49,159.57 256.99,159.61 257.49,159.46 257.99,159.68 258.49,160.06 258.99,160.35 259.49,160.77 259.99,161.18 260.48,161.66 260.98,162.15 261.48,162.17 261.98,162.06 262.48,162.52 262.98,163.40 263.48,163.97 263.97,163.98 264.47,163.80 264.97,163.68 265.47,164.25 265.97,165.42 266.47,166.10 266.97,166.07 267.47,166.16 267.96,166.42 268.46,166.52 268.96,167.00 269.46,167.87 269.96,168.55 270.46,168.90 270.96,168.75 271.46,168.48 271.95,168.77 272.45,169.32 272.95,169.75 273.45,170.32 273.95,170.59 274.45,170.45 274.95,170.77 275.44,171.31 275.94,171.91 276.44,172.62 276.94,173.03 277.44,172.97 277.94,172.63 278.44,172.71 278.94,173.55 279.43,174.64 279.93,174.96 280.43,174.61 280.93,174.36 281.43,174.41 281.93,174.92 282.43,175.97 282.92,176.67 283.42,176.64 283.92,176.71 284.42,176.61 284.92,176.45 285.42,176.92 285.92,177.70 286.42,178.47 286.91,178.62 287.41,178.32 287.91,178.37 288.41,178.76 288.91,179.51 289.41,180.28 289.91,180.70 290.40,180.69 290.90,180.39 291.40,180.09 291.90,180.35 292.40,181.30 292.90,182.28 293.40,182.38 293.90,181.65 294.39,181.52 294.89,181.86 295.39,182.14 295.89,183.11 296.39,184.18 296.89,184.07 297.39,183.48 297.89,183.57 298.38,184.00 298.88,184.49 299.38,185.02 299.88,185.14 300.38,184.79 300.88,184.60 301.38,184.83 301.87,185.46 302.37,186.24 302.87,186.27 303.37,185.91 303.87,185.96 304.37,186.10 304.87,186.29 305.37,186.69 305.86,187.39 306.36,187.96 306.86,187.83 307.36,187.47 307.86,187.15 308.36,187.41 308.86,188.09 309.35,188.28 309.85,188.55 310.35,188.72 310.85,188.50 311.35,188.56 311.85,188.89 312.35,189.65 312.85,190.37 313.34,190.14 313.84,189.47 314.34,189.06 314.84,189.34 315.34,190.21 315.84,190.87 316.34,190.92 316.84,190.69 317.33,190.32 317.83,189.96 318.33,190.30 318.83,190.98 319.33,191.43 319.83,191.58 320.33,191.21 320.82,191.08 321.32,191.54 321.82,192.06 322.32,192.45 322.82,192.66 323.32,192.62 323.82,192.40 324.32,192.39 324.81,192.56 325.31,192.62 325.81,192.86 326.31,192.59 326.81,191.79 327.31,191.71 327.81,192.24 328.30,192.67 328.80,193.12 329.30,193.72 329.80,193.72 330.30,193.26 330.80,193.24 331.30,193.40 331.80,193.33 332.29,193.55 332.79,193.93 333.29,193.65 333.79,193.14 334.29,192.96 334.79,193.19 335.29,193.82 335.78,194.29 336.28,194.31 336.78,193.79 337.28,193.17 337.78,193.19 338.28,193.57 338.78,194.11 339.28,194.55 339.77,194.05 340.27,193.49 340.77,193.54 341.27,193.57 341.77,193.59 342.27,193.80 342.77,194.02 343.27,193.94 343.76,193.52 344.26,193.17 344.76,193.36 345.26,193.78 345.76,193.55 346.26,192.84 346.76,192.60 347.25,192.63 347.75,192.71 348.25,193.09 348.75,193.49 349.25,193.48 349.75,193.09 350.25,192.89 350.75,192.77 351.24,192.51 351.74,192.76 352.24,193.16 352.74,192.69 353.24,191.99 353.74,191.83 354.24,191.76 354.73,191.91 355.23,192.29 355.73,192.26 356.23,191.98 356.73,191.74 357.23,191.41 357.73,191.18 358.23,191.26 358.72,191.31 359.22,191.11 359.72,190.78 360.22,190.37 360.72,189.89 361.22,189.94 361.72,190.40 362.21,190.41 362.71,190.11 363.21,189.75 363.71,189.38 364.21,189.18 364.71,189.09 365.21,189.17 365.71,189.24 366.20,188.98 366.70,188.43 367.20,187.68 367.70,187.62 368.20,188.09 368.70,188.04 369.20,187.76 369.70,187.40 370.19,186.86 370.69,186.37 371.19,186.10 371.69,186.27 372.19,186.52 372.69,186.54 373.19,186.09 373.68,185.55 374.18,185.41 374.68,185.00 375.18,184.42 375.68,184.50 376.18,184.78 376.68,184.26 377.18,183.51 377.67,183.21 378.17,183.42 378.67,183.76 379.17,183.68 379.67,183.22 380.17,182.19 380.67,181.47 381.16,181.72 381.66,181.86 382.16,181.87 382.66,181.71 383.16,181.07 383.66,180.52 384.16,180.06 384.66,179.89 385.15,179.98 385.65,179.87 386.15,179.62 386.65,179.03 387.15,178.38 387.65,178.23 388.15,178.22 388.64,178.12 389.14,177.82 389.64,177.17 390.14,176.41 390.64,175.89 391.14,175.92 391.64,176.02 392.14,175.68 392.63,175.13 393.13,174.58 393.63,174.09 394.13,173.78 394.63,174.02 395.13,174.27 395.63,173.63 396.13,172.62 396.62,172.15 397.12,171.90 397.62,171.73 398.12,171.91 398.62,171.86 399.12,171.24 399.62,170.29 400.11,169.48 400.61,169.17 401.11,169.31 401.61,169.50 402.11,169.24 402.61,168.50 403.11,167.73 403.61,166.99 404.10,166.45 404.60,166.48 405.10,166.63 405.60,166.37 406.10,165.68 406.60,164.80 407.10,164.34 407.59,164.49 408.09,164.45 408.59,164.04 409.09,163.51 409.59,162.91 410.09,162.43 410.59,161.94 411.09,161.79 411.58,161.93 412.08,161.64 412.58,161.10 413.08,160.46 413.58,159.78 414.08,159.63 414.58,159.62 415.08,159.43 415.57,159.20 416.07,158.47 416.57,157.37 417.07,156.72 417.57,156.81 418.07,156.89 418.57,156.75 419.06,156.42 419.56,155.36 420.06,154.30 420.56,154.10 421.06,154.39 421.56,154.47 422.06,153.91 422.56,153.16 423.05,152.32 423.55,151.69 424.05,151.41 424.55,151.10"/>
<polyline stroke="#a2005d" points="65.50,150.82 66.00,150.54 66.50,150.21 67.00,149.94 67.49,149.59 67.99,148.93 68.49,148.49 68.99,148.31 69.49,148.16 69.99,148.26 70.49,147.97 70.99,147.14 71.48,146.30 71.98,145.96 72.48,146.12 72.98,146.28 73.48,146.03 73.98,145.60 74.48,145.27 74.97,144.68 75.47,144.08 75.97,144.18 76.47,144.39 76.97,143.95 77.47,143.44 77.97,142.83 78.47,142.10 78.96,141.97 79.46,142.03 79.96,141.63 80.46,140.99 80.96,140.54 81.46,140.22 81.96,139.95 82.46,139.92 82.95,139.79 83.45,139.52 83.95,138.96 84.45,137.92 84.95,137.63 85.45,137.87 85.95,137.92 86.44,138.12 86.94,137.75 87.44,136.73 87.94,135.98 88.44,135.77 88.94,136.05 89.44,136.26 89.94,136.12 90.43,135.66 90.93,134.95 91.43,134.50 91.93,134.19 92.43,134.05 92.93,134.21 93.43,133.81 93.92,132.99 94.42,132.58 94.92,132.35 95.42,132.25 95.92,132.30 96.42,132.28 96.92,131.82 97.42,131.00 97.91,130.23 98.41,130.07 98.91,130.54 99.41,130.38 99.91,129.73 100.41,129.23 100.91,128.83 101.41,128.62 101.90,128.65 102.40,128.87 102.90,129.09 103.40,129.04 103.90,128.45 104.40,127.64 104.90,127.13 105.39,127.19 105.89,127.41 106.39,127.45 106.89,126.81 107.39,125.63 107.89,125.02 108.39,125.03 108.89,125.31 109.38,125.55 109.88,125.22 110.38,124.59 110.88,124.28 111.38,124.08 111.88,123.95 112.38,124.25 112.87,124.43 113.37,123.92 113.87,123.26 114.37,123.03 114.87,123.11 115.37,123.24 115.87,123.48 116.37,123.67 116.86,123.05 117.36,121.91 117.86,121.53 118.36,121.73 118.86,121.86 119.36,121.96 119.86,121.60 120.35,120.81 120.85,120.13 121.35,119.83 121.85,119.97 122.35,120.50 122.85,121.16 123.35,120.97 123.85,120.10 124.34,119.53 124.84,119.63 125.34,120.02 125.84,120.16 126.34,119.70 126.84,118.89 127.34,118.33 127.84,117.96 128.33,117.87 128.83,118.26 129.33,118.75 129.83,118.46 130.33,117.79 130.83,117.76 131.33,117.78 131.82,117.57 132.32,117.61 132.82,117.73 133.32,117.44 133.82,116.66 134.32,116.24 134.82,116.30 135.32,116.44 135.81,116.92 136.31,117.10 136.81,116.62 137.31,116.18 137.81,116.07 138.31,116.22 138.81,116.26 139.30,116.06 139.80,115.81 140.30,115.62 140.80,115.68 141.30,115.80 141.80,115.68 142.30,115.48 142.80,115.32 143.29,115.27 143.79,115.18 144.29,114.92 144.79,114.77 145.29,115.00 145.79,115.33 146.29,115.16 146.78,114.67 147.28,114.55 147.78,114.69 148.28,114.87 148.78,115.25 149.28,115.24 149.78,114.76 150.28,114.36 150.77,113.97 151.27,113.85 151.77,114.07 152.27,114.32 152.77,114.43 153.27,114.26 153.77,114.08 154.27,113.69 154.76,113.40 155.26,113.74 155.76,113.97 156.26,113.90 156.76,113.72 157.26,113.78 157.76,113.88 158.25,113.78 158.75,114.06 159.25,114.02 159.75,113.67 160.25,113.73 160.75,113.73 161.25,113.67 161.75,114.28 162.24,114.90 162.74,114.32 163.24,113.48 163.74,113.40 164.24,113.65 164.74,113.98 165.24,114.21 165.73,114.32 166.23,114.33 166.73,113.97 167.23,113.63 167.73,113.84 168.23,114.43 168.73,114.96 169.23,114.96 169.72,114.62 170.22,114.46 170.72,114.75 171.22,115.12 171.72,115.17 172.22,115.35 172.72,115.30 173.22,114.91 173.71,114.86 174.21,115.03 174.71,115.32 175.21,115.86 175.71,116.22 176.21,116.05 176.71,115.64 177.20,115.80 177.70,116.17 178.20,116.16 178.70,116.44 179.20,116.71 179.70,116.53 180.20,116.38 180.70,116.49 181.19,116.96 181.69,117.37 182.19,117.38 182.69,117.24 183.19,117.03 183.69,116.91 184.19,117.05 184.68,117.48 185.18,118.27 185.68,118.85 186.18,118.81 186.68,118.31 187.18,118.09 187.68,118.48 188.18,118.81 188.67,119.27 189.17,119.49 189.67,119.11 190.17,119.05 190.67,119.28 191.17,119.50 191.67,119.93 192.16,120.30 192.66,120.37 193.16,120.47 193.66,120.39 194.16,120.26 194.66,120.74 195.16,121.25 195.66,121.24 196.15,121.17 196.65,121.29 197.15,121.34 197.65,121.59 198.15,122.39 198.65,122.96 199.15,122.76 199.65,122.75 200.14,123.27 200.64,123.47 201.14,123.41 201.64,123.93 202.14,124.45 202.64,124.33 203.14,124.19 203.63,124.45 204.13,124.78 204.63,124.92 205.13,125.28 205.63,125.94 206.13,126.28 206.63,125.99 207.13,126.01 207.62,126.98 208.12,127.87 208.62,128.09 209.12,128.06 209.62,128.13 210.12,128.29 210.62,128.62 211.11,129.25 211.61,129.78 212.11,129.85 212.61,129.72 213.11,129.71 213.61,129.90 214.11,130.59 214.61,131.58 215.10,132.21 215.60,132.08 216.10,131.64 216.60,131.66 217.10,131.98 217.60,132.53 218.10,133.48 218.59,134.29 219.09,134.23 219.59,133.62 220.09,133.56 220.59,134.26 221.09,135.33 221.59,136.06 222.09,135.79 222.58,135.40 223.08,135.63 223.58,136.15 224.08,136.98 224.58,138.10 225.08,138.72 225.58,138.37 226.08,137.75 226.57,137.70 227.07,138.55 227.57,139.59 228.07,140.33 228.57,140.76 229.07,140.78 229.57,140.71 230.06,140.64 230.56,140.88 231.06,141.56 231.56,142.02 232.06,142.29 232.56,142.66 233.06,143.09 233.56,143.55 234.05,143.95 234.55,144.40 235.05,144.89 235.55,145.23 236.05,145.08 236.55,145.03 237.05,145.73 237.54,146.39 238.04,146.83 238.54,147.37 239.04,147.39 239.54,147.11 240.04,147.54 240.54,148.67 241.04,149.70 241.53,149.96 242.03,149.50 242.53,149.33 243.03,149.51 243.53,149.67 244.03,150.16 244.53,151.10 245.03,152.09 245.52,152.25 246.02,151.88 246.52,151.83 247.02,152.20 247.52,152.99 248.02,153.66 248.52,153.90 249.01,153.91 249.51,153.65 250.01,153.90 250.51,154.81 251.01,155.51 251.51,155.83 252.01,155.55 252.51,155.23 253.00,155.50 253.50,156.08 254.00,156.79 254.50,157.04 255.00,157.20 255.50,157.64 256.00,157.80 256.49,157.78 256.99,158.21 257.49,158.93 257.99,159.23 258.49,159.30 258.99,159.32 259.49,159.52 259.99,160.00 260.48,160.52 260.98,161.24 261.48,161.48 261.98,161.06 262.48,160.94 262.98,161.28 263.48,161.85 263.97,162.38 264.47,162.78 264.97,163.36 265.47,163.55 265.97,163.20 266.47,163.22 266.97,163.85 267.47,164.58 267.96,165.10 268.46,165.29 268.96,165.25 269.46,165.37 269.96,165.59 270.46,165.65 270.96,166.21 271.46,166.76 271.95,166.78 272.45,166.84 272.95,166.97 273.45,167.36 273.95,167.88 274.45,168.38 274.95,168.72 275.44,168.71 275.94,168.94 276.44,169.51 276.94,169.68 277.44,169.94 277.94,170.58 278.44,170.91 278.94,171.05 279.43,171.03 279.93,171.05 280.43,171.71 280.93,172.27 281.43,172.28 281.93,171.87 282.43,171.46 282.92,172.10 283.42,172.91 283.92,173.01 284.42,173.35 284.92,173.84 285.42,174.11 285.92,174.05 286.42,173.88 286.91,174.46 287.41,175.05 287.91,175.07 288.41,175.37 288.91,175.87 289.41,175.99 289.91,175.74 290.40,175.70 290.90,176.35 291.40,176.83 291.90,176.74 292.40,177.07 292.90,177.63 293.40,177.57 293.90,177.62 294.39,178.05 294.89,178.13 295.39,178.03 295.89,178.22 296.39,178.65 296.89,178.92 297.39,179.07 297.89,179.42 298.38,179.54 298.88,179.51 299.38,179.83 299.88,180.08 300.38,180.26 300.88,180.89 301.38,181.44 301.87,181.25 302.37,180.90 302.87,180.95 303.37,181.04 303.87,181.36 304.37,181.93 304.87,182.08 305.37,181.90 305.86,181.86 306.36,182.07 306.86,182.50 307.36,183.05 307.86,183.26 308.36,183.06 308.86,182.72 309.35,182.44 309.85,183.00 310.35,184.12 310.85,184.56 311.35,184.19 311.85,183.60 312.35,183.38 312.85,183.86 313.34,184.33 313.84,184.54 314.34,184.89 314.84,184.94 315.34,184.51 315.84,184.31 316.34,184.59 316.84,185.15 317.33,185.79 317.83,185.68 318.33,185.26 318.83,185.43 319.33,185.56 319.83,185.87 320.33,186.42 320.82,186.39 321.32,186.28 321.82,185.91 322.32,185.45 322.82,185.90 323.32,186.52 323.82,186.70 324.32,186.68 324.81,186.43 325.31,185.95 325.81,185.84 326.31,186.24 326.81,186.94 327.31,187.45 327.81,187.06 328.30,186.53 328.80,186.45 329.30,186.77 329.80,187.44 330.30,187.87 330.80,187.74 331.30,187.36 331.80,187.11 332.29,187.15 332.79,187.33 333.29,187.37 333.79,187.72 334.29,188.30 334.79,188.01 335.29,187.34 335.78,187.15 336.28,187.29 336.78,187.66 337.28,187.97 337.78,187.77 338.28,187.12 338.78,186.71 339.28,187.10 339.77,187.77 340.27,188.10 340.77,187.87 341.27,187.26 341.77,186.96 342.27,186.89 342.77,186.87 343.27,187.35 343.76,187.91 344.26,187.83 344.76,187.37 345.26,187.00 345.76,187.01 346.26,187.16 346.76,187.38 347.25,187.62 347.75,187.47 348.25,186.99 348.75,186.54 349.25,186.72 349.75,187.47 350.25,187.94 350.75,187.80 351.24,187.25 351.74,186.66 352.24,186.52 352.74,186.79 353.24,187.07 353.74,187.09 354.24,187.02 354.73,186.70 355.23,185.95 355.73,185.61 356.23,185.93 356.73,186.35 357.23,186.25 357.73,185.41 358.23,184.75 358.72,184.65 359.22,184.82 359.72,185.37 360.22,185.85 360.72,185.89 361.22,185.41 361.72,184.56 362.21,183.99 362.71,184.02 363.21,184.43 363.71,184.44 364.21,183.89 364.71,183.54 365.21,183.43 365.71,183.45 366.20,183.62 366.70,183.71 367.20,183.43 367.70,182.73 368.20,182.12 368.70,182.28 369.20,182.76 369.70,182.88 370.19,182.67 370.69,182.32 371.19,181.89 371.69,181.36 372.19,181.24 372.69,181.31 373.19,181.38 373.68,181.48 374.18,181.03 374.68,180.40 375.18,180.05 375.68,179.90 376.18,180.03 376.68,180.14 377.18,179.82 377.67,179.20 378.17,178.46 378.67,178.02 379.17,178.18 379.67,178.49 380.17,178.67 380.67,178.26 381.16,177.38 381.66,176.75 382.16,176.40 382.66,176.54 383.16,176.63 383.66,176.12 384.16,175.74 384.66,175.67 385.15,175.50 385.65,175.30 386.15,175.52 386.65,175.77 387.15,175.15 387.65,174.47 388.15,174.33 388.64,174.01 389.14,173.83 389.64,173.96 390.14,173.77 390.64,173.26 391.14,172.52 391.64,171.98 392.14,172.03 392.63,171.93 393.13,171.54 393.63,171.35 394.13,171.09 394.63,170.49 395.13,170.16 395.63,170.18 396.13,169.92 396.62,169.57 397.12,169.49 397.62,169.24 398.12,168.86 398.62,168.62 399.12,168.40 399.62,168.37 400.11,168.12 400.61,167.52 401.11,167.21 401.61,166.92 402.11,166.64 402.61,166.60 403.11,166.16 403.61,165.51 404.10,165.13 404.60,164.66 405.10,164.22 405.60,164.18 406.10,164.25 406.60,163.84 407.10,163.13 407.59,162.71 408.09,162.25 408.59,161.73 409.09,161.55 409.59,161.45 410.09,161.18 410.59,160.91 411.09,160.69 411.58,160.47 412.08,160.22 412.58,160.03 413.08,159.87 413.58,159.31 414.08,158.47 414.58,157.93 415.08,157.60 415.57,157.30 416.07,157.07 416.57,156.77 417.07,156.19 417.57,155.58 418.07,155.32 418.57,155.18 419.06,155.10 419.56,155.06 420.06,154.64 420.56,153.85 421.06,153.03 421.56,152.28 422.06,152.03 422.56,152.30 423.05,152.28 423.55,151.80 424.05,151.44 424.55,151.10"/>
<polyline stroke="#b90046" points="65.50,150.00 66.00,149.83 66.50,149.73 67.00,149.73 67.49,149.45 67.99,148.90 68.49,148.43 68.99,147.86 69.49,147.40 69.99,147.72 70.49,148.18 70.99,147.77 71.48,147.05 71.98,146.58 72.48,146.33 72.98,146.23 73.48,146.08 73.98,145.77 74.48,145.39 74.97,145.16 75.47,145.24 75.97,145.42 76.47,145.46 76.97,145.37 77.47,144.92 77.97,144.10 78.47,143.43 78.96,142.99 79.46,142.74 79.96,143.15 80.46,143.60 80.96,143.36 81.46,142.77 81.96,141.95 82.46,141.39 82.95,141.45 83.45,141.78 83.95,142.13 84.45,141.84 84.95,140.87 85.45,140.27 85.95,140.17 86.44,140.07 86.94,140.02 87.44,140.06 87.94,139.85 88.44,139.22 88.94,138.67 89.44,138.48 89.94,138.60 90.43,138.77 90.93,138.43 91.43,137.89 91.93,137.47 92.43,137.14 92.93,136.97 93.43,137.23 93.92,137.67 94.42,137.36 94.92,136.89 95.42,136.68 95.92,136.37 96.42,136.31 96.92,136.45 97.42,136.37 97.91,135.87 98.41,135.19 98.91,134.83 99.41,135.01 99.91,135.05 100.41,134.63 100.91,134.36 101.41,134.01 101.90,133.37 102.40,133.17 102.90,133.54 103.40,133.70 103.90,133.53 104.40,132.98 104.90,132.29 105.39,131.93 105.89,131.85 106.39,132.17 106.89,132.55 107.39,132.46 107.89,131.97 108.39,131.69 108.89,131.78 109.38,131.59 109.88,131.33 110.38,131.28 110.88,131.03 111.38,130.52 111.88,130.02 112.38,130.15 112.87,130.74 113.37,130.82 113.87,130.44 114.37,129.93 114.87,129.57 115.37,129.55 115.87,129.70 116.37,129.56 116.86,129.19 117.36,129.29 117.86,129.38 118.36,128.95 118.86,128.30 119.36,128.19 119.86,128.68 120.35,128.53 120.85,127.84 121.35,127.56 121.85,127.71 122.35,127.93 122.85,127.97 123.35,128.16 123.85,128.18 124.34,127.34 124.84,126.46 125.34,126.38 125.84,126.96 126.34,127.49 126.84,127.52 127.34,127.05 127.84,126.36 128.33,125.71 128.83,125.58 129.33,126.33 129.83,126.82 130.33,126.53 130.83,126.04 131.33,125.71 131.82,125.60 132.32,125.61 132.82,125.74 133.32,125.70 133.82,125.31 134.32,124.93 134.82,124.63 135.32,124.56 135.81,124.99 136.31,125.55 136.81,125.63 137.31,125.24 137.81,124.68 138.31,124.22 138.81,124.25 139.30,124.50 139.80,124.74 140.30,124.80 140.80,124.33 141.30,123.89 141.80,123.88 142.30,124.16 142.80,124.37 143.29,124.46 143.79,124.47 144.29,123.96 144.79,123.42 145.29,123.50 145.79,124.05 146.29,124.45 146.78,124.15 147.28,123.44 147.78,123.04 148.28,123.20 148.78,123.65 149.28,123.90 149.78,124.08 150.28,124.07 150.77,123.48 151.27,122.93 151.77,122.70 152.27,122.94 152.77,123.67 153.27,123.91 153.77,123.35 154.27,122.76 154.76,122.79 155.26,123.07 155.76,123.09 156.26,123.30 156.76,123.38 157.26,122.67 157.76,122.09 158.25,122.24 158.75,122.66 159.25,123.12 159.75,123.46 160.25,123.45 160.75,122.99 161.25,122.54 161.75,122.67 162.24,123.31 162.74,123.89 163.24,124.02 163.74,123.29 164.24,122.26 164.74,122.21 165.24,122.85 165.73,123.23 166.23,123.54 166.73,123.89 167.23,123.60 167.73,123.05 168.23,123.02 168.73,123.23 169.23,123.62 169.72,123.96 170.22,123.67 170.72,123.14 171.22,123.07 171.72,123.27 172.22,123.73 172.72,124.23 173.22,124.39 173.71,124.49 174.21,124.15 174.71,123.69 175.21,124.06 175.71,124.64 176.21,124.62 176.71,124.39 177.20,124.57 177.70,124.56 178.20,124.27 178.70,124.59 179.20,125.05 179.70,125.11 180.20,124.97 180.70,124.90 181.19,125.08 181.69,125.12 182.19,125.36 182.69,125.76 183.19,125.72 183.69,125.66 184.19,125.72 184.68,125.82 185.18,126.09 185.68,126.41 186.18,126.61 186.68,126.66 187.18,126.69 187.68,126.61 188.18,126.51 188.67,126.87 189.17,127.25 189.67,127.20 190.17,127.06 190.67,126.86 191.17,126.55 191.67,126.83 192.16,127.43 192.66,127.81 193.16,128.14 193.66,128.07 194.16,127.89 194.66,128.05 195.16,128.35 195.66,128.62 196.15,128.81 196.65,129.02 197.15,129.22 197.65,129.37 198.15,129.52 198.65,129.66 199.15,129.65 199.65,129.70 200.14,130.05 200.64,130.14 201.14,130.09 201.64,130.59 202.14,131.13 202.64,131.37 203.14,131.48 203.63,131.13 204.13,130.69 204.63,130.93 205.13,131.59 205.63,132.10 206.13,132.22 206.63,132.13 207.13,132.09 207.62,132.29 208.12,132.81 208.62,133.47 209.12,133.88 209.62,133.92 210.12,133.82 210.62,133.74 211.11,134.02 211.61,134.29 212.11,134.31 212.61,134.79 213.11,135.35 213.61,135.26 214.11,135.01 214.61,135.39 215.10,136.01 215.60,136.11 216.10,136.09 216.60,136.18 217.10,136.28 217.60,136.51 218.10,137.05 218.59,137.84 219.09,138.12 219.59,137.92 220.09,137.74 220.59,137.73 221.09,138.32 221.59,139.03 222.09,139.47 222.58,139.70 223.08,139.60 223.58,139.77 224.08,139.95 224.58,139.97 225.08,140.72 225.58,141.22 226.08,140.84 226.57,140.59 227.07,140.84 227.57,141.30 228.07,141.70 228.57,142.35 229.07,142.99 229.57,143.09 230.06,142.86 230.56,142.84 231.06,143.15 231.56,143.75 232.06,144.51 232.56,144.65 233.06,144.47 233.56,144.55 234.05,144.42 234.55,144.52 235.05,145.24 235.55,145.77 236.05,146.11 236.55,146.21 237.05,146.01 237.54,146.18 238.04,146.97 238.54,147.88 239.04,148.03 239.54,147.61 240.04,147.32 240.54,147.41 241.04,147.97 241.53,148.84 242.03,149.61 242.53,149.83 243.03,149.65 243.53,149.41 244.03,149.42 244.53,150.00 245.03,150.88 245.52,151.33 246.02,151.01 246.52,150.48 247.02,150.49 247.52,150.74 248.02,151.08 248.52,152.02 249.01,152.73 249.51,152.49 250.01,152.30 250.51,152.76 251.01,153.19 251.51,153.65 252.01,154.44 252.51,154.55 253.00,154.23 253.50,154.15 254.00,153.92 254.50,154.10 255.00,154.83 255.50,155.33 256.00,155.31 256.49,155.30 256.99,155.42 257.49,155.55 257.99,156.19 258.49,156.93 258.99,157.10 259.49,156.97 259.99,156.66 260.48,156.58 260.98,157.04 261.48,157.71 261.98,158.16 262.48,158.12 262.98,157.96 263.48,157.92 263.97,157.93 264.47,158.24 264.97,158.91 265.47,159.44 265.97,159.57 266.47,159.40 266.97,159.21 267.47,159.42 267.96,159.98 268.46,160.18 268.96,160.23 269.46,160.35 269.96,160.14 270.46,160.13 270.96,160.82 271.46,161.66 271.95,162.09 272.45,162.19 272.95,161.87 273.45,161.41 273.95,161.68 274.45,162.65 274.95,163.52 275.44,164.03 275.94,164.06 276.44,163.58 276.94,163.32 277.44,163.61 277.94,164.17 278.44,164.54 278.94,164.84 279.43,164.82 279.93,164.32 280.43,164.48 280.93,165.19 281.43,165.61 281.93,165.79 282.43,165.81 282.92,165.56 283.42,165.40 283.92,165.76 284.42,166.30 284.92,166.88 285.42,167.17 285.92,166.99 286.42,166.82 286.91,166.88 287.41,167.31 287.91,167.89 288.41,168.16 288.91,168.01 289.41,167.75 289.91,167.74 290.40,168.16 290.90,168.87 291.40,169.32 291.90,169.35 292.40,169.08 292.90,168.52 293.40,168.30 293.90,168.81 294.39,169.36 294.89,169.57 295.39,169.83 295.89,170.06 296.39,169.78 296.89,169.94 297.39,170.83 297.89,171.18 298.38,171.25 298.88,171.29 299.38,171.19 299.88,171.12 300.38,170.86 300.88,171.07 301.38,171.69 301.87,172.11 302.37,172.13 302.87,171.65 303.37,171.60 303.87,172.20 304.37,172.82 304.87,173.20 305.37,173.39 305.86,173.31 306.36,172.87 306.86,172.87 307.36,173.26 307.86,173.45 308.36,173.52 308.86,173.45 309.35,173.19 309.85,173.05 310.35,173.17 310.85,173.56 311.35,173.98 311.85,174.28 312.35,174.75 312.85,174.86 313.34,174.53 313.84,174.36 314.34,174.67 314.84,175.16 315.34,175.19 315.84,174.86 316.34,174.69 316.84,174.82 317.33,174.98 317.83,175.09 318.33,175.05 318.83,175.14 319.33,175.23 319.83,175.08 320.33,175.26 320.82,175.76 321.32,176.12 321.82,175.96 322.32,175.47 322.82,175.54 323.32,175.62 323.82,175.41 324.32,175.80 324.81,176.29 325.31,176.09 325.81,175.90 326.31,175.97 326.81,176.07 327.31,176.28 327.81,176.49 328.30,176.78 328.80,176.85 329.30,176.25 329.80,175.82 330.30,176.28 330.80,176.68 331.30,176.89 331.80,176.92 332.29,176.64 332.79,176.58 333.29,176.67 333.79,176.95 334.29,177.01 334.79,176.84 335.29,176.89 335.78,176.83 336.28,176.77 336.78,176.79 337.28,176.87 337.78,177.27 338.28,177.39 338.78,176.86 339.28,176.27 339.77,176.27 340.27,176.85 340.77,177.21 341.27,176.99 341.77,176.86 342.27,176.72 342.77,176.28 343.27,176.24 343.76,176.39 344.26,176.61 344.76,176.96 345.26,177.02 345.76,177.04 346.26,176.91 346.76,176.70 347.25,177.05 347.75,177.27 348.25,176.81 348.75,176.45 349.25,176.34 349.75,176.09 350.25,176.15 350.75,176.51 351.24,176.61 351.74,176.43 352.24,176.27 352.74,176.00 353.24,175.60 353.74,175.68 354.24,176.03 354.73,175.93 355.23,175.77 355.73,175.91 356.23,175.89 356.73,175.57 357.23,175.61 357.73,175.74 358.23,175.26 358.72,175.01 359.22,175.13 359.72,174.86 360.22,174.54 360.72,174.88 361.22,175.38 361.72,175.03 362.21,174.36 362.71,174.03 363.21,173.82 363.71,174.07 364.21,174.65 364.71,174.48 365.21,173.69 365.71,173.19 366.20,173.15 366.70,173.45 367.20,173.93 367.70,174.19 368.20,173.92 368.70,173.11 369.20,172.25 369.70,171.94 370.19,172.50 370.69,173.59 371.19,173.81 371.69,172.66 372.19,171.75 372.69,171.72 373.19,171.87 373.68,172.07 374.18,172.13 374.68,171.76 375.18,171.40 375.68,171.31 376.18,171.20 376.68,171.09 377.18,171.29 377.67,171.56 378.17,171.31 378.67,170.45 379.17,169.74 379.67,169.88 380.17,170.26 380.67,170.14 381.16,169.88 381.66,169.65 382.16,169.25 382.66,168.94 383.16,168.83 383.66,168.92 384.16,168.93 384.66,168.51 385.15,167.87 385.65,167.40 386.15,167.47 386.65,167.79 387.15,167.85 387.65,167.74 388.15,167.50 388.64,167.11 389.14,166.56 389.64,166.40 390.14,166.78 390.64,166.85 391.14,166.64 391.64,166.34 392.14,165.89 392.63,165.67 393.13,165.73 393.63,165.76 394.13,165.45 394.63,164.92 395.13,164.48 395.63,164.09 396.13,163.95 396.62,163.97 397.12,163.88 397.62,163.78 398.12,163.68 398.62,163.21 399.12,162.62 399.62,162.72 400.11,162.96 400.61,162.69 401.11,162.16 401.61,161.71 402.11,161.49 402.61,161.22 403.11,160.91 403.61,160.89 404.10,161.14 404.60,160.99 405.10,160.22 405.60,159.72 406.10,159.62 406.60,159.60 407.10,159.81 407.59,159.70 408.09,158.92 408.59,158.32 409.09,158.19 409.59,158.20 410.09,158.30 410.59,158.35 411.09,157.92 411.58,157.13 412.08,156.70 412.58,156.84 413.08,157.19 413.58,157.13 414.08,156.72 414.58,156.41 415.08,155.91 415.57,155.36 416.07,155.32 416.57,155.62 417.07,155.54 417.57,154.90 418.07,154.36 418.57,153.86 419.06,153.62 419.56,153.85 420.06,153.76 420.56,153.26 421.06,152.89 421.56,152.37 422.06,151.96 422.56,151.97 423.05,151.92 423.55,151.71 424.05,151.45 424.55,151.10"/>
<polyline stroke="#d1002e" points="65.50,150.15 66.00,150.01 66.50,149.86 67.00,149.54 67.49,149.22 67.99,149.06 68.49,148.87 68.99,148.79 69.49,148.82 69.99,148.62 70.49,148.14 70.99,147.70 71.48,147.50 71.98,147.57 72.48,147.69 72.98,147.47 73.48,147.08 73.98,146.84 74.48,146.50 74.97,146.06 75.47,146.24 75.97,146.59 76.47,146.47 76.97,145.93 77.47,145.08 77.97,144.50 78.47,144.37 78.96,144.70 79.46,144.96 79.96,144.93 80.46,144.78 80.96,144.18 81.46,143.49 81.96,143.18 82.46,143.29 82.95,143.88 83.45,144.06 83.95,143.33 84.45,142.59 84.95,142.32 85.45,142.52 85.95,142.75 86.44,142.46 86.94,141.88 87.44,141.61 87.94,141.45 88.44,141.24 88.94,141.32 89.44,141.25 89.94,141.03 90.43,140.93 90.93,140.45 91.43,139.84 91.93,139.85 92.43,140.19 92.93,140.35 93.43,140.20 93.92,139.39 94.42,138.51 94.92,138.44 95.42,138.71 95.92,139.05 96.42,139.27 96.92,138.96 97.42,138.53 97.91,138.16 98.41,137.74 98.91,137.62 99.41,138.07 99.91,138.32 100.41,137.68 100.91,136.88 101.41,136.68 101.90,136.96 102.40,137.35 102.90,137.43 103.40,136.96 103.90,136.32 104.40,135.85 104.90,135.49 105.39,135.50 105.89,135.91 106.39,136.22 106.89,136.31 107.39,136.03 107.89,135.53 108.39,135.22 108.89,135.33 109.38,135.66 109.88,135.53 110.38,134.87 110.88,134.06 111.38,133.80 111.88,134.39 112.38,134.98 112.87,135.13 113.37,135.20 113.87,134.51 114.37,133.30 114.87,132.94 115.37,133.27 115.87,133.65 116.37,133.70 116.86,133.43 117.36,133.10 117.86,132.78 118.36,132.69 118.86,132.94 119.36,133.18 119.86,133.07 120.35,132.57 120.85,132.01 121.35,131.68 121.85,131.80 122.35,132.55 122.85,132.93 123.35,132.18 123.85,131.39 124.34,131.22 124.84,130.86 125.34,130.72 125.84,131.44 126.34,131.85 126.84,131.55 127.34,131.11 127.84,130.76 128.33,130.51 128.83,130.44 129.33,130.74 129.83,130.97 130.33,130.54 130.83,129.83 131.33,129.77 131.82,130.06 132.32,129.98 132.82,129.95 133.32,130.06 133.82,129.78 134.32,129.17 134.82,129.01 135.32,129.50 135.81,129.93 136.31,130.05 136.81,129.74 137.31,129.35 137.81,129.19 138.31,129.32 138.81,129.87 139.30,130.16 139.80,129.91 140.30,129.38 140.80,128.89 141.30,128.94 141.80,129.11 142.30,129.13 142.80,129.16 143.29,128.86 143.79,128.48 144.29,128.53 144.79,128.79 145.29,128.94 145.79,128.90 146.29,128.67 146.78,128.61 147.28,128.66 147.78,128.60 148.28,128.59 148.78,128.56 149.28,128.54 149.78,128.35 150.28,127.84 150.77,127.75 151.27,128.09 151.77,128.49 152.27,128.76 152.77,128.54 153.27,128.16 153.77,127.86 154.27,127.74 154.76,127.90 155.26,128.26 155.76,128.45 156.26,128.37 156.76,128.38 157.26,128.25 157.76,128.07 158.25,128.30 158.75,128.53 159.25,128.73 159.75,128.56 160.25,127.73 160.75,127.32 161.25,127.51 161.75,128.00 162.24,128.84 162.74,129.34 163.24,128.97 163.74,128.63 164.24,128.46 164.74,128.32 165.24,128.73 165.73,129.07 166.23,128.78 166.73,128.43 167.23,128.13 167.73,127.86 168.23,128.18 168.73,128.79 169.23,128.86 169.72,128.47 170.22,128.25 170.72,128.30 171.22,128.58 171.72,128.99 172.22,129.17 172.72,128.92 173.22,128.43 173.71,128.32 174.21,128.49 174.71,128.67 175.21,129.07 175.71,129.19 176.21,129.12 176.71,129.08 177.20,128.84 177.70,128.81 178.20,129.22 178.70,129.98 179.20,130.18 179.70,129.47 180.20,129.19 180.70,129.51 181.19,129.84 181.69,129.79 182.19,129.82 182.69,130.13 183.19,129.94 183.69,129.62 184.19,129.58 184.68,129.89 185.18,130.55 185.68,131.06 186.18,130.94 186.68,130.53 187.18,130.47 187.68,130.67 188.18,131.07 188.67,131.50 189.17,131.52 189.67,131.17 190.17,131.00 190.67,131.18 191.17,131.42 191.67,131.91 192.16,132.37 192.66,132.25 193.16,132.00 193.66,132.02 194.16,131.99 194.66,132.25 195.16,132.97 195.66,132.97 196.15,132.49 196.65,132.70 197.15,133.13 197.65,133.11 198.15,133.11 198.65,133.64 199.15,133.85 199.65,133.35 200.14,133.14 200.64,133.67 201.14,134.38 201.64,134.79 202.14,134.91 202.64,134.53 203.14,134.23 203.63,134.51 204.13,134.66 204.63,134.90 205.13,135.63 205.63,135.88 206.13,135.50 206.63,135.32 207.13,135.41 207.62,135.68 208.12,136.15 208.62,136.54 209.12,136.48 209.62,136.17 210.12,136.03 210.62,136.26 211.11,136.99 211.61,137.59 212.11,137.81 212.61,138.10 213.11,138.21 213.61,137.87 214.11,137.90 214.61,138.71 215.10,139.23 215.60,139.07 216.10,138.73 216.60,138.74 217.10,139.16 217.60,139.57 218.10,139.88 218.59,140.10 219.09,140.16 219.59,140.26 220.09,140.22 220.59,140.15 221.09,140.67 221.59,141.25 222.09,141.44 222.58,141.47 223.08,141.13 223.58,140.80 224.08,141.42 224.58,142.55 225.08,143.10 225.58,142.96 226.08,142.48 226.57,142.30 227.07,142.63 227.57,143.07 228.07,143.62 228.57,144.21 229.07,144.19 229.57,143.80 230.06,143.97 230.56,144.36 231.06,144.77 231.56,145.36 232.06,145.66 232.56,145.57 233.06,145.19 233.56,144.88 234.05,145.48 234.55,146.60 235.05,147.12 235.55,147.04 236.05,146.91 236.55,146.73 237.05,146.82 237.54,147.47 238.04,148.10 238.54,148.55 239.04,148.39 239.54,147.78 240.04,147.82 240.54,148.33 241.04,148.98 241.53,149.42 242.03,149.29 242.53,149.12 243.03,149.32 243.53,149.57 244.03,149.76 244.53,150.46 245.03,151.40 245.52,151.38 246.02,150.65 246.52,150.24 247.02,150.62 247.52,151.35 248.02,151.99 248.52,152.42 249.01,152.21 249.51,151.72 250.01,151.53 250.51,151.88 251.01,152.65 251.51,153.23 252.01,153.23 252.51,152.99 253.00,152.98 253.50,153.40 254.00,154.02 254.50,154.24 255.00,154.23 255.50,154.40 256.00,154.39 256.49,154.17 256.99,154.40 257.49,155.02 257.99,155.56 258.49,155.59 258.99,155.22 259.49,155.20 259.99,155.67 260.48,156.27 260.98,156.77 261.48,156.91 261.98,156.60 262.48,156.41 262.98,156.41 263.48,156.47 263.97,156.78 264.47,157.12 264.97,157.39 265.47,157.31 265.97,157.21 266.47,157.46 266.97,157.78 267.47,158.22 267.96,158.58 268.46,158.78 268.96,158.85 269.46,158.66 269.96,158.62 270.46,158.88 270.96,159.37 271.46,159.73 271.95,159.68 272.45,159.57 272.95,159.86 273.45,160.35 273.95,160.58 274.45,160.74 274.95,161.13 275.44,161.55 275.94,161.45 276.44,161.24 276.94,161.36 277.44,161.55 277.94,161.84 278.44,162.00 278.94,161.79 279.43,161.54 279.93,161.79 280.43,162.46 280.93,162.67 281.43,162.53 281.93,162.83 282.43,163.02 282.92,162.87 283.42,162.95 283.92,163.33 284.42,163.74 284.92,163.62 285.42,163.38 285.92,163.80 286.42,164.30 286.91,164.21 287.41,164.30 287.91,164.81 288.41,165.09 288.91,164.94 289.41,164.41 289.91,164.37 290.40,165.06 290.90,165.69 291.40,165.96 291.90,165.76 292.40,165.23 292.90,165.24 293.40,165.86 293.90,166.48 294.39,166.67 294.89,166.39 295.39,166.24 295.89,166.53 296.39,167.10 296.89,167.52 297.39,167.63 297.89,167.56 298.38,167.14 298.88,166.81 299.38,166.87 299.88,167.09 300.38,167.43 300.88,167.81 301.38,167.98 301.87,167.93 302.37,167.91 302.87,167.94 303.37,168.35 303.87,168.94 304.37,169.04 304.87,168.82 305.37,168.58 305.86,168.54 306.36,168.67 306.86,169.01 307.36,169.68 307.86,170.05 308.36,169.68 308.86,168.94 309.35,168.62 309.85,169.08 310.35,169.81 310.85,170.19 311.35,170.01 311.85,169.85 312.35,169.81 312.85,169.80 313.34,170.27 313.84,170.57 314.34,170.41 314.84,170.28 315.34,169.96 315.84,169.56 316.34,169.54 316.84,170.14 317.33,170.86 317.83,171.00 318.33,170.66 318.83,170.25 319.33,170.25 319.83,170.51 320.33,170.66 320.82,170.96 321.32,171.27 321.82,170.99 322.32,170.58 322.82,170.84 323.32,171.63 323.82,172.08 324.32,171.88 324.81,171.82 325.31,171.73 325.81,171.47 326.31,171.35 326.81,171.51 327.31,172.11 327.81,171.97 328.30,171.33 328.80,171.41 329.30,171.78 329.80,172.21 330.30,172.54 330.80,172.38 331.30,171.90 331.80,171.50 332.29,171.42 332.79,171.62 333.29,171.99 333.79,172.49 334.29,172.69 334.79,172.51 335.29,172.44 335.78,172.14 336.28,171.76 336.78,171.92 337.28,172.11 337.78,172.09 338.28,171.85 338.78,171.32 339.28,171.26 339.77,171.96 340.27,172.60 340.77,172.57 341.27,172.25 341.77,171.99 342.27,171.77 342.77,171.97 343.27,172.34 343.76,172.44 344.26,172.31 344.76,171.99 345.26,171.77 345.76,171.61 346.26,171.77 346.76,172.29 347.25,172.44 347.75,172.30 348.25,171.70 348.75,170.96 349.25,170.95 349.75,171.56 350.25,172.03 350.75,172.05 351.24,171.62 351.74,170.95 352.24,170.82 352.74,171.00 353.24,171.28 353.74,171.64 354.24,171.20 354.73,170.44 355.23,170.30 355.73,170.66 356.23,171.15 356.73,171.59 357.23,171.95 357.73,171.77 358.23,171.16 358.72,170.72 359.22,170.54 359.72,170.76 360.22,171.27 360.72,171.29 361.22,170.63 361.72,169.77 362.21,169.49 362.71,170.04 363.21,170.43 363.71,170.33 364.21,170.25 364.71,169.91 365.21,169.47 365.71,169.55 366.20,169.71 366.70,169.66 367.20,169.74 367.70,169.67 368.20,169.37 368.70,168.87 369.20,168.51 369.70,168.97 370.19,169.60 370.69,169.66 371.19,169.03 371.69,168.08 372.19,167.70 372.69,168.03 373.19,168.43 373.68,168.48 374.18,168.43 374.68,168.08 375.18,167.29 375.68,166.81 376.18,167.26 376.68,167.71 377.18,167.40 377.67,166.99 378.17,166.77 378.67,166.70 379.17,166.77 379.67,166.87 380.17,166.84 380.67,166.59 381.16,166.21 381.66,165.87 382.16,165.78 382.66,165.81 383.16,165.85 383.66,165.99 384.16,165.78 384.66,165.31 385.15,164.99 385.65,165.12 386.15,165.30 386.65,165.08 387.15,164.78 387.65,164.40 388.15,163.81 388.64,163.41 389.14,163.59 389.64,163.83 390.14,163.76 390.64,163.38 391.14,163.01 391.64,163.05 392.14,163.23 392.63,163.25 393.13,162.86 393.63,162.52 394.13,162.21 394.63,161.71 395.13,161.54 395.63,161.57 396.13,161.73 396.62,161.89 397.12,161.88 397.62,161.70 398.12,161.02 398.62,160.53 399.12,160.61 399.62,160.60 400.11,160.42 400.61,160.01 401.11,159.75 401.61,159.75 402.11,159.47 402.61,159.33 403.11,159.40 403.61,159.47 404.10,159.21 404.60,158.40 405.10,158.05 405.60,158.19 406.10,158.12 406.60,158.27 407.10,158.34 407.59,157.77 408.09,157.14 408.59,156.86 409.09,156.86 409.59,157.03 410.09,157.21 410.59,157.15 411.09,156.60 411.58,155.90 412.08,155.78 412.58,155.86 413.08,155.60 413.58,155.40 414.08,155.07 414.58,154.50 415.08,154.36 415.57,154.45 416.07,154.29 416.57,154.17 417.07,154.06 417.57,153.63 418.07,153.29 418.57,153.38 419.06,153.39 419.56,153.26 420.06,153.02 420.56,152.49 421.06,152.16 421.56,152.19 422.06,152.13 422.56,152.08 423.05,151.93 423.55,151.59 424.05,151.31 424.55,151.10"/>
<polyline stroke="#e80017" points="65.50,150.15 66.00,150.04 66.50,149.80 67.00,149.44 67.49,149.33 67.99,149.67 68.49,149.85 68.99,149.61 69.49,149.15 69.99,148.40 70.49,147.75 70.99,147.81 71.48,148.46 71.98,148.71 72.48,148.30 72.98,147.94 73.48,147.60 73.98,147.17 74.48,147.27 74.97,147.71 75.47,147.78 75.97,147.74 76.47,147.13 76.97,146.17 77.47,146.18 77.97,146.72 78.47,146.92 78.96,146.71 79.46,146.12 79.96,145.48 80.46,145.37 80.96,145.56 81.46,145.66 81.96,145.73 82.46,145.65 82.95,145.26 83.45,144.75 83.95,144.54 84.45,144.61 84.95,144.50 85.45,144.47 85.95,144.79 86.44,144.43 86.94,143.54 87.44,143.47 87.94,144.13 88.44,144.60 88.94,144.59 89.44,144.08 89.94,143.35 90.43,143.02 90.93,143.09 91.43,143.40 91.93,143.74 92.43,143.59 92.93,142.93 93.43,142.36 93.92,142.17 94.42,142.25 94.92,142.28 95.42,141.95 95.92,141.81 96.42,141.72 96.92,141.38 97.42,141.21 97.91,141.50 98.41,142.09 98.91,142.02 99.41,141.39 99.91,140.95 100.41,140.90 100.91,141.14 101.41,141.07 101.90,140.78 102.40,140.77 102.90,140.71 103.40,140.24 103.90,140.01 104.40,140.28 104.90,140.55 105.39,140.31 105.89,139.61 106.39,139.26 106.89,139.34 107.39,139.44 107.89,139.87 108.39,140.17 108.89,139.74 109.38,139.14 109.88,138.65 110.38,138.48 110.88,138.59 111.38,138.49 111.88,138.59 112.38,138.87 112.87,138.67 113.37,138.40 113.87,138.31 114.37,138.45 114.87,138.73 115.37,138.50 115.87,138.04 116.37,137.76 116.86,137.51 117.36,137.87 117.86,138.44 118.36,138.40 118.86,138.09 119.36,137.58 119.86,137.22 120.35,137.18 120.85,137.21 121.35,137.13 121.85,137.11 122.35,136.92 122.85,136.39 123.35,136.30 123.85,136.59 124.34,136.63 124.84,136.53 125.34,136.49 125.84,136.40 126.34,136.18 126.84,136.09 127.34,136.41 127.84,136.76 128.33,136.36 128.83,135.83 129.33,135.79 129.83,135.78 130.33,135.60 130.83,135.70 131.33,136.14 131.82,136.16 132.32,135.62 132.82,135.20 133.32,135.27 133.82,135.62 134.32,135.88 134.82,135.67 135.32,135.33 135.81,135.14 136.31,134.95 136.81,134.90 137.31,134.98 137.81,135.22 138.31,135.37 138.81,135.16 139.30,134.74 139.80,134.50 140.30,134.62 140.80,134.89 141.30,135.13 141.80,134.86 142.30,134.36 142.80,134.48 143.29,134.81 143.79,134.91 144.29,135.09 144.79,135.11 145.29,134.66 145.79,134.30 146.29,134.45 146.78,134.69 147.28,134.82 147.78,134.98 148.28,134.95 148.78,134.66 149.28,134.32 149.78,134.17 150.28,134.19 150.77,134.27 151.27,134.54 151.77,134.67 152.27,134.07 152.77,133.49 153.27,133.50 153.77,133.94 154.27,134.78 154.76,135.11 155.26,134.64 155.76,133.94 156.26,133.56 156.76,133.81 157.26,134.20 157.76,134.45 158.25,134.65 158.75,134.57 159.25,134.07 159.75,133.46 160.25,133.49 160.75,134.15 161.25,134.59 161.75,134.78 162.24,134.80 162.74,134.47 163.24,134.28 163.74,134.71 164.24,135.13 164.74,134.99 165.24,134.70 165.73,134.35 166.23,133.96 166.73,133.91 167.23,134.32 167.73,134.73 168.23,134.82 168.73,134.59 169.23,134.32 169.72,134.49 170.22,134.69 170.72,134.85 171.22,135.17 171.72,135.13 172.22,134.84 172.72,134.50 173.22,134.46 173.71,134.87 174.21,135.22 174.71,135.39 175.21,135.14 175.71,134.67 176.21,134.42 176.71,134.62 177.20,135.13 177.70,135.48 178.20,135.60 178.70,135.40 179.20,134.93 179.70,135.09 180.20,135.79 180.70,136.04 181.19,135.90 181.69,135.76 182.19,135.49 182.69,135.23 183.19,135.33 183.69,135.74 184.19,136.19 184.68,136.37 185.18,136.10 185.68,135.51 186.18,135.32 186.68,135.73 187.18,136.11 187.68,136.51 188.18,136.51 188.67,135.99 189.17,135.83 189.67,135.92 190.17,136.31 190.67,137.08 191.17,137.34 191.67,136.91 192.16,136.55 192.66,136.63 193.16,136.93 193.66,137.25 194.16,137.44 194.66,137.37 195.16,137.21 195.66,137.15 196.15,137.25 196.65,137.74 197.15,138.34 197.65,138.39 198.15,138.05 198.65,137.89 199.15,137.73 199.65,137.58 200.14,138.22 200.64,138.98 201.14,139.29 201.64,139.34 202.14,138.93 202.64,138.48 203.14,138.60 203.63,139.21 204.13,139.61 204.63,139.60 205.13,139.28 205.63,139.00 206.13,139.38 206.63,140.14 207.13,140.58 207.62,140.36 208.12,139.98 208.62,140.06 209.12,140.12 209.62,140.09 210.12,140.57 210.62,141.08 211.11,141.15 211.61,140.90 212.11,140.42 212.61,140.38 213.11,140.85 213.61,141.33 214.11,141.88 214.61,141.90 215.10,141.53 215.60,141.49 216.10,141.71 216.60,142.24 217.10,142.70 217.60,142.71 218.10,142.36 218.59,141.96 219.09,142.01 219.59,142.67 220.09,143.61 220.59,143.87 221.09,143.59 221.59,143.53 222.09,143.40 222.58,143.41 223.08,143.97 223.58,144.47 224.08,144.52 224.58,144.44 225.08,144.24 225.58,144.09 226.08,144.43 226.57,144.90 227.07,145.14 227.57,145.32 228.07,145.48 228.57,145.51 229.07,145.38 229.57,145.58 230.06,146.20 230.56,146.61 231.06,146.74 231.56,146.54 232.06,146.16 232.56,146.22 233.06,146.58 233.56,147.20 234.05,147.88 234.55,147.64 235.05,147.05 235.55,147.13 236.05,147.60 236.55,148.17 237.05,148.45 237.54,148.43 238.04,148.40 238.54,148.35 239.04,148.38 239.54,148.63 240.04,149.10 240.54,149.34 241.04,149.20 241.53,149.14 242.03,149.16 242.53,149.39 243.03,149.77 243.53,149.94 244.03,150.04 244.53,150.13 245.03,150.15 245.52,150.18 246.02,150.49 246.52,150.79 247.02,150.92 247.52,151.09 248.02,151.00 248.52,150.92 249.01,151.22 249.51,151.75 250.01,152.32 250.51,152.57 251.01,152.26 251.51,151.83 252.01,151.86 252.51,152.41 253.00,152.96 253.50,153.03 254.00,152.91 254.50,152.90 255.00,152.85 255.50,152.78 256.00,152.69 256.49,152.83 256.99,153.49 257.49,153.96 257.99,153.57 258.49,153.13 258.99,153.29 259.49,153.89 259.99,154.68 260.48,154.73 260.98,154.39 261.48,154.35 261.98,154.36 262.48,154.67 262.98,154.97 263.48,155.17 263.97,155.29 264.47,155.21 264.97,155.29 265.47,155.27 265.97,155.16 266.47,155.65 266.97,156.51 267.47,156.52 267.96,156.06 268.46,156.15 268.96,156.29 269.46,156.48 269.96,156.83 270.46,157.12 270.96,157.19 271.46,156.70 271.95,156.57 272.45,157.36 272.95,157.76 273.45,157.61 273.95,157.52 274.45,157.37 274.95,157.38 275.44,157.66 275.94,157.98 276.44,158.21 276.94,158.46 277.44,158.58 277.94,158.55 278.44,158.53 278.94,158.55 279.43,158.96 279.93,159.28 280.43,159.34 280.93,159.35 281.43,158.96 281.93,158.70 282.43,159.23 282.92,159.83 283.42,160.07 283.92,160.24 284.42,159.97 284.92,159.68 285.42,160.13 285.92,160.74 286.42,160.96 286.91,161.08 287.41,161.15 287.91,160.67 288.41,160.12 288.91,160.33 289.41,160.92 289.91,161.15 290.40,161.15 290.90,161.14 291.40,160.93 291.90,161.05 292.40,161.56 292.90,161.87 293.40,162.06 293.90,161.94 294.39,161.48 294.89,161.38 295.39,161.74 295.89,162.34 296.39,162.79 296.89,162.68 297.39,162.18 297.89,161.71 298.38,161.70 298.88,162.31 299.38,163.19 299.88,163.60 300.38,163.53 300.88,163.35 301.38,163.03 301.87,162.80 302.37,162.84 302.87,163.21 303.37,163.58 303.87,163.37 304.37,162.89 304.87,162.62 305.37,162.98 305.86,163.79 306.36,164.04 306.86,163.99 307.36,163.69 307.86,163.24 308.36,163.54 308.86,164.11 309.35,164.32 309.85,164.37 310.35,164.08 310.85,163.76 311.35,163.88 311.85,164.03 312.35,164.22 312.85,164.74 313.34,165.22 313.84,164.95 314.34,164.10 314.84,163.71 315.34,164.11 315.84,165.00 316.34,165.72 316.84,165.76 317.33,165.03 317.83,164.32 318.33,164.44 318.83,164.92 319.33,165.32 319.83,165.69 320.33,165.50 320.82,164.80 321.32,164.62 321.82,165.29 322.32,165.92 322.82,166.02 323.32,166.12 323.82,165.86 324.32,165.13 324.81,164.78 325.31,165.07 325.81,165.69 326.31,166.04 326.81,165.77 327.31,165.16 327.81,164.67 328.30,164.76 328.80,165.46 329.30,166.14 329.80,166.11 330.30,165.79 330.80,165.65 331.30,165.49 331.80,165.44 332.29,165.90 332.79,166.46 333.29,166.33 333.79,165.78 334.29,165.52 334.79,165.68 335.29,166.00 335.78,166.29 336.28,166.55 336.78,166.28 337.28,165.76 337.78,165.79 338.28,165.86 338.78,166.08 339.28,166.53 339.77,166.24 340.27,165.71 340.77,165.62 341.27,165.79 341.77,166.01 342.27,166.36 342.77,166.69 343.27,166.61 343.76,166.52 344.26,166.37 344.76,165.67 345.26,165.30 345.76,165.69 346.26,165.97 346.76,165.92 347.25,165.55 347.75,165.09 348.25,165.17 348.75,165.67 349.25,165.73 349.75,165.54 350.25,165.65 350.75,165.52 351.24,165.37 351.74,165.47 352.24,165.59 352.74,165.87 353.24,166.04 353.74,165.78 354.24,165.33 354.73,165.07 355.23,165.33 355.73,165.85 356.23,165.79 356.73,165.06 357.23,164.40 357.73,164.23 358.23,164.59 358.72,165.27 359.22,165.41 359.72,165.02 360.22,165.03 360.72,165.29 361.22,164.96 361.72,164.54 362.21,164.60 362.71,164.46 363.21,164.23 363.71,164.52 364.21,164.92 364.71,164.83 365.21,164.54 365.71,164.48 366.20,164.58 366.70,164.28 367.20,163.47 367.70,163.39 368.20,164.09 368.70,164.48 369.20,164.50 369.70,164.31 370.19,163.88 370.69,163.42 371.19,163.50 371.69,163.95 372.19,163.93 372.69,163.66 373.19,163.37 373.68,162.76 374.18,162.43 374.68,162.91 375.18,163.43 375.68,163.27 376.18,162.84 376.68,162.74 377.18,162.49 377.67,161.87 378.17,161.79 378.67,162.50 379.17,162.83 379.67,162.25 380.17,161.38 380.67,161.19 381.16,161.72 381.66,162.08 382.16,162.04 382.66,161.83 383.16,161.47 383.66,160.98 384.16,160.67 384.66,160.76 385.15,161.07 385.65,161.27 386.15,161.28 386.65,160.82 387.15,160.40 387.65,160.39 388.15,160.35 388.64,160.63 389.14,160.94 389.64,160.36 390.14,159.54 390.64,159.61 391.14,160.06 391.64,159.93 392.14,159.44 392.63,159.30 393.13,159.17 393.63,158.94 394.13,158.89 394.63,158.97 395.13,159.33 395.63,159.22 396.13,158.48 396.62,157.95 397.12,157.81 397.62,158.04 398.12,158.38 398.62,158.55 399.12,158.32 399.62,157.32 400.11,156.53 400.61,156.78 401.11,157.25 401.61,157.35 402.11,157.41 402.61,157.62 403.11,157.40 403.61,156.58 404.10,156.05 404.60,156.46 405.10,157.13 405.60,157.08 406.10,156.71 406.60,156.36 407.10,155.79 407.59,155.54 408.09,156.00 408.59,156.37 409.09,156.20 409.59,155.61 410.09,154.82 410.59,154.45 411.09,154.69 411.58,155.09 412.08,155.15 412.58,154.76 413.08,154.07 413.58,153.61 414.08,153.59 414.58,153.91 415.08,154.25 415.57,154.16 416.07,153.45 416.57,152.78 417.07,152.72 417.57,152.80 418.07,152.95 418.57,153.27 419.06,153.18 419.56,152.54 420.06,152.14 420.56,152.29 421.06,152.63 421.56,152.85 422.06,152.41 422.56,151.86 423.05,151.60 423.55,151.40 424.05,151.25 424.55,151.10"/>
<polyline stroke="#ff0000" points="65.50,150.82 66.00,150.88 66.50,150.83 67.00,150.46 67.49,150.23 67.99,150.35 68.49,150.72 68.99,151.04 69.49,151.03 69.99,150.60 70.49,149.78 70.99,149.32 71.48,149.72 71.98,150.07 72.48,150.09 72.98,149.85 73.48,149.28 73.98,149.21 74.48,149.39 74.97,149.51 75.47,149.90 75.97,149.97 76.47,149.30 76.97,148.52 77.47,148.40 77.97,148.74 78.47,149.17 78.96,149.45 79.46,149.34 79.96,148.78 80.46,148.35 80.96,148.31 81.46,148.52 81.96,148.90 82.46,148.95 82.95,148.47 83.45,147.84 83.95,147.68 84.45,147.85 84.95,148.10 85.45,148.44 85.95,148.22 86.44,147.52 86.94,147.24 87.44,147.20 87.94,146.99 88.44,147.14 88.94,147.55 89.44,147.62 89.94,147.33 90.43,146.74 90.93,146.43 91.43,146.73 91.93,147.14 92.43,147.06 92.93,146.60 93.43,146.13 93.92,145.99 94.42,146.23 94.92,146.43 95.42,146.60 95.92,146.38 96.42,146.02 96.92,145.73 97.42,145.49 97.91,145.81 98.41,146.11 98.91,146.50 99.41,146.38 99.91,145.23 100.41,144.86 100.91,145.44 101.41,145.74 101.90,145.82 102.40,145.72 102.90,145.31 103.40,145.13 103.90,145.14 104.40,145.10 104.90,145.48 105.39,146.05 105.89,145.89 106.39,145.07 106.89,144.51 107.39,144.34 107.89,144.52 108.39,144.85 108.89,144.77 109.38,144.19 109.88,143.72 110.38,143.80 110.88,144.32 111.38,144.77 111.88,144.78 112.38,144.68 112.87,144.56 113.37,144.19 113.87,143.89 114.37,144.20 114.87,144.69 115.37,144.52 115.87,143.93 116.37,143.51 116.86,143.47 117.36,143.78 117.86,144.18 118.36,144.30 118.86,144.32 119.36,144.28 119.86,143.77 120.35,143.33 120.85,143.58 121.35,143.80 121.85,143.75 122.35,143.58 122.85,143.22 123.35,142.71 123.85,142.52 124.34,143.06 124.84,143.41 125.34,143.30 125.84,143.46 126.34,143.54 126.84,143.08 127.34,142.97 127.84,143.30 128.33,143.24 128.83,143.03 129.33,142.80 129.83,142.64 130.33,142.75 130.83,142.81 131.33,142.80 131.82,142.93 132.32,142.87 132.82,142.55 133.32,142.27 133.82,142.14 134.32,142.33 134.82,142.60 135.32,142.64 135.81,142.58 136.31,142.25 136.81,141.90 137.31,141.98 137.81,142.30 138.31,142.57 138.81,142.58 139.30,142.23 139.80,142.05 140.30,142.35 140.80,142.56 141.30,142.65 141.80,142.77 142.30,142.53 142.80,142.10 143.29,142.20 143.79,142.64 144.29,142.78 144.79,142.65 145.29,142.47 145.79,142.50 146.29,142.50 146.78,142.24 147.28,142.32 147.78,142.61 148.28,142.75 148.78,142.67 149.28,142.24 149.78,141.80 150.28,141.91 150.77,142.45 151.27,142.53 151.77,142.45 152.27,142.34 152.77,141.84 153.27,141.48 153.77,141.53 154.27,141.84 154.76,142.16 155.26,142.24 155.76,141.90 156.26,141.48 156.76,141.43 157.26,141.64 157.76,142.03 158.25,142.44 158.75,142.36 159.25,141.77 159.75,141.38 160.25,141.44 160.75,141.67 161.25,142.07 161.75,142.20 162.24,141.80 162.74,141.37 163.24,141.52 163.74,142.04 164.24,142.18 164.74,142.32 165.24,142.47 165.73,142.25 166.23,141.78 166.73,141.33 167.23,141.86 167.73,142.84 168.23,142.72 168.73,142.18 169.23,141.98 169.72,141.74 170.22,141.62 170.72,142.04 171.22,142.55 171.72,142.65 172.22,142.26 172.72,141.65 173.22,141.21 173.71,141.45 174.21,142.18 174.71,142.40 175.21,142.49 175.71,142.46 176.21,142.03 176.71,141.96 177.20,142.36 177.70,142.83 178.20,142.87 178.70,142.64 179.20,142.40 179.70,141.92 180.20,141.81 180.70,142.47 181.19,142.96 181.69,142.89 182.19,142.77 182.69,142.73 183.19,142.65 183.69,142.68 184.19,142.91 184.68,142.94 185.18,142.85 185.68,142.70 186.18,142.47 186.68,142.51 187.18,142.85 187.68,143.21 188.18,143.38 188.67,143.28 189.17,142.99 189.67,142.91 190.17,143.29 190.67,143.58 191.17,143.46 191.67,143.39 192.16,143.14 192.66,142.88 193.16,143.17 193.66,143.62 194.16,143.96 194.66,144.26 195.16,144.13 195.66,143.46 196.15,143.17 196.65,143.59 197.15,144.25 197.65,144.76 198.15,144.73 198.65,144.20 199.15,143.50 199.65,143.29 200.14,143.52 200.64,143.94 201.14,144.71 201.64,144.94 202.14,144.35 202.64,144.01 203.14,144.23 203.63,144.73 204.13,145.48 204.63,145.86 205.13,145.43 205.63,144.84 206.13,144.56 206.63,144.74 207.13,145.24 207.62,145.73 208.12,145.63 208.62,144.94 209.12,144.67 209.62,144.85 210.12,145.12 210.62,145.60 211.11,145.95 211.61,146.01 212.11,145.88 212.61,145.70 213.11,145.60 213.61,145.85 214.11,146.43 214.61,146.81 215.10,146.36 215.60,145.58 216.10,145.41 216.60,145.80 217.10,146.61 217.60,147.19 218.10,147.16 218.59,146.85 219.09,146.38 219.59,146.29 220.09,146.91 220.59,147.55 221.09,147.58 221.59,147.15 222.09,146.80 222.58,146.84 223.08,146.94 223.58,147.23 224.08,147.62 224.58,147.68 225.08,147.66 225.58,147.71 226.08,147.83 226.57,148.27 227.07,148.57 227.57,148.49 228.07,148.56 228.57,148.72 229.07,148.40 229.57,147.83 230.06,148.04 230.56,148.78 231.06,148.88 231.56,148.62 232.06,148.45 232.56,148.12 233.06,148.17 233.56,148.94 234.05,149.59 234.55,149.76 235.05,149.57 235.55,149.19 236.05,149.03 236.55,149.12 237.05,149.40 237.54,149.92 238.04,150.22 238.54,150.22 239.04,150.13 239.54,149.80 240.04,149.87 240.54,150.62 241.04,150.79 241.53,150.13 242.03,149.78 242.53,150.16 243.03,150.53 243.53,150.66 244.03,150.83 244.53,150.75 245.03,150.41 245.52,150.35 246.02,150.68 246.52,151.01 247.02,151.02 247.52,151.18 248.02,151.51 248.52,151.29 249.01,151.01 249.51,151.22 250.01,151.57 250.51,151.77 251.01,151.93 251.51,152.00 252.01,151.83 252.51,151.59 253.00,151.76 253.50,152.48 254.00,152.83 254.50,152.45 255.00,152.16 255.50,152.15 256.00,152.41 256.49,152.83 256.99,153.06 257.49,153.13 257.99,152.93 258.49,152.61 258.99,152.41 259.49,152.48 259.99,152.88 260.48,153.22 260.98,153.40 261.48,153.46 261.98,153.36 262.48,153.46 262.98,153.50 263.48,153.43 263.97,153.77 264.47,153.88 264.97,153.50 265.47,153.35 265.97,153.83 266.47,154.46 266.97,154.65 267.47,154.54 267.96,154.46 268.46,154.51 268.96,154.67 269.46,154.76 269.96,154.79 270.46,154.88 270.96,154.86 271.46,154.60 271.95,154.45 272.45,154.58 272.95,154.70 273.45,154.96 273.95,155.22 274.45,155.05 274.95,154.60 275.44,154.48 275.94,155.01 276.44,155.49 276.94,155.71 277.44,155.82 277.94,155.52 278.44,155.38 278.94,155.62 279.43,155.82 279.93,156.33 280.43,156.60 280.93,156.14 281.43,155.67 281.93,155.59 282.43,155.89 282.92,156.08 283.42,156.37 283.92,156.84 284.42,156.61 284.92,156.13 285.42,156.21 285.92,156.75 286.42,157.49 286.91,157.57 287.41,156.96 287.91,156.42 288.41,156.18 288.91,156.39 289.41,156.91 289.91,157.39 290.40,157.32 290.90,156.80 291.40,156.68 291.90,157.04 292.40,157.28 292.90,157.41 293.40,157.63 293.90,157.66 294.39,157.22 294.89,156.82 295.39,156.99 295.89,157.35 296.39,157.53 296.89,157.60 297.39,157.88 297.89,157.66 298.38,157.15 298.88,157.57 299.38,158.06 299.88,158.03 300.38,158.12 300.88,158.24 301.38,157.98 301.87,157.72 302.37,157.78 302.87,158.25 303.37,158.70 303.87,158.63 304.37,158.17 304.87,157.54 305.37,157.37 305.86,158.04 306.36,158.74 306.86,158.66 307.36,158.42 307.86,158.39 308.36,158.44 308.86,158.96 309.35,159.46 309.85,159.59 310.35,159.24 310.85,158.44 311.35,158.00 311.85,158.13 312.35,158.43 312.85,158.76 313.34,159.04 313.84,159.16 314.34,159.06 314.84,158.70 315.34,158.54 315.84,158.99 316.34,159.50 316.84,159.53 317.33,159.05 317.83,158.56 318.33,158.73 318.83,159.23 319.33,159.66 319.83,159.99 320.33,160.11 320.82,159.84 321.32,159.03 321.82,158.49 322.32,158.95 322.82,159.91 323.32,160.38 323.82,160.14 324.32,159.57 324.81,158.94 325.31,158.72 325.81,159.06 326.31,159.50 326.81,159.64 327.31,159.37 327.81,159.09 328.30,158.84 328.80,159.00 329.30,159.89 329.80,160.26 330.30,159.84 330.80,159.56 331.30,159.36 331.80,159.33 332.29,159.80 332.79,160.33 333.29,160.50 333.79,160.08 334.29,159.53 334.79,159.41 335.29,159.66 335.78,159.94 336.28,160.05 336.78,159.92 337.28,159.57 337.78,159.25 338.28,159.29 338.78,159.64 339.28,160.03 339.77,160.25 340.27,160.26 340.77,160.12 341.27,159.68 341.77,159.42 342.27,159.74 342.77,160.08 343.27,160.09 343.76,159.74 344.26,159.15 344.76,158.65 345.26,158.81 345.76,159.76 346.26,160.29 346.76,160.01 347.25,159.62 347.75,159.31 348.25,159.19 348.75,159.37 349.25,159.75 349.75,159.71 350.25,159.30 350.75,159.19 351.24,158.90 351.74,158.78 352.24,159.45 352.74,159.94 353.24,159.92 353.74,159.59 354.24,159.02 354.73,158.73 355.23,158.98 355.73,159.66 356.23,160.36 356.73,160.17 357.23,159.29 357.73,158.86 358.23,159.04 358.72,159.28 359.22,159.27 359.72,159.43 360.22,159.70 360.72,159.21 361.22,158.34 361.72,158.21 362.21,158.77 362.71,159.32 363.21,159.33 363.71,158.75 364.21,158.28 364.71,158.50 365.21,158.88 365.71,158.98 366.20,159.01 366.70,158.95 367.20,158.50 367.70,158.11 368.20,158.12 368.70,158.41 369.20,158.89 369.70,158.85 370.19,158.36 370.69,158.28 371.19,158.13 371.69,157.81 372.19,158.29 372.69,158.67 373.19,158.20 373.68,157.73 374.18,157.50 374.68,157.35 375.18,157.22 375.68,157.45 376.18,157.88 376.68,157.98 377.18,157.80 377.67,157.72 378.17,157.87 378.67,158.04 379.17,157.96 379.67,157.61 380.17,157.71 380.67,158.14 381.16,158.03 381.66,157.71 382.16,157.76 382.66,157.73 383.16,157.55 383.66,157.36 384.16,156.89 384.66,156.91 385.15,157.14 385.65,156.89 386.15,156.72 386.65,156.41 387.15,156.15 387.65,156.18 388.15,156.30 388.64,156.49 389.14,156.53 389.64,156.35 390.14,155.96 390.64,155.61 391.14,155.60 391.64,155.87 392.14,156.09 392.63,156.24 393.13,156.01 393.63,155.73 394.13,155.70 394.63,155.41 395.13,155.31 395.63,155.43 396.13,155.24 396.62,155.18 397.12,154.92 397.62,154.61 398.12,154.89 398.62,155.47 399.12,155.79 399.62,155.60 400.11,155.42 400.61,155.01 401.11,154.41 401.61,154.58 402.11,155.11 402.61,155.08 403.11,154.65 403.61,154.08 404.10,153.65 404.60,153.72 405.10,153.88 405.60,154.02 406.10,154.36 406.60,154.56 407.10,154.16 407.59,153.64 408.09,153.71 408.59,154.21 409.09,154.42 409.59,153.95 410.09,153.22 410.59,152.97 411.09,153.46 411.58,153.87 412.08,153.43 412.58,153.04 413.08,153.05 413.58,152.72 414.08,152.54 414.58,152.81 415.08,152.84 415.57,152.52 416.07,152.26 416.57,152.02 417.07,151.71 417.57,151.62 418.07,151.79 418.57,152.04 419.06,152.08 419.56,151.87 420.06,151.56 420.56,151.52 421.06,151.68 421.56,151.69 422.06,151.89 422.56,151.98 423.05,151.57 423.55,151.23 424.05,151.16 424.55,151.10"/>
</g>
<rect x="65.5" y="0.45" width="359.05" height="300.7" fill="none" stroke="#2a2a2a" stroke-width="0.8"/>
<rect x="84.5" y="166.4" width="149.5" height="119.9" fill="#fff" stroke="#2a2a2a" stroke-width="0.8"/>
<clipPath id="ic"><rect x="84.5" y="166.4" width="149.5" height="119.9"/></clipPath>
<g clip-path="url(#ic)">
<g fill="#000">
<circle cx="171.2" cy="220.3" r="1.2"/>
<circle cx="223.1" cy="219.8" r="1.2"/>
<circle cx="207.3" cy="265.5" r="1.2"/>
<circle cx="221.9" cy="238.1" r="1.2"/>
<circle cx="200.4" cy="251.2" r="1.2"/>
<circle cx="126.1" cy="210.7" r="1.2"/>
<circle cx="215.0" cy="255.6" r="1.2"/>
<circle cx="201.4" cy="275.0" r="1.2"/>
<circle cx="140.4" cy="199.5" r="1.2"/>
<circle cx="170.8" cy="237.1" r="1.2"/>
<circle cx="154.4" cy="198.6" r="1.2"/>
<circle cx="224.8" cy="249.3" r="1.2"/>
<circle cx="167.0" cy="245.6" r="1.2"/>
<circle cx="96.1" cy="216.0" r="1.2"/>
<circle cx="164.3" cy="224.6" r="1.2"/>
<circle cx="87.4" cy="186.4" r="1.2"/>
<circle cx="104.8" cy="200.5" r="1.2"/>
<circle cx="157.6" cy="198.3" r="1.2"/>
<circle cx="153.3" cy="221.1" r="1.2"/>
<circle cx="94.8" cy="200.1" r="1.2"/>
<circle cx="135.2" cy="204.0" r="1.2"/>
<circle cx="127.3" cy="185.1" r="1.2"/>
<circle cx="127.2" cy="223.4" r="1.2"/>
<circle cx="150.5" cy="192.6" r="1.2"/>
<circle cx="89.6" cy="213.7" r="1.2"/>
<circle cx="89.4" cy="246.9" r="1.2"/>
<circle cx="119.5" cy="202.5" r="1.2"/>
<circle cx="191.2" cy="236.0" r="1.2"/>
<circle cx="224.1" cy="255.6" r="1.2"/>
<circle cx="197.0" cy="264.0" r="1.2"/>
<circle cx="95.9" cy="220.9" r="1.2"/>
<circle cx="207.4" cy="226.5" r="1.2"/>
<circle cx="206.6" cy="255.5" r="1.2"/>
<circle cx="210.3" cy="224.0" r="1.2"/>
<circle cx="192.9" cy="274.0" r="1.2"/>
<circle cx="123.4" cy="199.7" r="1.2"/>
<circle cx="158.3" cy="209.9" r="1.2"/>
<circle cx="150.1" cy="216.8" r="1.2"/>
<circle cx="89.7" cy="218.4" r="1.2"/>
<circle cx="165.0" cy="207.5" r="1.2"/>
<circle cx="124.0" cy="220.3" r="1.2"/>
<circle cx="226.4" cy="243.2" r="1.2"/>
<circle cx="183.8" cy="218.1" r="1.2"/>
<circle cx="205.2" cy="271.3" r="1.2"/>
<circle cx="89.3" cy="232.4" r="1.2"/>
<circle cx="190.6" cy="263.9" r="1.2"/>
<circle cx="204.1" cy="260.0" r="1.2"/>
<circle cx="153.3" cy="198.9" r="1.2"/>
<circle cx="122.1" cy="211.5" r="1.2"/>
<circle cx="157.0" cy="239.6" r="1.2"/>
<circle cx="166.5" cy="235.6" r="1.2"/>
<circle cx="149.1" cy="228.4" r="1.2"/>
<circle cx="131.9" cy="188.3" r="1.2"/>
<circle cx="184.1" cy="255.5" r="1.2"/>
<circle cx="217.4" cy="262.7" r="1.2"/>
<circle cx="124.5" cy="178.7" r="1.2"/>
<circle cx="216.0" cy="228.9" r="1.2"/>
<circle cx="92.7" cy="201.2" r="1.2"/>
<circle cx="187.0" cy="245.4" r="1.2"/>
<circle cx="135.8" cy="205.4" r="1.2"/>
<circle cx="162.7" cy="217.8" r="1.2"/>
<circle cx="137.3" cy="199.0" r="1.2"/>
<circle cx="96.5" cy="207.7" r="1.2"/>
<circle cx="109.3" cy="204.9" r="1.2"/>
<circle cx="231.6" cy="252.2" r="1.2"/>
<circle cx="146.5" cy="211.7" r="1.2"/>
<circle cx="226.1" cy="245.9" r="1.2"/>
<circle cx="161.9" cy="223.5" r="1.2"/>
<circle cx="218.4" cy="243.8" r="1.2"/>
<circle cx="150.8" cy="219.2" r="1.2"/>
<circle cx="232.2" cy="237.4" r="1.2"/>
<circle cx="155.7" cy="235.3" r="1.2"/>
<circle cx="123.0" cy="198.5" r="1.2"/>
<circle cx="110.7" cy="206.8" r="1.2"/>
<circle cx="95.2" cy="199.6" r="1.2"/>
<circle cx="100.9" cy="202.7" r="1.2"/>
<circle cx="186.1" cy="245.8" r="1.2"/>
<circle cx="138.6" cy="200.7" r="1.2"/>
<circle cx="214.7" cy="242.8" r="1.2"/>
<circle cx="114.0" cy="186.2" r="1.2"/>
<circle cx="223.7" cy="248.2" r="1.2"/>
<circle cx="112.8" cy="204.3" r="1.2"/>
<circle cx="124.7" cy="206.0" r="1.2"/>
<circle cx="135.1" cy="215.9" r="1.2"/>
<circle cx="123.7" cy="194.6" r="1.2"/>
<circle cx="146.3" cy="178.2" r="1.2"/>
<circle cx="204.1" cy="250.8" r="1.2"/>
<circle cx="95.1" cy="185.1" r="1.2"/>
<circle cx="120.9" cy="182.1" r="1.2"/>
<circle cx="92.4" cy="224.8" r="1.2"/>
<circle cx="200.0" cy="259.6" r="1.2"/>
<circle cx="102.3" cy="198.0" r="1.2"/>
<circle cx="160.4" cy="210.0" r="1.2"/>
<circle cx="213.9" cy="250.2" r="1.2"/>
<circle cx="131.6" cy="175.1" r="1.2"/>
<circle cx="101.7" cy="213.4" r="1.2"/>
<circle cx="124.2" cy="194.0" r="1.2"/>
<circle cx="224.5" cy="272.0" r="1.2"/>
<circle cx="98.7" cy="194.1" r="1.2"/>
<circle cx="213.2" cy="265.0" r="1.2"/>
<circle cx="102.5" cy="197.5" r="1.2"/>
<circle cx="108.9" cy="217.6" r="1.2"/>
<circle cx="199.5" cy="238.7" r="1.2"/>
<circle cx="179.8" cy="247.9" r="1.2"/>
<circle cx="132.3" cy="192.8" r="1.2"/>
<circle cx="189.1" cy="235.0" r="1.2"/>
<circle cx="106.5" cy="202.9" r="1.2"/>
<circle cx="215.8" cy="257.2" r="1.2"/>
<circle cx="170.3" cy="234.2" r="1.2"/>
<circle cx="225.5" cy="268.1" r="1.2"/>
<circle cx="173.3" cy="242.9" r="1.2"/>
<circle cx="169.7" cy="192.8" r="1.2"/>
<circle cx="212.3" cy="246.5" r="1.2"/>
<circle cx="171.3" cy="203.1" r="1.2"/>
<circle cx="97.4" cy="203.7" r="1.2"/>
<circle cx="175.7" cy="242.6" r="1.2"/>
<circle cx="128.2" cy="180.5" r="1.2"/>
<circle cx="179.5" cy="222.0" r="1.2"/>
<circle cx="233.2" cy="245.8" r="1.2"/>
<circle cx="175.4" cy="230.0" r="1.2"/>
<circle cx="208.7" cy="273.9" r="1.2"/>
<circle cx="137.3" cy="204.3" r="1.2"/>
<circle cx="86.2" cy="220.2" r="1.2"/>
<circle cx="91.5" cy="234.9" r="1.2"/>
<circle cx="87.2" cy="206.0" r="1.2"/>
<circle cx="117.0" cy="200.6" r="1.2"/>
<circle cx="124.8" cy="185.3" r="1.2"/>
<circle cx="132.4" cy="202.3" r="1.2"/>
<circle cx="182.0" cy="254.0" r="1.2"/>
<circle cx="196.1" cy="269.0" r="1.2"/>
<circle cx="199.0" cy="251.3" r="1.2"/>
<circle cx="196.5" cy="241.2" r="1.2"/>
<circle cx="211.9" cy="241.7" r="1.2"/>
<circle cx="192.0" cy="229.5" r="1.2"/>
<circle cx="152.9" cy="212.2" r="1.2"/>
<circle cx="146.1" cy="223.1" r="1.2"/>
<circle cx="96.6" cy="177.3" r="1.2"/>
<circle cx="86.5" cy="183.7" r="1.2"/>
<circle cx="212.2" cy="270.8" r="1.2"/>
<circle cx="106.7" cy="183.2" r="1.2"/>
<circle cx="213.3" cy="256.1" r="1.2"/>
<circle cx="144.0" cy="186.5" r="1.2"/>
<circle cx="93.4" cy="221.2" r="1.2"/>
<circle cx="208.0" cy="263.3" r="1.2"/>
<circle cx="191.0" cy="249.9" r="1.2"/>
<circle cx="233.2" cy="255.1" r="1.2"/>
<circle cx="165.2" cy="224.3" r="1.2"/>
<circle cx="223.1" cy="255.7" r="1.2"/>
<circle cx="159.9" cy="242.6" r="1.2"/>
<circle cx="123.5" cy="213.7" r="1.2"/>
<circle cx="144.3" cy="194.8" r="1.2"/>
<circle cx="182.8" cy="230.1" r="1.2"/>
<circle cx="217.1" cy="247.3" r="1.2"/>
<circle cx="206.1" cy="249.8" r="1.2"/>
<circle cx="223.2" cy="249.0" r="1.2"/>
<circle cx="164.5" cy="214.8" r="1.2"/>
<circle cx="153.2" cy="219.7" r="1.2"/>
<circle cx="162.8" cy="221.6" r="1.2"/>
<circle cx="223.5" cy="252.8" r="1.2"/>
<circle cx="139.1" cy="200.9" r="1.2"/>
<circle cx="93.5" cy="219.0" r="1.2"/>
<circle cx="142.9" cy="186.7" r="1.2"/>
<circle cx="181.3" cy="260.9" r="1.2"/>
<circle cx="208.6" cy="257.5" r="1.2"/>
<circle cx="225.0" cy="253.3" r="1.2"/>
<circle cx="186.9" cy="252.7" r="1.2"/>
<circle cx="205.7" cy="267.6" r="1.2"/>
<circle cx="205.5" cy="262.9" r="1.2"/>
<circle cx="205.0" cy="256.2" r="1.2"/>
<circle cx="173.8" cy="230.1" r="1.2"/>
<circle cx="225.3" cy="225.0" r="1.2"/>
<circle cx="217.3" cy="253.4" r="1.2"/>
<circle cx="85.7" cy="209.2" r="1.2"/>
<circle cx="102.6" cy="202.6" r="1.2"/>
<circle cx="232.3" cy="276.9" r="1.2"/>
<circle cx="183.8" cy="216.8" r="1.2"/>
<circle cx="105.4" cy="206.4" r="1.2"/>
<circle cx="220.2" cy="265.8" r="1.2"/>
<circle cx="97.8" cy="221.9" r="1.2"/>
<circle cx="164.6" cy="239.9" r="1.2"/>
<circle cx="142.3" cy="185.5" r="1.2"/>
<circle cx="127.5" cy="185.8" r="1.2"/>
<circle cx="120.1" cy="208.2" r="1.2"/>
<circle cx="97.4" cy="205.1" r="1.2"/>
<circle cx="140.7" cy="224.9" r="1.2"/>
<circle cx="99.4" cy="211.3" r="1.2"/>
<circle cx="177.5" cy="238.9" r="1.2"/>
<circle cx="132.4" cy="205.0" r="1.2"/>
<circle cx="198.8" cy="248.3" r="1.2"/>
<circle cx="224.2" cy="249.4" r="1.2"/>
<circle cx="216.7" cy="241.7" r="1.2"/>
<circle cx="194.7" cy="249.7" r="1.2"/>
<circle cx="200.8" cy="246.0" r="1.2"/>
<circle cx="98.2" cy="212.3" r="1.2"/>
<circle cx="229.4" cy="226.5" r="1.2"/>
<circle cx="170.3" cy="209.1" r="1.2"/>
<circle cx="165.4" cy="230.3" r="1.2"/>
<circle cx="184.9" cy="246.0" r="1.2"/>
<circle cx="112.4" cy="189.8" r="1.2"/>
<circle cx="154.5" cy="209.5" r="1.2"/>
<circle cx="102.7" cy="192.8" r="1.2"/>
<circle cx="221.4" cy="276.6" r="1.2"/>
<circle cx="159.0" cy="196.2" r="1.2"/>
<circle cx="104.2" cy="229.4" r="1.2"/>
<circle cx="229.0" cy="234.7" r="1.2"/>
<circle cx="171.0" cy="235.6" r="1.2"/>
<circle cx="197.0" cy="247.8" r="1.2"/>
<circle cx="204.2" cy="248.0" r="1.2"/>
<circle cx="188.2" cy="258.4" r="1.2"/>
<circle cx="150.6" cy="219.8" r="1.2"/>
<circle cx="126.3" cy="195.0" r="1.2"/>
<circle cx="92.2" cy="199.2" r="1.2"/>
<circle cx="177.5" cy="264.3" r="1.2"/>
<circle cx="100.9" cy="226.7" r="1.2"/>
<circle cx="139.5" cy="203.2" r="1.2"/>
<circle cx="217.0" cy="246.8" r="1.2"/>
<circle cx="219.2" cy="254.0" r="1.2"/>
<circle cx="207.0" cy="254.3" r="1.2"/>
<circle cx="113.3" cy="218.7" r="1.2"/>
<circle cx="224.8" cy="234.6" r="1.2"/>
<circle cx="105.4" cy="206.1" r="1.2"/>
<circle cx="221.3" cy="238.6" r="1.2"/>
<circle cx="196.1" cy="268.7" r="1.2"/>
<circle cx="229.1" cy="270.2" r="1.2"/>
<circle cx="231.1" cy="243.8" r="1.2"/>
<circle cx="162.7" cy="228.7" r="1.2"/>
<circle cx="131.0" cy="218.0" r="1.2"/>
<circle cx="221.3" cy="245.1" r="1.2"/>
<circle cx="131.2" cy="186.5" r="1.2"/>
<circle cx="134.1" cy="213.5" r="1.2"/>
<circle cx="169.3" cy="235.1" r="1.2"/>
<circle cx="105.6" cy="202.9" r="1.2"/>
<circle cx="152.5" cy="230.3" r="1.2"/>
<circle cx="105.0" cy="209.2" r="1.2"/>
<circle cx="152.0" cy="186.1" r="1.2"/>
<circle cx="219.7" cy="254.5" r="1.2"/>
<circle cx="221.6" cy="248.3" r="1.2"/>
<circle cx="227.3" cy="272.0" r="1.2"/>
<circle cx="192.5" cy="248.9" r="1.2"/>
<circle cx="195.7" cy="248.1" r="1.2"/>
<circle cx="148.1" cy="212.7" r="1.2"/>
<circle cx="217.8" cy="253.9" r="1.2"/>
<circle cx="104.5" cy="187.2" r="1.2"/>
<circle cx="109.3" cy="205.8" r="1.2"/>
<circle cx="102.1" cy="202.8" r="1.2"/>
<circle cx="145.4" cy="223.7" r="1.2"/>
<circle cx="93.4" cy="243.5" r="1.2"/>
<circle cx="189.4" cy="231.7" r="1.2"/>
<circle cx="111.7" cy="190.2" r="1.2"/>
<circle cx="187.2" cy="233.7" r="1.2"/>
<circle cx="168.5" cy="218.6" r="1.2"/>
<circle cx="187.6" cy="236.0" r="1.2"/>
<circle cx="189.2" cy="247.4" r="1.2"/>
<circle cx="201.6" cy="267.6" r="1.2"/>
<circle cx="155.9" cy="196.5" r="1.2"/>
<circle cx="169.5" cy="207.7" r="1.2"/>
<circle cx="121.9" cy="174.8" r="1.2"/>
<circle cx="159.2" cy="232.6" r="1.2"/>
<circle cx="97.8" cy="227.1" r="1.2"/>
<circle cx="226.7" cy="226.2" r="1.2"/>
<circle cx="222.9" cy="226.5" r="1.2"/>
<circle cx="95.5" cy="212.0" r="1.2"/>
<circle cx="86.1" cy="228.3" r="1.2"/>
<circle cx="143.4" cy="217.2" r="1.2"/>
<circle cx="163.0" cy="224.3" r="1.2"/>
<circle cx="155.9" cy="223.3" r="1.2"/>
<circle cx="134.8" cy="204.1" r="1.2"/>
<circle cx="177.2" cy="228.7" r="1.2"/>
<circle cx="144.2" cy="229.8" r="1.2"/>
<circle cx="145.0" cy="204.5" r="1.2"/>
<circle cx="89.3" cy="197.6" r="1.2"/>
<circle cx="172.9" cy="225.6" r="1.2"/>
<circle cx="96.9" cy="188.8" r="1.2"/>
<circle cx="212.4" cy="252.6" r="1.2"/>
<circle cx="155.6" cy="228.7" r="1.2"/>
<circle cx="137.3" cy="183.4" r="1.2"/>
<circle cx="183.0" cy="256.7" r="1.2"/>
<circle cx="216.4" cy="279.4" r="1.2"/>
<circle cx="109.6" cy="209.2" r="1.2"/>
<circle cx="144.3" cy="188.5" r="1.2"/>
<circle cx="229.6" cy="234.2" r="1.2"/>
<circle cx="213.2" cy="247.6" r="1.2"/>
<circle cx="142.8" cy="185.8" r="1.2"/>
<circle cx="138.5" cy="184.1" r="1.2"/>
<circle cx="206.1" cy="249.8" r="1.2"/>
<circle cx="97.0" cy="207.1" r="1.2"/>
<circle cx="102.2" cy="215.5" r="1.2"/>
<circle cx="169.6" cy="212.4" r="1.2"/>
<circle cx="169.2" cy="253.5" r="1.2"/>
<circle cx="169.3" cy="242.7" r="1.2"/>
<circle cx="198.5" cy="264.1" r="1.2"/>
<circle cx="215.8" cy="242.5" r="1.2"/>
<circle cx="144.1" cy="227.4" r="1.2"/>
<circle cx="133.1" cy="194.8" r="1.2"/>
<circle cx="211.1" cy="277.2" r="1.2"/>
<circle cx="121.0" cy="214.3" r="1.2"/>
<circle cx="214.9" cy="239.5" r="1.2"/>
<circle cx="189.9" cy="241.1" r="1.2"/>
<circle cx="210.7" cy="278.1" r="1.2"/>
<circle cx="179.4" cy="251.8" r="1.2"/>
<circle cx="100.3" cy="206.0" r="1.2"/>
<circle cx="191.0" cy="250.9" r="1.2"/>
<circle cx="158.4" cy="219.6" r="1.2"/>
<circle cx="111.9" cy="192.7" r="1.2"/>
<circle cx="99.7" cy="205.7" r="1.2"/>
<circle cx="123.7" cy="190.4" r="1.2"/>
<circle cx="103.2" cy="201.1" r="1.2"/>
<circle cx="104.7" cy="212.5" r="1.2"/>
<circle cx="210.2" cy="240.0" r="1.2"/>
<circle cx="226.1" cy="257.0" r="1.2"/>
<circle cx="232.7" cy="246.1" r="1.2"/>
<circle cx="167.9" cy="237.1" r="1.2"/>
<circle cx="168.8" cy="239.9" r="1.2"/>
<circle cx="93.4" cy="228.0" r="1.2"/>
<circle cx="102.2" cy="215.8" r="1.2"/>
<circle cx="199.3" cy="261.9" r="1.2"/>
<circle cx="169.6" cy="226.1" r="1.2"/>
<circle cx="168.9" cy="235.6" r="1.2"/>
<circle cx="196.7" cy="239.2" r="1.2"/>
<circle cx="205.7" cy="250.0" r="1.2"/>
<circle cx="190.3" cy="257.7" r="1.2"/>
<circle cx="86.1" cy="212.9" r="1.2"/>
<circle cx="165.5" cy="230.4" r="1.2"/>
<circle cx="209.0" cy="238.8" r="1.2"/>
<circle cx="206.6" cy="271.8" r="1.2"/>
<circle cx="225.9" cy="239.5" r="1.2"/>
<circle cx="161.9" cy="225.9" r="1.2"/>
<circle cx="162.3" cy="220.7" r="1.2"/>
<circle cx="88.2" cy="225.6" r="1.2"/>
<circle cx="160.9" cy="214.4" r="1.2"/>
<circle cx="168.5" cy="214.0" r="1.2"/>
<circle cx="221.3" cy="223.6" r="1.2"/>
<circle cx="216.3" cy="247.0" r="1.2"/>
<circle cx="93.8" cy="194.8" r="1.2"/>
<circle cx="105.6" cy="213.0" r="1.2"/>
<circle cx="141.5" cy="221.9" r="1.2"/>
<circle cx="200.7" cy="222.6" r="1.2"/>
<circle cx="109.3" cy="186.8" r="1.2"/>
<circle cx="199.8" cy="256.7" r="1.2"/>
<circle cx="172.8" cy="248.6" r="1.2"/>
<circle cx="215.3" cy="255.6" r="1.2"/>
<circle cx="135.5" cy="204.3" r="1.2"/>
<circle cx="144.5" cy="211.0" r="1.2"/>
<circle cx="93.5" cy="218.9" r="1.2"/>
<circle cx="161.7" cy="242.6" r="1.2"/>
<circle cx="199.9" cy="260.8" r="1.2"/>
<circle cx="161.0" cy="202.8" r="1.2"/>
<circle cx="162.2" cy="214.5" r="1.2"/>
<circle cx="220.9" cy="252.3" r="1.2"/>
<circle cx="198.7" cy="241.2" r="1.2"/>
<circle cx="131.3" cy="195.6" r="1.2"/>
<circle cx="225.3" cy="240.4" r="1.2"/>
<circle cx="192.5" cy="239.6" r="1.2"/>
<circle cx="129.4" cy="208.4" r="1.2"/>
<circle cx="116.0" cy="196.2" r="1.2"/>
<circle cx="185.2" cy="228.6" r="1.2"/>
<circle cx="160.0" cy="208.9" r="1.2"/>
<circle cx="173.7" cy="233.3" r="1.2"/>
<circle cx="103.8" cy="235.2" r="1.2"/>
<circle cx="198.6" cy="255.6" r="1.2"/>
<circle cx="212.8" cy="272.4" r="1.2"/>
<circle cx="147.1" cy="212.7" r="1.2"/>
<circle cx="129.9" cy="169.9" r="1.2"/>
<circle cx="229.8" cy="250.8" r="1.2"/>
<circle cx="229.8" cy="234.1" r="1.2"/>
<circle cx="103.1" cy="188.5" r="1.2"/>
<circle cx="165.0" cy="209.3" r="1.2"/>
<circle cx="149.6" cy="232.3" r="1.2"/>
<circle cx="126.3" cy="177.6" r="1.2"/>
<circle cx="161.8" cy="212.1" r="1.2"/>
<circle cx="184.1" cy="258.1" r="1.2"/>
<circle cx="139.1" cy="210.2" r="1.2"/>
<circle cx="130.3" cy="175.8" r="1.2"/>
<circle cx="213.1" cy="250.6" r="1.2"/>
<circle cx="182.5" cy="234.0" r="1.2"/>
<circle cx="130.0" cy="196.4" r="1.2"/>
<circle cx="107.8" cy="215.1" r="1.2"/>
<circle cx="141.8" cy="194.8" r="1.2"/>
<circle cx="224.4" cy="243.5" r="1.2"/>
<circle cx="208.3" cy="273.0" r="1.2"/>
<circle cx="115.8" cy="176.5" r="1.2"/>
<circle cx="174.8" cy="228.8" r="1.2"/>
<circle cx="85.3" cy="220.2" r="1.2"/>
<circle cx="219.7" cy="233.0" r="1.2"/>
<circle cx="224.9" cy="239.1" r="1.2"/>
<circle cx="116.8" cy="183.3" r="1.2"/>
<circle cx="135.6" cy="202.0" r="1.2"/>
<circle cx="129.4" cy="190.5" r="1.2"/>
<circle cx="112.2" cy="213.7" r="1.2"/>
<circle cx="186.3" cy="258.2" r="1.2"/>
<circle cx="140.6" cy="202.6" r="1.2"/>
<circle cx="85.2" cy="208.6" r="1.2"/>
<circle cx="117.2" cy="204.5" r="1.2"/>
<circle cx="183.0" cy="242.2" r="1.2"/>
<circle cx="189.1" cy="230.0" r="1.2"/>
<circle cx="87.0" cy="227.9" r="1.2"/>
<circle cx="166.4" cy="228.4" r="1.2"/>
<circle cx="179.7" cy="249.2" r="1.2"/>
<circle cx="179.4" cy="219.7" r="1.2"/>
<circle cx="181.6" cy="252.1" r="1.2"/>
<circle cx="200.8" cy="281.3" r="1.2"/>
<circle cx="134.4" cy="208.0" r="1.2"/>
<circle cx="211.3" cy="232.8" r="1.2"/>
<circle cx="150.3" cy="209.1" r="1.2"/>
<circle cx="93.5" cy="210.2" r="1.2"/>
<circle cx="181.6" cy="243.1" r="1.2"/>
<circle cx="135.6" cy="196.7" r="1.2"/>
<circle cx="179.1" cy="244.7" r="1.2"/>
<circle cx="140.1" cy="195.3" r="1.2"/>
<circle cx="158.7" cy="220.2" r="1.2"/>
<circle cx="167.2" cy="216.7" r="1.2"/>
<circle cx="190.0" cy="248.6" r="1.2"/>
<circle cx="128.7" cy="212.5" r="1.2"/>
<circle cx="184.3" cy="235.8" r="1.2"/>
<circle cx="119.2" cy="209.3" r="1.2"/>
<circle cx="202.4" cy="240.9" r="1.2"/>
<circle cx="119.0" cy="195.3" r="1.2"/>
<circle cx="95.2" cy="207.0" r="1.2"/>
<circle cx="90.2" cy="229.2" r="1.2"/>
<circle cx="173.7" cy="222.2" r="1.2"/>
<circle cx="132.6" cy="215.8" r="1.2"/>
<circle cx="170.1" cy="209.1" r="1.2"/>
<circle cx="130.8" cy="196.9" r="1.2"/>
<circle cx="150.0" cy="220.7" r="1.2"/>
<circle cx="214.2" cy="261.2" r="1.2"/>
<circle cx="222.1" cy="235.1" r="1.2"/>
<circle cx="90.9" cy="195.3" r="1.2"/>
<circle cx="225.8" cy="259.1" r="1.2"/>
<circle cx="159.7" cy="201.0" r="1.2"/>
<circle cx="194.7" cy="258.2" r="1.2"/>
<circle cx="223.0" cy="241.3" r="1.2"/>
<circle cx="112.6" cy="202.6" r="1.2"/>
<circle cx="141.4" cy="233.8" r="1.2"/>
<circle cx="216.7" cy="272.0" r="1.2"/>
<circle cx="161.9" cy="231.9" r="1.2"/>
<circle cx="218.2" cy="231.6" r="1.2"/>
<circle cx="209.4" cy="257.3" r="1.2"/>
<circle cx="233.3" cy="245.0" r="1.2"/>
<circle cx="183.0" cy="239.9" r="1.2"/>
<circle cx="94.5" cy="228.7" r="1.2"/>
<circle cx="219.0" cy="226.6" r="1.2"/>
<circle cx="112.1" cy="207.3" r="1.2"/>
<circle cx="107.9" cy="206.4" r="1.2"/>
<circle cx="139.5" cy="191.0" r="1.2"/>
<circle cx="115.3" cy="225.2" r="1.2"/>
<circle cx="105.3" cy="188.5" r="1.2"/>
<circle cx="179.6" cy="238.6" r="1.2"/>
<circle cx="220.1" cy="250.7" r="1.2"/>
<circle cx="123.8" cy="169.2" r="1.2"/>
<circle cx="140.2" cy="182.1" r="1.2"/>
<circle cx="180.0" cy="225.4" r="1.2"/>
<circle cx="129.2" cy="209.6" r="1.2"/>
<circle cx="158.0" cy="229.2" r="1.2"/>
<circle cx="220.5" cy="257.5" r="1.2"/>
<circle cx="101.9" cy="210.5" r="1.2"/>
<circle cx="164.2" cy="192.8" r="1.2"/>
<circle cx="116.3" cy="204.2" r="1.2"/>
<circle cx="199.7" cy="245.3" r="1.2"/>
<circle cx="115.5" cy="217.5" r="1.2"/>
<circle cx="205.3" cy="271.5" r="1.2"/>
<circle cx="144.5" cy="234.6" r="1.2"/>
<circle cx="223.2" cy="258.0" r="1.2"/>
<circle cx="138.6" cy="211.9" r="1.2"/>
<circle cx="158.0" cy="202.1" r="1.2"/>
<circle cx="100.4" cy="208.9" r="1.2"/>
<circle cx="125.8" cy="182.0" r="1.2"/>
<circle cx="146.4" cy="217.6" r="1.2"/>
<circle cx="217.5" cy="234.2" r="1.2"/>
<circle cx="171.9" cy="227.8" r="1.2"/>
<circle cx="205.1" cy="241.9" r="1.2"/>
<circle cx="211.7" cy="245.9" r="1.2"/>
<circle cx="97.9" cy="215.2" r="1.2"/>
<circle cx="131.4" cy="191.2" r="1.2"/>
<circle cx="208.5" cy="255.9" r="1.2"/>
<circle cx="197.1" cy="237.6" r="1.2"/>
<circle cx="168.5" cy="246.4" r="1.2"/>
<circle cx="144.7" cy="195.3" r="1.2"/>
<circle cx="158.8" cy="230.9" r="1.2"/>
<circle cx="86.7" cy="242.5" r="1.2"/>
<circle cx="103.7" cy="173.1" r="1.2"/>
<circle cx="137.5" cy="186.7" r="1.2"/>
<circle cx="105.4" cy="202.8" r="1.2"/>
<circle cx="118.8" cy="216.2" r="1.2"/>
<circle cx="204.7" cy="246.4" r="1.2"/>
<circle cx="199.0" cy="257.2" r="1.2"/>
<circle cx="193.4" cy="239.4" r="1.2"/>
<circle cx="168.9" cy="235.3" r="1.2"/>
<circle cx="221.8" cy="232.2" r="1.2"/>
<circle cx="118.7" cy="211.7" r="1.2"/>
<circle cx="176.9" cy="194.7" r="1.2"/>
<circle cx="147.2" cy="179.9" r="1.2"/>
<circle cx="224.9" cy="272.4" r="1.2"/>
<circle cx="135.7" cy="202.0" r="1.2"/>
<circle cx="120.0" cy="187.6" r="1.2"/>
<circle cx="198.9" cy="282.2" r="1.2"/>
<circle cx="205.2" cy="267.5" r="1.2"/>
<circle cx="191.6" cy="263.7" r="1.2"/>
<circle cx="201.2" cy="246.8" r="1.2"/>
<circle cx="113.1" cy="210.9" r="1.2"/>
<circle cx="174.6" cy="240.4" r="1.2"/>
<circle cx="164.5" cy="200.3" r="1.2"/>
<circle cx="220.0" cy="257.6" r="1.2"/>
<circle cx="143.7" cy="200.9" r="1.2"/>
<circle cx="121.1" cy="217.2" r="1.2"/>
<circle cx="130.3" cy="216.7" r="1.2"/>
<circle cx="160.8" cy="210.3" r="1.2"/>
<circle cx="231.0" cy="236.6" r="1.2"/>
<circle cx="188.5" cy="248.4" r="1.2"/>
<circle cx="191.8" cy="257.4" r="1.2"/>
<circle cx="154.1" cy="206.2" r="1.2"/>
<circle cx="143.6" cy="201.8" r="1.2"/>
<circle cx="223.3" cy="256.5" r="1.2"/>
<circle cx="151.6" cy="215.4" r="1.2"/>
<circle cx="103.2" cy="222.5" r="1.2"/>
<circle cx="200.7" cy="255.7" r="1.2"/>
<circle cx="114.6" cy="189.5" r="1.2"/>
<circle cx="142.6" cy="178.4" r="1.2"/>
<circle cx="175.7" cy="245.6" r="1.2"/>
<circle cx="208.5" cy="248.2" r="1.2"/>
<circle cx="85.5" cy="208.6" r="1.2"/>
<circle cx="181.7" cy="235.9" r="1.2"/>
<circle cx="104.8" cy="184.1" r="1.2"/>
<circle cx="178.6" cy="231.7" r="1.2"/>
<circle cx="174.6" cy="197.4" r="1.2"/>
<circle cx="161.5" cy="214.2" r="1.2"/>
<circle cx="148.0" cy="194.1" r="1.2"/>
<circle cx="165.1" cy="249.0" r="1.2"/>
<circle cx="227.1" cy="252.5" r="1.2"/>
<circle cx="137.0" cy="197.0" r="1.2"/>
<circle cx="154.7" cy="214.8" r="1.2"/>
<circle cx="106.5" cy="215.2" r="1.2"/>
<circle cx="142.4" cy="192.1" r="1.2"/>
<circle cx="92.2" cy="208.1" r="1.2"/>
<circle cx="220.0" cy="244.5" r="1.2"/>
<circle cx="136.0" cy="234.0" r="1.2"/>
<circle cx="224.2" cy="248.6" r="1.2"/>
<circle cx="104.6" cy="178.7" r="1.2"/>
<circle cx="183.1" cy="252.2" r="1.2"/>
<circle cx="174.3" cy="268.7" r="1.2"/>
<circle cx="183.0" cy="227.9" r="1.2"/>
<circle cx="95.6" cy="208.9" r="1.2"/>
<circle cx="194.7" cy="263.9" r="1.2"/>
<circle cx="88.4" cy="204.7" r="1.2"/>
<circle cx="129.4" cy="194.9" r="1.2"/>
<circle cx="210.8" cy="235.3" r="1.2"/>
<circle cx="169.5" cy="213.4" r="1.2"/>
<circle cx="223.2" cy="218.3" r="1.2"/>
<circle cx="212.9" cy="267.6" r="1.2"/>
<circle cx="147.6" cy="190.1" r="1.2"/>
<circle cx="126.4" cy="203.8" r="1.2"/>
<circle cx="114.9" cy="206.1" r="1.2"/>
<circle cx="90.8" cy="202.7" r="1.2"/>
<circle cx="191.2" cy="248.5" r="1.2"/>
<circle cx="204.6" cy="251.6" r="1.2"/>
<circle cx="91.6" cy="204.5" r="1.2"/>
<circle cx="157.8" cy="216.4" r="1.2"/>
<circle cx="208.3" cy="253.5" r="1.2"/>
<circle cx="179.8" cy="224.0" r="1.2"/>
<circle cx="146.6" cy="187.2" r="1.2"/>
<circle cx="226.0" cy="235.0" r="1.2"/>
<circle cx="147.5" cy="207.6" r="1.2"/>
<circle cx="131.0" cy="217.9" r="1.2"/>
<circle cx="158.6" cy="237.0" r="1.2"/>
<circle cx="136.2" cy="204.0" r="1.2"/>
<circle cx="142.9" cy="215.9" r="1.2"/>
<circle cx="158.6" cy="218.3" r="1.2"/>
<circle cx="96.0" cy="224.9" r="1.2"/>
<circle cx="174.4" cy="234.8" r="1.2"/>
<circle cx="171.3" cy="235.3" r="1.2"/>
<circle cx="190.5" cy="243.3" r="1.2"/>
<circle cx="120.7" cy="199.4" r="1.2"/>
<circle cx="90.6" cy="238.2" r="1.2"/>
<circle cx="190.0" cy="230.1" r="1.2"/>
<circle cx="139.5" cy="201.0" r="1.2"/>
<circle cx="173.5" cy="223.9" r="1.2"/>
<circle cx="124.8" cy="212.1" r="1.2"/>
<circle cx="136.4" cy="225.0" r="1.2"/>
<circle cx="123.7" cy="194.5" r="1.2"/>
<circle cx="157.9" cy="177.2" r="1.2"/>
<circle cx="181.0" cy="247.8" r="1.2"/>
<circle cx="119.6" cy="208.3" r="1.2"/>
<circle cx="131.6" cy="175.2" r="1.2"/>
<circle cx="153.4" cy="207.7" r="1.2"/>
<circle cx="188.3" cy="244.5" r="1.2"/>
<circle cx="139.5" cy="168.6" r="1.2"/>
<circle cx="93.8" cy="219.9" r="1.2"/>
<circle cx="161.8" cy="226.1" r="1.2"/>
<circle cx="152.2" cy="213.2" r="1.2"/>
<circle cx="233.1" cy="229.1" r="1.2"/>
<circle cx="170.9" cy="219.5" r="1.2"/>
<circle cx="91.4" cy="202.5" r="1.2"/>
<circle cx="180.4" cy="245.3" r="1.2"/>
<circle cx="96.8" cy="195.3" r="1.2"/>
<circle cx="140.0" cy="221.6" r="1.2"/>
<circle cx="89.7" cy="217.3" r="1.2"/>
<circle cx="174.0" cy="202.1" r="1.2"/>
<circle cx="110.2" cy="226.9" r="1.2"/>
<circle cx="225.2" cy="249.2" r="1.2"/>
<circle cx="113.3" cy="194.3" r="1.2"/>
<circle cx="228.7" cy="246.9" r="1.2"/>
<circle cx="220.7" cy="223.4" r="1.2"/>
<circle cx="161.7" cy="222.4" r="1.2"/>
<circle cx="153.7" cy="176.8" r="1.2"/>
<circle cx="142.5" cy="188.1" r="1.2"/>
<circle cx="196.1" cy="269.5" r="1.2"/>
<circle cx="112.5" cy="220.0" r="1.2"/>
<circle cx="137.3" cy="195.1" r="1.2"/>
<circle cx="93.2" cy="197.0" r="1.2"/>
<circle cx="148.2" cy="219.4" r="1.2"/>
<circle cx="113.0" cy="201.4" r="1.2"/>
<circle cx="221.5" cy="251.5" r="1.2"/>
<circle cx="151.6" cy="218.0" r="1.2"/>
<circle cx="117.7" cy="185.1" r="1.2"/>
<circle cx="125.3" cy="209.6" r="1.2"/>
<circle cx="111.1" cy="173.2" r="1.2"/>
<circle cx="97.8" cy="229.1" r="1.2"/>
<circle cx="92.4" cy="188.8" r="1.2"/>
<circle cx="191.3" cy="238.8" r="1.2"/>
<circle cx="100.1" cy="198.1" r="1.2"/>
<circle cx="209.9" cy="262.5" r="1.2"/>
<circle cx="228.7" cy="255.9" r="1.2"/>
<circle cx="220.7" cy="253.9" r="1.2"/>
<circle cx="110.8" cy="210.6" r="1.2"/>
<circle cx="202.7" cy="259.0" r="1.2"/>
<circle cx="173.5" cy="230.9" r="1.2"/>
<circle cx="225.4" cy="219.9" r="1.2"/>
<circle cx="174.7" cy="200.7" r="1.2"/>
<circle cx="176.3" cy="233.9" r="1.2"/>
<circle cx="112.8" cy="198.9" r="1.2"/>
<circle cx="173.9" cy="230.3" r="1.2"/>
<circle cx="192.6" cy="251.6" r="1.2"/>
<circle cx="204.7" cy="249.3" r="1.2"/>
<circle cx="212.0" cy="237.6" r="1.2"/>
<circle cx="88.5" cy="191.0" r="1.2"/>
<circle cx="197.5" cy="224.3" r="1.2"/>
<circle cx="132.8" cy="215.7" r="1.2"/>
<circle cx="198.6" cy="264.1" r="1.2"/>
<circle cx="107.0" cy="185.4" r="1.2"/>
<circle cx="140.5" cy="197.3" r="1.2"/>
<circle cx="145.0" cy="210.0" r="1.2"/>
<circle cx="188.1" cy="267.5" r="1.2"/>
<circle cx="176.3" cy="226.0" r="1.2"/>
<circle cx="205.7" cy="255.0" r="1.2"/>
<circle cx="85.4" cy="229.3" r="1.2"/>
<circle cx="126.9" cy="173.7" r="1.2"/>
<circle cx="194.2" cy="239.0" r="1.2"/>
<circle cx="120.2" cy="198.7" r="1.2"/>
<circle cx="210.2" cy="241.9" r="1.2"/>
<circle cx="130.8" cy="228.1" r="1.2"/>
<circle cx="183.9" cy="253.7" r="1.2"/>
<circle cx="92.7" cy="213.3" r="1.2"/>
<circle cx="221.0" cy="235.0" r="1.2"/>
<circle cx="101.3" cy="219.1" r="1.2"/>
<circle cx="145.8" cy="213.2" r="1.2"/>
<circle cx="142.5" cy="194.9" r="1.2"/>
<circle cx="129.7" cy="192.1" r="1.2"/>
<circle cx="164.4" cy="201.7" r="1.2"/>
<circle cx="162.7" cy="219.5" r="1.2"/>
<circle cx="202.8" cy="264.5" r="1.2"/>
<circle cx="229.3" cy="259.1" r="1.2"/>
<circle cx="203.8" cy="260.6" r="1.2"/>
<circle cx="192.3" cy="259.8" r="1.2"/>
<circle cx="114.0" cy="193.1" r="1.2"/>
<circle cx="116.1" cy="193.9" r="1.2"/>
<circle cx="86.4" cy="229.6" r="1.2"/>
<circle cx="98.4" cy="214.4" r="1.2"/>
<circle cx="201.1" cy="240.7" r="1.2"/>
<circle cx="93.0" cy="217.5" r="1.2"/>
<circle cx="124.7" cy="210.0" r="1.2"/>
<circle cx="141.6" cy="211.6" r="1.2"/>
<circle cx="107.9" cy="205.5" r="1.2"/>
<circle cx="135.1" cy="191.6" r="1.2"/>
<circle cx="122.1" cy="204.3" r="1.2"/>
<circle cx="145.5" cy="227.9" r="1.2"/>
<circle cx="111.1" cy="204.7" r="1.2"/>
<circle cx="88.3" cy="202.7" r="1.2"/>
<circle cx="219.9" cy="253.7" r="1.2"/>
<circle cx="195.2" cy="232.4" r="1.2"/>
<circle cx="199.3" cy="254.6" r="1.2"/>
<circle cx="122.5" cy="194.4" r="1.2"/>
<circle cx="224.5" cy="260.4" r="1.2"/>
<circle cx="208.7" cy="253.7" r="1.2"/>
<circle cx="145.4" cy="218.7" r="1.2"/>
<circle cx="127.6" cy="230.5" r="1.2"/>
<circle cx="202.7" cy="249.1" r="1.2"/>
<circle cx="87.6" cy="200.5" r="1.2"/>
<circle cx="169.8" cy="234.3" r="1.2"/>
<circle cx="213.8" cy="249.8" r="1.2"/>
<circle cx="220.5" cy="250.7" r="1.2"/>
<circle cx="222.2" cy="239.5" r="1.2"/>
<circle cx="148.4" cy="213.9" r="1.2"/>
<circle cx="86.8" cy="213.4" r="1.2"/>
<circle cx="136.6" cy="168.9" r="1.2"/>
<circle cx="124.8" cy="194.9" r="1.2"/>
<circle cx="170.7" cy="233.5" r="1.2"/>
<circle cx="192.5" cy="264.8" r="1.2"/>
<circle cx="230.5" cy="236.3" r="1.2"/>
<circle cx="104.0" cy="251.9" r="1.2"/>
<circle cx="132.4" cy="250.8" r="1.2"/>
<circle cx="92.7" cy="245.1" r="1.2"/>
<circle cx="189.1" cy="282.9" r="1.2"/>
<circle cx="192.9" cy="280.3" r="1.2"/>
<circle cx="215.6" cy="282.9" r="1.2"/>
<circle cx="217.5" cy="279.1" r="1.2"/>
<circle cx="187.2" cy="273.5" r="1.2"/>
<circle cx="126.7" cy="167.9" r="1.2"/>
<circle cx="134.3" cy="168.3" r="1.2"/>
<circle cx="130.5" cy="171.3" r="1.2"/>
<circle cx="143.8" cy="170.6" r="1.2"/>
<circle cx="149.4" cy="171.3" r="1.2"/>
<circle cx="232.6" cy="184.6" r="1.2"/>
<circle cx="227.0" cy="220.5" r="1.2"/>
<circle cx="213.7" cy="216.0" r="1.2"/>
<circle cx="168.3" cy="201.6" r="1.2"/>
<circle cx="162.7" cy="195.9" r="1.2"/>
</g>
<g fill="none" stroke="#ff0000" stroke-width="0.7">
<polyline points="84.0,226.2 85.0,226.6 86.0,223.9 87.0,223.2 88.0,222.0 89.0,221.0 90.0,219.0 91.1,216.8 92.1,217.5 93.1,215.3 94.1,214.6 95.1,216.2 96.1,214.5 97.1,212.2 98.1,211.8 99.1,211.4 100.1,210.0 101.1,208.3 102.1,209.9 103.2,209.5 104.2,208.8 105.2,207.9 106.2,208.3 107.2,208.2 108.2,206.5 109.2,206.7 110.2,206.0 111.2,206.7 112.2,205.8 113.2,204.3 114.2,204.4 115.2,206.2 116.3,203.5 117.3,204.3 118.3,203.3 119.3,204.7 120.3,203.5 121.3,203.0 122.3,202.3 123.3,202.9 124.3,203.6 125.3,203.4 126.3,201.7 127.3,204.0 128.4,202.4 129.4,201.6 130.4,202.7 131.4,202.4 132.4,202.4 133.4,202.9 134.4,203.7 135.4,204.0 136.4,203.4 137.4,205.8 138.4,205.4 139.4,207.2 140.5,207.2 141.5,207.7 142.5,208.1 143.5,209.7 144.5,209.2 145.5,209.1 146.5,211.0 147.5,209.5 148.5,212.4 149.5,213.8 150.5,214.0 151.5,216.3 152.5,216.8 153.6,217.4 154.6,218.1 155.6,220.3 156.6,219.9 157.6,220.9 158.6,222.7 159.6,223.6 160.6,226.0 161.6,225.2 162.6,225.1 163.6,228.3 164.6,229.8 165.7,229.9 166.7,232.5 167.7,233.8 168.7,232.6 169.7,233.7 170.7,234.1 171.7,236.5 172.7,237.6 173.7,238.3 174.7,237.6 175.7,238.6 176.7,238.9 177.7,239.2 178.8,240.0 179.8,240.6 180.8,242.4 181.8,243.3 182.8,244.1 183.8,243.9 184.8,243.7 185.8,244.6 186.8,245.6 187.8,245.3 188.8,246.0 189.8,246.0 190.9,246.3 191.9,247.0 192.9,246.2 193.9,248.4 194.9,246.4 195.9,248.3 196.9,247.0 197.9,249.4 198.9,249.1 199.9,247.9 200.9,248.2 201.9,247.7 203.0,248.6 204.0,248.9 205.0,250.2 206.0,246.6 207.0,248.2 208.0,246.5 209.0,247.0 210.0,246.9 211.0,246.2 212.0,245.6 213.0,244.8 214.0,244.2 215.0,243.6 216.1,244.0 217.1,240.9 218.1,240.8 219.1,239.3 220.1,238.8 221.1,238.0 222.1,238.6 223.1,238.7 224.1,237.1 225.1,234.3 226.1,234.1 227.1,231.8 228.2,231.8 229.2,231.2 230.2,229.6 231.2,228.6 232.2,226.7 233.2,223.9 234.2,222.4"/>
<polyline points="84.0,226.4 85.0,225.7 86.0,226.4 87.0,224.2 88.0,221.3 89.0,221.3 90.0,220.1 91.1,218.0 92.1,218.2 93.1,216.5 94.1,214.8 95.1,213.7 96.1,213.9 97.1,214.1 98.1,211.6 99.1,210.8 100.1,211.8 101.1,208.6 102.1,211.8 103.2,209.7 104.2,210.3 105.2,210.8 106.2,207.8 107.2,207.8 108.2,210.4 109.2,208.2 110.2,208.0 111.2,208.0 112.2,208.5 113.2,208.1 114.2,206.8 115.2,206.0 116.3,205.9 117.3,205.8 118.3,206.3 119.3,205.1 120.3,206.2 121.3,204.0 122.3,204.7 123.3,205.2 124.3,204.4 125.3,203.1 126.3,201.8 127.3,201.7 128.4,201.8 129.4,202.0 130.4,201.4 131.4,200.7 132.4,201.6 133.4,203.0 134.4,203.9 135.4,202.9 136.4,204.1 137.4,203.5 138.4,205.0 139.4,209.1 140.5,207.0 141.5,207.5 142.5,207.8 143.5,208.2 144.5,208.4 145.5,211.1 146.5,211.6 147.5,214.0 148.5,212.3 149.5,214.8 150.5,216.1 151.5,214.4 152.5,217.5 153.6,216.7 154.6,219.6 155.6,221.6 156.6,221.3 157.6,222.5 158.6,222.8 159.6,224.7 160.6,226.3 161.6,226.4 162.6,227.4 163.6,229.1 164.6,230.5 165.7,229.7 166.7,232.2 167.7,232.8 168.7,234.7 169.7,236.0 170.7,236.3 171.7,237.9 172.7,236.9 173.7,238.3 174.7,238.4 175.7,240.1 176.7,240.7 177.7,241.0 178.8,240.8 179.8,242.4 180.8,243.0 181.8,244.3 182.8,244.1 183.8,245.8 184.8,245.3 185.8,244.2 186.8,245.9 187.8,245.3 188.8,247.5 189.8,248.2 190.9,247.3 191.9,247.8 192.9,246.6 193.9,246.2 194.9,247.8 195.9,248.1 196.9,247.2 197.9,248.5 198.9,248.9 199.9,249.4 200.9,250.0 201.9,249.5 203.0,248.5 204.0,248.7 205.0,249.2 206.0,247.3 207.0,249.0 208.0,248.2 209.0,246.8 210.0,246.1 211.0,249.5 212.0,246.6 213.0,246.2 214.0,246.3 215.0,245.0 216.1,244.2 217.1,243.9 218.1,241.7 219.1,242.3 220.1,239.2 221.1,240.2 222.1,239.5 223.1,237.0 224.1,239.0 225.1,235.5 226.1,236.3 227.1,233.9 228.2,233.3 229.2,231.2 230.2,232.6 231.2,229.9 232.2,229.3 233.2,227.2 234.2,225.6"/>
<polyline points="84.0,227.3 85.0,225.4 86.0,225.4 87.0,223.1 88.0,222.9 89.0,222.1 90.0,220.3 91.1,218.7 92.1,219.5 93.1,217.7 94.1,217.1 95.1,217.0 96.1,214.3 97.1,213.8 98.1,215.5 99.1,212.6 100.1,211.0 101.1,211.0 102.1,210.2 103.2,209.1 104.2,209.0 105.2,209.0 106.2,208.9 107.2,208.8 108.2,206.4 109.2,206.3 110.2,207.8 111.2,206.5 112.2,207.6 113.2,206.6 114.2,204.8 115.2,206.1 116.3,204.6 117.3,205.3 118.3,205.9 119.3,206.6 120.3,204.6 121.3,204.7 122.3,204.3 123.3,204.6 124.3,201.7 125.3,203.4 126.3,203.9 127.3,203.8 128.4,202.6 129.4,203.8 130.4,204.0 131.4,203.3 132.4,203.5 133.4,203.7 134.4,204.7 135.4,205.8 136.4,206.7 137.4,205.6 138.4,205.7 139.4,206.4 140.5,208.5 141.5,208.4 142.5,209.4 143.5,210.2 144.5,211.0 145.5,211.3 146.5,211.5 147.5,212.6 148.5,214.2 149.5,215.2 150.5,215.7 151.5,216.6 152.5,218.9 153.6,218.5 154.6,220.1 155.6,220.8 156.6,221.5 157.6,222.0 158.6,223.9 159.6,224.7 160.6,227.0 161.6,226.5 162.6,228.2 163.6,230.2 164.6,230.9 165.7,232.3 166.7,233.9 167.7,233.1 168.7,234.8 169.7,235.3 170.7,238.1 171.7,237.6 172.7,238.9 173.7,240.6 174.7,239.6 175.7,241.0 176.7,241.8 177.7,241.8 178.8,243.6 179.8,243.8 180.8,244.7 181.8,244.4 182.8,244.3 183.8,245.1 184.8,245.5 185.8,244.8 186.8,246.9 187.8,247.8 188.8,247.6 189.8,247.6 190.9,248.0 191.9,248.6 192.9,249.1 193.9,250.7 194.9,248.8 195.9,249.9 196.9,250.2 197.9,249.9 198.9,249.6 199.9,249.1 200.9,249.5 201.9,250.4 203.0,250.8 204.0,248.9 205.0,249.4 206.0,249.3 207.0,249.4 208.0,248.3 209.0,248.0 210.0,248.0 211.0,245.9 212.0,246.3 213.0,244.2 214.0,243.2 215.0,243.5 216.1,242.3 217.1,243.4 218.1,243.3 219.1,241.4 220.1,240.8 221.1,239.7 222.1,238.7 223.1,238.3 224.1,237.4 225.1,235.7 226.1,234.3 227.1,233.7 228.2,233.7 229.2,231.6 230.2,231.9 231.2,229.3 232.2,229.3 233.2,225.8 234.2,224.8"/>
<polyline points="84.0,227.7 85.0,224.8 86.0,224.9 87.0,223.8 88.0,224.7 89.0,222.4 90.0,220.3 91.1,218.1 92.1,218.2 93.1,216.0 94.1,216.7 95.1,216.0 96.1,214.7 97.1,214.3 98.1,213.1 99.1,212.2 100.1,213.1 101.1,211.5 102.1,210.2 103.2,209.3 104.2,209.9 105.2,209.8 106.2,209.7 107.2,209.9 108.2,209.0 109.2,207.1 110.2,209.4 111.2,208.3 112.2,207.9 113.2,208.1 114.2,205.4 115.2,206.3 116.3,206.1 117.3,207.2 118.3,204.9 119.3,205.2 120.3,206.4 121.3,205.5 122.3,204.3 123.3,205.9 124.3,203.2 125.3,204.1 126.3,203.2 127.3,203.5 128.4,202.6 129.4,202.2 130.4,202.6 131.4,201.6 132.4,203.3 133.4,203.0 134.4,204.4 135.4,203.9 136.4,204.4 137.4,206.0 138.4,207.1 139.4,205.0 140.5,207.5 141.5,208.7 142.5,207.8 143.5,208.9 144.5,210.8 145.5,210.6 146.5,211.6 147.5,214.4 148.5,213.3 149.5,214.3 150.5,214.1 151.5,216.1 152.5,216.9 153.6,220.3 154.6,220.8 155.6,219.8 156.6,223.7 157.6,223.8 158.6,224.2 159.6,226.0 160.6,226.7 161.6,227.1 162.6,227.3 163.6,229.0 164.6,230.8 165.7,231.5 166.7,232.2 167.7,234.4 168.7,233.8 169.7,236.3 170.7,236.3 171.7,237.4 172.7,237.3 173.7,239.1 174.7,239.4 175.7,239.2 176.7,240.7 177.7,241.4 178.8,242.8 179.8,242.9 180.8,242.7 181.8,243.6 182.8,242.7 183.8,244.2 184.8,246.6 185.8,247.1 186.8,247.0 187.8,247.1 188.8,247.6 189.8,247.6 190.9,246.4 191.9,247.7 192.9,249.4 193.9,249.6 194.9,249.2 195.9,248.8 196.9,249.0 197.9,249.0 198.9,248.9 199.9,248.4 200.9,250.0 201.9,249.5 203.0,249.6 204.0,251.1 205.0,250.1 206.0,248.7 207.0,249.2 208.0,247.4 209.0,249.2 210.0,248.1 211.0,247.4 212.0,247.6 213.0,247.8 214.0,245.9 215.0,244.8 216.1,246.8 217.1,244.6 218.1,244.9 219.1,242.3 220.1,242.3 221.1,240.7 222.1,241.0 223.1,239.3 224.1,238.2 225.1,239.0 226.1,236.8 227.1,233.8 228.2,233.9 229.2,232.0 230.2,230.4 231.2,229.6 232.2,228.5 233.2,227.5 234.2,225.2"/>
<polyline points="84.0,229.5 85.0,227.3 86.0,226.6 87.0,225.0 88.0,222.4 89.0,222.2 90.0,220.0 91.1,220.1 92.1,218.8 93.1,218.7 94.1,217.1 95.1,216.8 96.1,215.5 97.1,214.5 98.1,213.0 99.1,214.1 100.1,212.7 101.1,211.5 102.1,211.5 103.2,210.6 104.2,210.0 105.2,210.6 106.2,211.1 107.2,209.7 108.2,208.4 109.2,208.6 110.2,210.1 111.2,207.7 112.2,209.0 113.2,207.6 114.2,208.0 115.2,206.8 116.3,205.3 117.3,205.9 118.3,207.8 119.3,205.8 120.3,205.9 121.3,205.1 122.3,205.0 123.3,205.3 124.3,205.2 125.3,206.4 126.3,204.6 127.3,204.1 128.4,203.7 129.4,203.1 130.4,203.2 131.4,204.9 132.4,203.0 133.4,206.1 134.4,206.2 135.4,205.9 136.4,205.5 137.4,207.0 138.4,207.6 139.4,209.1 140.5,208.2 141.5,209.0 142.5,209.9 143.5,210.2 144.5,210.6 145.5,210.5 146.5,211.5 147.5,213.3 148.5,214.3 149.5,216.1 150.5,218.1 151.5,218.8 152.5,218.7 153.6,220.7 154.6,220.1 155.6,220.8 156.6,224.1 157.6,222.4 158.6,224.0 159.6,225.4 160.6,227.7 161.6,227.2 162.6,229.5 163.6,229.8 164.6,230.4 165.7,232.8 166.7,233.8 167.7,233.8 168.7,235.1 169.7,236.0 170.7,238.2 171.7,238.8 172.7,239.6 173.7,240.7 174.7,240.6 175.7,242.1 176.7,241.8 177.7,241.7 178.8,242.6 179.8,243.6 180.8,244.0 181.8,245.2 182.8,243.4 183.8,245.0 184.8,246.0 185.8,245.4 186.8,246.9 187.8,246.8 188.8,246.5 189.8,248.7 190.9,247.0 191.9,249.4 192.9,248.5 193.9,248.4 194.9,248.8 195.9,249.0 196.9,249.3 197.9,250.6 198.9,249.2 199.9,251.8 200.9,251.6 201.9,251.9 203.0,250.2 204.0,249.1 205.0,250.3 206.0,250.4 207.0,250.5 208.0,249.7 209.0,249.8 210.0,249.8 211.0,247.9 212.0,250.2 213.0,247.2 214.0,247.6 215.0,247.6 216.1,245.2 217.1,245.2 218.1,245.7 219.1,243.1 220.1,242.9 221.1,241.4 222.1,240.3 223.1,239.5 224.1,238.0 225.1,237.1 226.1,237.0 227.1,235.0 228.2,234.0 229.2,231.3 230.2,231.1 231.2,231.0 232.2,229.5 233.2,227.6 234.2,225.5"/>
<polyline points="84.0,229.2 85.0,229.2 86.0,226.9 87.0,225.8 88.0,223.0 89.0,222.8 90.0,220.1 91.1,221.9 92.1,220.0 93.1,216.9 94.1,216.4 95.1,217.6 96.1,216.8 97.1,215.8 98.1,215.8 99.1,216.0 100.1,214.1 101.1,211.8 102.1,212.6 103.2,211.2 104.2,211.2 105.2,211.7 106.2,211.0 107.2,209.9 108.2,210.6 109.2,209.4 110.2,210.4 111.2,209.4 112.2,209.6 113.2,208.9 114.2,209.4 115.2,208.3 116.3,208.0 117.3,207.2 118.3,207.4 119.3,205.4 120.3,208.9 121.3,206.0 122.3,206.6 123.3,205.7 124.3,205.6 125.3,205.8 126.3,204.9 127.3,204.8 128.4,203.8 129.4,204.0 130.4,203.9 131.4,206.5 132.4,204.5 133.4,204.9 134.4,206.5 135.4,207.8 136.4,205.6 137.4,206.2 138.4,208.1 139.4,208.5 140.5,207.7 141.5,208.0 142.5,209.4 143.5,211.4 144.5,211.4 145.5,212.5 146.5,212.5 147.5,213.2 148.5,214.9 149.5,215.0 150.5,216.2 151.5,216.1 152.5,217.3 153.6,219.2 154.6,219.6 155.6,220.4 156.6,222.6 157.6,223.4 158.6,224.1 159.6,224.6 160.6,227.3 161.6,229.6 162.6,228.3 163.6,228.9 164.6,230.6 165.7,231.8 166.7,233.1 167.7,234.2 168.7,237.0 169.7,238.2 170.7,239.4 171.7,239.4 172.7,239.4 173.7,241.4 174.7,241.0 175.7,241.7 176.7,241.6 177.7,244.1 178.8,244.4 179.8,244.0 180.8,244.5 181.8,245.1 182.8,245.8 183.8,246.7 184.8,246.5 185.8,247.2 186.8,246.5 187.8,247.7 188.8,246.9 189.8,250.2 190.9,250.3 191.9,250.0 192.9,250.3 193.9,251.3 194.9,250.9 195.9,249.3 196.9,250.5 197.9,248.9 198.9,250.4 199.9,250.1 200.9,251.4 201.9,251.6 203.0,250.6 204.0,250.6 205.0,250.6 206.0,250.1 207.0,249.9 208.0,248.2 209.0,249.5 210.0,249.8 211.0,249.0 212.0,247.1 213.0,247.6 214.0,247.2 215.0,245.9 216.1,246.4 217.1,244.5 218.1,244.0 219.1,243.6 220.1,244.6 221.1,241.4 222.1,240.3 223.1,240.2 224.1,238.3 225.1,238.0 226.1,235.0 227.1,236.0 228.2,234.4 229.2,232.2 230.2,233.0 231.2,230.5 232.2,229.4 233.2,227.2 234.2,225.6"/>
<polyline points="84.0,229.6 85.0,227.6 86.0,225.5 87.0,225.1 88.0,223.2 89.0,221.2 90.0,222.8 91.1,218.9 92.1,219.9 93.1,219.4 94.1,218.2 95.1,219.9 96.1,217.1 97.1,215.9 98.1,217.4 99.1,214.4 100.1,213.2 101.1,212.9 102.1,212.8 103.2,213.1 104.2,213.0 105.2,211.2 106.2,212.4 107.2,213.4 108.2,210.5 109.2,210.5 110.2,210.9 111.2,211.0 112.2,209.2 113.2,208.6 114.2,208.2 115.2,209.5 116.3,209.2 117.3,206.3 118.3,206.0 119.3,206.4 120.3,205.8 121.3,207.1 122.3,206.7 123.3,208.0 124.3,206.8 125.3,206.2 126.3,207.0 127.3,204.8 128.4,204.2 129.4,205.3 130.4,206.4 131.4,204.3 132.4,206.5 133.4,206.9 134.4,206.4 135.4,207.5 136.4,207.7 137.4,208.7 138.4,209.6 139.4,208.7 140.5,210.8 141.5,211.2 142.5,211.9 143.5,210.3 144.5,211.1 145.5,213.7 146.5,213.5 147.5,214.3 148.5,215.1 149.5,215.3 150.5,217.1 151.5,217.9 152.5,218.8 153.6,220.8 154.6,220.7 155.6,223.6 156.6,221.9 157.6,227.0 158.6,224.9 159.6,227.6 160.6,228.8 161.6,229.3 162.6,231.0 163.6,231.6 164.6,231.3 165.7,234.0 166.7,235.6 167.7,235.2 168.7,235.4 169.7,237.3 170.7,238.8 171.7,239.5 172.7,241.0 173.7,241.4 174.7,242.1 175.7,241.1 176.7,245.0 177.7,243.9 178.8,245.1 179.8,244.8 180.8,245.7 181.8,246.3 182.8,248.1 183.8,248.5 184.8,248.2 185.8,249.7 186.8,248.3 187.8,249.4 188.8,248.9 189.8,250.6 190.9,249.7 191.9,251.0 192.9,251.7 193.9,248.8 194.9,252.7 195.9,251.7 196.9,251.4 197.9,250.0 198.9,251.4 199.9,249.9 200.9,251.9 201.9,251.7 203.0,253.3 204.0,251.3 205.0,252.0 206.0,251.6 207.0,251.8 208.0,249.7 209.0,250.2 210.0,248.1 211.0,247.9 212.0,248.1 213.0,248.0 214.0,246.4 215.0,246.5 216.1,246.9 217.1,245.3 218.1,244.9 219.1,243.6 220.1,244.6 221.1,244.1 222.1,242.0 223.1,240.9 224.1,241.3 225.1,239.2 226.1,236.9 227.1,235.3 228.2,234.6 229.2,235.7 230.2,232.2 231.2,233.7 232.2,230.1 233.2,228.5 234.2,228.3"/>
</g></g>
<rect x="435.7" y="0.45" width="113.59999999999997" height="230.25" fill="#fff" stroke="#2a2a2a" stroke-width="0.8"/>
<g font-family='"Liberation Serif", serif' font-size="16" fill="#111">
<line x1="440.4" y1="12.55" x2="463" y2="12.55" stroke="#0000ff" stroke-width="1.5"/>
<text transform="translate(467.05,16.75) scale(1.261,0.990)" font-style="italic">B</text>
<text transform="translate(478.55,19.32) scale(0.789,0.718)">0</text>
<text transform="translate(488.87,19.53) scale(1.476,1.050)">=</text>
<text transform="translate(506.19,16.92) scale(1.026,1.017)">6.0</text>
<text transform="translate(531.78,16.85) scale(1.162,1.048)">T</text>
<line x1="440.4" y1="31.31" x2="463" y2="31.31" stroke="#1700e8" stroke-width="1.5"/>
<text transform="translate(467.05,35.51) scale(1.261,0.990)" font-style="italic">B</text>
<text transform="translate(478.55,38.08) scale(0.789,0.718)">0</text>
<text transform="translate(488.87,38.29) scale(1.476,1.050)">=</text>
<text transform="translate(506.19,35.68) scale(1.026,1.017)">5.5</text>
<text transform="translate(531.78,35.61) scale(1.162,1.048)">T</text>
<line x1="440.4" y1="50.07" x2="463" y2="50.07" stroke="#2e00d1" stroke-width="1.5"/>
<text transform="translate(467.05,54.27) scale(1.261,0.990)" font-style="italic">B</text>
<text transform="translate(478.55,56.84) scale(0.789,0.718)">0</text>
<text transform="translate(488.87,57.05) scale(1.476,1.050)">=</text>
<text transform="translate(506.19,54.44) scale(1.026,1.017)">5.0</text>
<text transform="translate(531.78,54.37) scale(1.162,1.048)">T</text>
<line x1="440.4" y1="68.83" x2="463" y2="68.83" stroke="#4600b9" stroke-width="1.5"/>
<text transform="translate(467.05,73.03) scale(1.261,0.990)" font-style="italic">B</text>
<text transform="translate(478.55,75.60) scale(0.789,0.718)">0</text>
<text transform="translate(488.87,75.81) scale(1.476,1.050)">=</text>
<text transform="translate(506.19,73.20) scale(1.026,1.017)">4.5</text>
<text transform="translate(531.78,73.13) scale(1.162,1.048)">T</text>
<line x1="440.4" y1="87.59" x2="463" y2="87.59" stroke="#5d00a2" stroke-width="1.5"/>
<text transform="translate(467.05,91.79) scale(1.261,0.990)" font-style="italic">B</text>
<text transform="translate(478.55,94.36) scale(0.789,0.718)">0</text>
<text transform="translate(488.87,94.57) scale(1.476,1.050)">=</text>
<text transform="translate(506.19,91.96) scale(1.026,1.017)">4.0</text>
<text transform="translate(531.78,91.89) scale(1.162,1.048)">T</text>
<line x1="440.4" y1="106.35" x2="463" y2="106.35" stroke="#74008b" stroke-width="1.5"/>
<text transform="translate(467.05,110.55) scale(1.261,0.990)" font-style="italic">B</text>
<text transform="translate(478.55,113.12) scale(0.789,0.718)">0</text>
<text transform="translate(488.87,113.33) scale(1.476,1.050)">=</text>
<text transform="translate(506.19,110.72) scale(1.026,1.017)">3.5</text>
<text transform="translate(531.78,110.65) scale(1.162,1.048)">T</text>
<line x1="440.4" y1="125.11" x2="463" y2="125.11" stroke="#8b0074" stroke-width="1.5"/>
<text transform="translate(467.05,129.31) scale(1.261,0.990)" font-style="italic">B</text>
<text transform="translate(478.55,131.88) scale(0.789,0.718)">0</text>
<text transform="translate(488.87,132.09) scale(1.476,1.050)">=</text>
<text transform="translate(506.19,129.48) scale(1.026,1.017)">3.0</text>
<text transform="translate(531.78,129.41) scale(1.162,1.048)">T</text>
<line x1="440.4" y1="143.87" x2="463" y2="143.87" stroke="#a2005d" stroke-width="1.5"/>
<text transform="translate(467.05,148.07) scale(1.261,0.990)" font-style="italic">B</text>
<text transform="translate(478.55,150.64) scale(0.789,0.718)">0</text>
<text transform="translate(488.87,150.85) scale(1.476,1.050)">=</text>
<text transform="translate(506.19,148.24) scale(1.026,1.017)">2.5</text>
<text transform="translate(531.78,148.17) scale(1.162,1.048)">T</text>
<line x1="440.4" y1="162.63" x2="463" y2="162.63" stroke="#b90046" stroke-width="1.5"/>
<text transform="translate(467.05,166.83) scale(1.261,0.990)" font-style="italic">B</text>
<text transform="translate(478.55,169.40) scale(0.789,0.718)">0</text>
<text transform="translate(488.87,169.61) scale(1.476,1.050)">=</text>
<text transform="translate(506.19,167.00) scale(1.026,1.017)">2.0</text>
<text transform="translate(531.78,166.93) scale(1.162,1.048)">T</text>
<line x1="440.4" y1="181.39" x2="463" y2="181.39" stroke="#d1002e" stroke-width="1.5"/>
<text transform="translate(467.05,185.59) scale(1.261,0.990)" font-style="italic">B</text>
<text transform="translate(478.55,188.16) scale(0.789,0.718)">0</text>
<text transform="translate(488.87,188.37) scale(1.476,1.050)">=</text>
<text transform="translate(506.19,185.76) scale(1.026,1.017)">1.5</text>
<text transform="translate(531.78,185.69) scale(1.162,1.048)">T</text>
<line x1="440.4" y1="200.15" x2="463" y2="200.15" stroke="#e80017" stroke-width="1.5"/>
<text transform="translate(467.05,204.35) scale(1.261,0.990)" font-style="italic">B</text>
<text transform="translate(478.55,206.92) scale(0.789,0.718)">0</text>
<text transform="translate(488.87,207.13) scale(1.476,1.050)">=</text>
<text transform="translate(506.19,204.52) scale(1.026,1.017)">1.0</text>
<text transform="translate(531.78,204.45) scale(1.162,1.048)">T</text>
<line x1="440.4" y1="218.91" x2="463" y2="218.91" stroke="#ff0000" stroke-width="1.5"/>
<text transform="translate(467.05,223.11) scale(1.261,0.990)" font-style="italic">B</text>
<text transform="translate(478.55,225.68) scale(0.789,0.718)">0</text>
<text transform="translate(488.87,225.89) scale(1.476,1.050)">=</text>
<text transform="translate(506.19,223.28) scale(1.026,1.017)">0.5</text>
<text transform="translate(531.78,223.21) scale(1.162,1.048)">T</text>
<text transform="translate(51.46,15.75) scale(1.036,0.985)">1</text>
<text transform="translate(39.19,86.32) scale(1.036,1.017)">0.5</text>
<text transform="translate(52.04,156.34) scale(0.952,0.970)">0</text>
<text transform="translate(27.46,226.96) scale(1.237,1.000)">−</text>
<text transform="translate(39.61,225.73) scale(0.994,1.007)">0.5</text>
<text transform="translate(39.76,297.26) scale(1.237,1.000)">−</text>
<text transform="translate(51.54,296.05) scale(0.982,0.985)">1</text>
<text transform="translate(61.08,317.33) scale(1.042,1.007)">0</text>
<text transform="translate(137.61,319.00) scale(1.017,0.918)" font-style="italic">π</text>
<text transform="translate(146.79,323.11) scale(1.763,1.487)">/</text>
<text transform="translate(155.02,319.15) scale(1.047,1.019)">2</text>
<text transform="translate(162.45,319.21) scale(0.913,0.898)" font-style="italic">ω</text>
<text transform="translate(231.37,319.00) scale(1.017,0.918)" font-style="italic">π</text>
<text transform="translate(240.56,323.11) scale(1.763,1.487)">/</text>
<text transform="translate(248.22,319.21) scale(0.913,0.898)" font-style="italic">ω</text>
<text transform="translate(313.28,319.19) scale(1.021,1.023)">3</text>
<text transform="translate(321.13,319.00) scale(1.017,0.918)" font-style="italic">π</text>
<text transform="translate(330.32,323.11) scale(1.763,1.487)">/</text>
<text transform="translate(338.55,319.15) scale(1.047,1.019)">2</text>
<text transform="translate(345.98,319.21) scale(0.913,0.898)" font-style="italic">ω</text>
<text transform="translate(407.19,319.15) scale(1.047,1.019)">2</text>
<text transform="translate(414.90,319.00) scale(1.017,0.918)" font-style="italic">π</text>
<text transform="translate(424.08,323.11) scale(1.763,1.487)">/</text>
<text transform="translate(431.74,319.21) scale(0.913,0.898)" font-style="italic">ω</text>
<text transform="translate(242.58,343.59) scale(1.082,1.031)">t</text>
<g transform="rotate(-90)">
<text transform="translate(-179.96,12.29) scale(0.842,1.013)" font-style="italic">U</text>
<text transform="translate(-169.17,14.65) scale(0.855,0.558)" font-style="italic">i</text>
<text transform="translate(-160.87,12.65) scale(1.118,1.042)">(mV)</text>
</g>
</g>
</svg>
</body></html>
